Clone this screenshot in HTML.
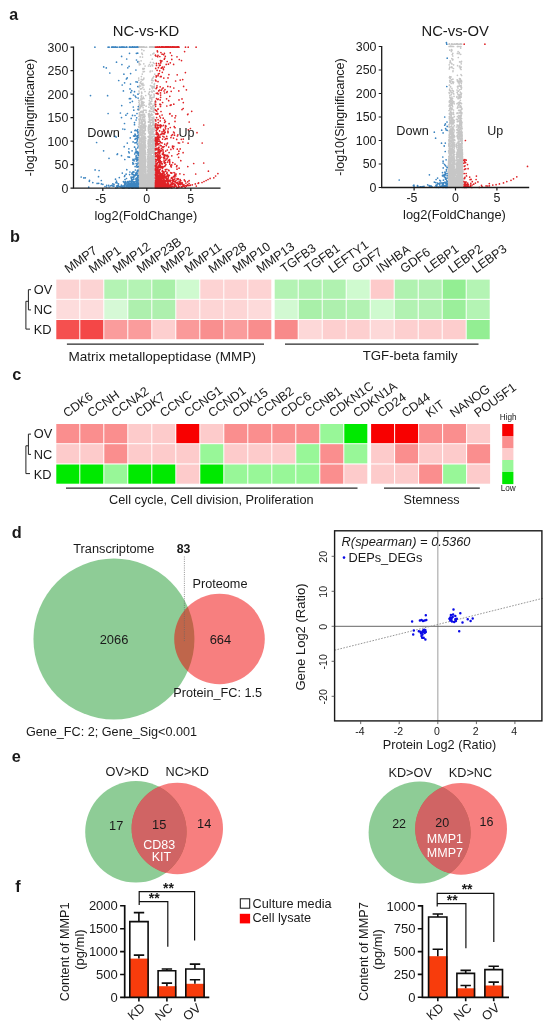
<!DOCTYPE html>
<html lang="en"><head><meta charset="utf-8"><title>Figure</title>
<style>html,body{margin:0;padding:0;background:#fff;width:550px;height:1025px;overflow:hidden}svg{display:block}text{font-family:"Liberation Sans",Arial,Helvetica,sans-serif;fill:#1a1a1a}</style></head>
<body>
<svg width="550" height="1025" viewBox="0 0 550 1025">
<rect width="550" height="1025" fill="#fff"/>
<g>
<path d="M154.2 168.9h.01M141.0 149.2h.01M154.1 120.0h.01M143.7 185.8h.01M145.5 152.5h.01M152.2 186.8h.01M145.3 173.0h.01M147.6 187.4h.01M139.1 183.4h.01M150.9 150.8h.01M147.4 178.5h.01M144.0 167.7h.01M151.5 138.1h.01M143.6 155.1h.01M146.0 170.5h.01M140.8 184.7h.01M145.2 129.0h.01M141.9 183.2h.01M142.9 186.6h.01M150.9 98.4h.01M143.2 165.7h.01M154.7 169.8h.01M154.4 177.0h.01M150.5 148.3h.01M143.1 126.3h.01M141.2 152.4h.01M154.5 152.2h.01M140.5 180.5h.01M148.8 169.3h.01M151.3 137.8h.01M148.6 141.0h.01M153.6 159.5h.01M139.3 144.0h.01M139.6 187.6h.01M149.1 171.7h.01M152.6 86.7h.01M148.3 156.1h.01M142.9 165.5h.01M152.4 151.5h.01M150.9 157.8h.01M141.0 146.1h.01M152.0 130.5h.01M149.8 175.8h.01M151.5 165.5h.01M141.8 171.7h.01M151.7 186.3h.01M141.7 148.6h.01M140.0 181.5h.01M152.6 158.0h.01M152.7 131.3h.01M153.0 163.2h.01M143.1 85.3h.01M138.7 166.1h.01M149.2 129.6h.01M150.4 71.1h.01M152.3 174.4h.01M143.2 142.5h.01M142.1 166.6h.01M149.1 126.1h.01M151.8 152.4h.01M154.4 184.8h.01M141.1 181.4h.01M153.3 167.4h.01M145.5 153.1h.01M148.3 185.0h.01M139.0 185.1h.01M149.6 143.9h.01M153.7 97.2h.01M152.1 144.8h.01M153.1 183.2h.01M149.4 132.7h.01M142.6 183.1h.01M151.2 140.6h.01M142.1 174.1h.01M152.2 169.1h.01M139.6 174.3h.01M152.1 117.5h.01M141.3 186.8h.01M144.8 152.9h.01M143.8 127.9h.01M149.9 175.8h.01M141.5 176.6h.01M145.1 150.3h.01M138.7 78.1h.01M142.9 180.0h.01M140.3 174.3h.01M149.0 167.4h.01M144.8 181.4h.01M150.5 152.7h.01M149.3 111.5h.01M145.7 185.4h.01M152.8 166.3h.01M149.0 151.7h.01M151.9 109.3h.01M144.2 176.8h.01M147.5 181.1h.01M141.8 173.8h.01M154.9 138.7h.01M142.6 173.7h.01M142.8 176.2h.01M139.8 171.5h.01M142.8 169.3h.01M151.1 154.0h.01M150.0 155.9h.01M140.7 179.6h.01M144.8 152.3h.01M145.5 185.4h.01M149.5 133.8h.01M148.2 180.9h.01M152.4 142.8h.01M150.5 156.7h.01M144.6 175.0h.01M146.0 177.0h.01M144.6 184.4h.01M140.4 175.5h.01M141.9 139.9h.01M143.3 186.3h.01M143.8 187.9h.01M143.7 79.0h.01M148.1 182.8h.01M154.5 159.1h.01M151.3 103.9h.01M151.6 182.9h.01M151.0 154.7h.01M148.4 179.7h.01M153.6 178.1h.01M149.9 181.2h.01M139.9 152.1h.01M142.1 165.0h.01M140.8 179.0h.01M151.5 173.3h.01M143.4 124.5h.01M151.2 182.1h.01M141.1 177.6h.01M154.4 108.0h.01M145.2 161.5h.01M143.4 187.3h.01M152.5 161.9h.01M140.7 163.6h.01M150.6 145.3h.01M141.7 170.3h.01M145.0 153.5h.01M142.4 119.1h.01M152.4 152.2h.01M145.0 186.6h.01M154.6 143.4h.01M148.9 157.3h.01M150.0 163.8h.01M143.7 167.4h.01M145.1 66.0h.01M154.0 177.7h.01M141.9 53.2h.01M154.8 172.0h.01M151.0 186.5h.01M144.5 181.6h.01M144.9 170.7h.01M144.9 179.4h.01M138.9 102.5h.01M154.5 174.8h.01M143.3 147.4h.01M150.9 138.5h.01M142.0 84.7h.01M153.4 181.5h.01M138.9 154.5h.01M143.6 180.7h.01M155.0 177.4h.01M142.9 166.9h.01M152.5 146.6h.01M148.5 66.0h.01M151.8 176.4h.01M148.9 149.0h.01M144.6 185.3h.01M151.1 169.8h.01M139.0 47.2h.01M145.9 178.8h.01M144.7 166.3h.01M140.7 179.1h.01M142.3 169.4h.01M147.8 176.7h.01M145.0 177.3h.01M151.6 184.2h.01M148.5 130.7h.01M152.7 162.6h.01M150.6 182.7h.01M148.5 173.7h.01M143.3 180.9h.01M151.4 145.9h.01M142.7 174.0h.01M139.8 158.8h.01M154.4 105.2h.01M151.3 173.5h.01M148.6 93.9h.01M139.2 178.0h.01M141.7 103.6h.01M149.7 185.5h.01M148.0 169.3h.01M141.2 171.3h.01M154.2 151.8h.01M141.1 169.2h.01M141.0 171.2h.01M150.4 150.3h.01M143.1 187.4h.01M140.8 146.7h.01M139.4 186.2h.01M141.5 99.6h.01M141.8 154.4h.01M146.0 176.9h.01M154.3 95.2h.01M154.2 166.4h.01M151.7 168.6h.01M149.6 182.8h.01M152.4 140.7h.01M154.0 167.6h.01M139.0 61.7h.01M140.5 145.1h.01M144.5 181.3h.01M140.1 180.9h.01M148.4 166.3h.01M142.9 175.3h.01M142.9 178.6h.01M143.3 180.9h.01M140.2 168.1h.01M150.7 55.0h.01M149.3 116.9h.01M148.5 136.4h.01M139.2 47.2h.01M145.6 187.7h.01M149.8 166.1h.01M141.2 172.3h.01M144.9 175.2h.01M138.9 181.2h.01M140.0 146.1h.01M142.2 99.0h.01M145.4 158.3h.01M153.1 185.2h.01M143.8 182.8h.01M139.0 153.3h.01M152.1 138.3h.01M139.6 170.8h.01M140.1 154.4h.01M154.4 169.5h.01M150.9 169.7h.01M144.1 181.8h.01M140.8 182.2h.01M144.2 132.8h.01M152.9 175.1h.01M145.5 184.2h.01M140.0 132.4h.01M153.8 162.0h.01M148.8 142.3h.01M140.5 112.0h.01M140.5 165.5h.01M146.2 184.7h.01M140.1 182.8h.01M149.0 164.2h.01M148.7 175.5h.01M139.1 178.6h.01M151.8 161.2h.01M151.5 176.2h.01M153.6 166.5h.01M149.6 110.7h.01M150.0 187.4h.01M141.3 83.6h.01M139.0 142.4h.01M139.7 186.4h.01M154.4 172.0h.01M149.2 176.6h.01M154.1 168.2h.01M144.3 127.6h.01M151.0 177.3h.01M139.7 185.7h.01M141.3 169.3h.01M143.2 131.9h.01M145.6 154.1h.01M148.0 143.6h.01M154.4 126.7h.01M152.3 144.7h.01M139.5 167.9h.01M144.9 150.8h.01M148.8 139.9h.01M142.7 161.9h.01M145.2 184.1h.01M154.1 168.2h.01M149.2 186.5h.01M148.2 181.2h.01M139.7 143.7h.01M139.5 170.4h.01M142.1 174.9h.01M140.9 152.6h.01M154.7 139.3h.01M138.7 164.5h.01M144.6 175.2h.01M139.6 47.2h.01M149.1 172.1h.01M139.4 161.0h.01M139.7 157.0h.01M139.9 179.0h.01M143.1 174.2h.01M148.0 160.2h.01M151.8 186.9h.01M143.0 164.1h.01M143.3 146.4h.01M152.1 172.2h.01M150.8 187.6h.01M140.7 161.2h.01M151.8 141.2h.01M152.2 134.3h.01M141.5 187.6h.01M148.9 166.1h.01M141.8 49.7h.01M142.6 137.8h.01M147.5 182.2h.01M142.1 186.0h.01M151.4 156.4h.01M143.2 126.5h.01M153.6 151.8h.01M143.6 120.1h.01M141.5 185.1h.01M144.8 157.9h.01M148.8 188.1h.01M139.2 166.1h.01M152.3 164.9h.01M139.5 175.7h.01M152.2 183.1h.01M151.9 108.4h.01M153.7 186.3h.01M149.5 166.8h.01M141.2 181.7h.01M145.8 175.8h.01M145.8 168.1h.01M149.0 154.7h.01M144.9 115.8h.01M149.7 180.5h.01M142.0 186.7h.01M144.4 176.2h.01M145.6 183.8h.01M140.6 140.8h.01M154.4 173.7h.01M149.9 166.9h.01M152.3 174.4h.01M144.5 175.8h.01M154.1 175.1h.01M151.9 187.7h.01M154.6 178.8h.01M141.8 173.6h.01M144.9 133.4h.01M148.7 167.1h.01M142.7 158.5h.01M140.3 157.3h.01M149.1 132.6h.01M144.9 165.4h.01M154.8 136.5h.01M145.3 127.7h.01M143.5 110.2h.01M151.9 178.0h.01M143.1 149.9h.01M143.3 177.8h.01M154.1 173.3h.01M154.4 173.1h.01M149.2 119.7h.01M143.2 181.3h.01M150.3 187.2h.01M142.2 171.9h.01M143.9 171.3h.01M147.5 156.0h.01M144.4 118.0h.01M154.6 145.5h.01M141.4 171.2h.01M148.7 159.4h.01M139.2 169.2h.01M140.1 161.2h.01M142.1 182.5h.01M154.8 154.1h.01M150.5 142.2h.01M152.8 97.6h.01M139.4 159.3h.01M149.8 155.0h.01M145.8 172.1h.01M145.4 166.7h.01M150.2 181.4h.01M143.7 168.2h.01M142.9 151.1h.01M145.0 110.2h.01M141.2 165.1h.01M143.1 71.8h.01M145.5 183.5h.01M151.7 177.7h.01M149.1 186.0h.01M147.8 170.2h.01M152.9 124.4h.01M141.8 179.6h.01M140.3 163.5h.01M145.1 139.1h.01M140.9 162.1h.01M147.7 175.7h.01M148.0 187.0h.01M140.8 116.6h.01M150.3 163.6h.01M147.7 187.6h.01M145.5 166.1h.01M153.6 112.2h.01M152.6 160.6h.01M142.2 176.8h.01M141.3 176.8h.01M153.6 167.9h.01M141.2 185.9h.01M151.0 185.1h.01M143.7 179.9h.01M144.5 143.0h.01M147.7 165.6h.01M153.8 159.1h.01M138.6 180.6h.01M141.3 149.6h.01M150.4 123.1h.01M145.1 183.9h.01M143.3 183.4h.01M154.4 103.5h.01M142.9 178.4h.01M150.3 95.7h.01M154.4 184.8h.01M151.1 153.9h.01M150.2 131.5h.01M150.5 185.6h.01M151.8 146.8h.01M143.1 185.7h.01M148.9 188.0h.01M151.8 163.8h.01M153.2 180.4h.01M153.4 185.4h.01M153.4 186.7h.01M140.2 185.3h.01M144.8 184.3h.01M153.2 159.7h.01M145.5 145.0h.01M143.0 179.5h.01M138.9 119.5h.01M143.3 79.4h.01M151.4 114.0h.01M138.9 171.8h.01M141.3 150.5h.01M143.7 178.1h.01M144.6 134.0h.01M153.1 158.5h.01M142.0 162.0h.01M147.8 152.1h.01M151.3 180.1h.01M153.8 131.2h.01M152.9 185.9h.01M140.8 153.1h.01M151.6 185.1h.01M149.7 182.2h.01M145.5 179.7h.01M139.0 91.1h.01M141.4 177.6h.01M150.9 167.6h.01M140.0 154.2h.01M143.7 146.7h.01M142.8 176.5h.01M150.8 186.2h.01M144.5 160.3h.01M140.0 169.7h.01M144.7 182.8h.01M144.0 139.5h.01M150.4 162.2h.01M143.9 179.3h.01M150.0 149.1h.01M153.1 187.7h.01M150.6 177.8h.01M145.3 185.3h.01M152.9 181.9h.01M140.9 126.4h.01M145.6 178.8h.01M145.8 177.1h.01M148.4 131.0h.01M145.4 165.1h.01M149.9 96.9h.01M144.0 175.2h.01M148.5 157.7h.01M150.5 128.6h.01M140.8 172.4h.01M144.0 179.7h.01M154.1 171.0h.01M154.4 141.7h.01M154.9 183.0h.01M139.3 123.2h.01M152.1 160.7h.01M153.9 172.5h.01M153.4 169.5h.01M150.3 181.0h.01M149.7 171.2h.01M150.4 160.9h.01M151.5 182.1h.01M142.3 177.3h.01M140.2 163.0h.01M153.5 171.2h.01M151.0 170.7h.01M141.5 184.2h.01M152.1 182.5h.01M143.5 179.8h.01M149.0 117.2h.01M144.4 130.3h.01M142.1 162.4h.01M141.5 104.7h.01M139.8 168.0h.01M139.8 142.3h.01M139.7 187.9h.01M140.1 150.8h.01M152.3 161.0h.01M147.1 185.4h.01M140.7 148.4h.01M147.5 179.3h.01M142.0 147.6h.01M152.9 139.9h.01M144.9 183.5h.01M153.8 123.3h.01M142.4 135.6h.01M150.5 161.8h.01M151.5 167.8h.01M144.5 170.0h.01M152.8 187.0h.01M153.6 163.4h.01M149.0 146.8h.01M154.7 186.8h.01M150.6 183.9h.01M152.2 128.8h.01M153.3 186.9h.01M143.1 135.1h.01M154.8 184.6h.01M141.6 173.2h.01M152.1 164.1h.01M144.1 172.6h.01M149.9 180.1h.01M142.2 146.1h.01M144.4 181.5h.01M144.9 149.5h.01M142.5 173.5h.01M139.2 179.4h.01M151.2 186.0h.01M154.2 86.2h.01M142.3 151.2h.01M141.3 139.1h.01M144.3 159.4h.01M140.0 175.8h.01M149.3 92.2h.01M144.6 149.7h.01M147.8 188.0h.01M153.4 150.0h.01M152.7 157.6h.01M153.7 177.6h.01M153.9 162.4h.01M148.3 186.8h.01M139.2 138.3h.01M140.3 131.6h.01M147.2 186.2h.01M152.6 47.2h.01M145.7 162.8h.01M138.7 170.1h.01M142.1 142.5h.01M151.1 179.5h.01M141.2 158.8h.01M141.9 183.7h.01M143.3 97.1h.01M148.6 130.9h.01M152.3 171.4h.01M142.2 179.6h.01M147.3 184.9h.01M151.9 151.6h.01M142.2 139.1h.01M140.2 164.3h.01M151.6 171.2h.01M155.0 178.1h.01M143.5 146.4h.01M148.1 136.5h.01M144.7 186.3h.01M140.5 166.5h.01M151.7 180.7h.01M153.2 152.8h.01M154.6 126.0h.01M144.6 157.2h.01M142.7 168.6h.01M140.4 160.5h.01M151.8 178.1h.01M142.5 163.6h.01M152.5 156.3h.01M150.3 139.9h.01M141.9 176.2h.01M149.0 171.5h.01M152.0 186.3h.01M153.9 181.3h.01M141.3 173.5h.01M152.1 176.2h.01M151.3 181.3h.01M142.6 180.3h.01M143.4 185.2h.01M154.3 167.3h.01M144.5 171.2h.01M143.3 171.0h.01M150.4 180.9h.01M140.8 151.5h.01M144.5 165.8h.01M148.5 183.5h.01M149.1 136.6h.01M145.7 159.3h.01M153.1 132.6h.01M152.3 71.0h.01M153.9 160.2h.01M145.9 185.3h.01M150.6 142.7h.01M145.7 179.2h.01M143.2 120.9h.01M149.3 164.3h.01M154.1 181.7h.01M151.8 162.6h.01M143.3 68.6h.01M142.3 170.5h.01M151.2 145.3h.01M150.2 165.9h.01M152.8 105.9h.01M141.0 138.5h.01M152.7 179.1h.01M145.7 95.5h.01M143.1 156.6h.01M144.2 185.5h.01M154.9 180.0h.01M154.3 160.3h.01M140.0 155.5h.01M143.8 177.5h.01M150.4 183.2h.01M139.2 157.8h.01M139.2 144.6h.01M139.4 178.1h.01M152.8 147.8h.01M144.1 166.9h.01M143.8 186.5h.01M151.6 165.7h.01M143.8 63.8h.01M150.7 160.4h.01M144.7 179.4h.01M143.5 173.7h.01M141.4 160.2h.01M139.8 180.9h.01M152.9 146.1h.01M152.8 168.4h.01M146.2 184.0h.01M149.9 145.4h.01M152.7 121.0h.01M145.0 136.3h.01M150.3 170.5h.01M151.0 173.3h.01M139.9 162.6h.01M140.9 135.3h.01M150.9 154.0h.01M150.2 183.7h.01M141.6 101.9h.01M152.1 162.3h.01M151.7 137.7h.01M144.1 151.8h.01M144.2 178.4h.01M140.4 160.9h.01M145.9 182.3h.01M140.4 130.7h.01M148.8 152.4h.01M148.1 169.1h.01M139.8 182.6h.01M148.8 174.0h.01M150.9 106.5h.01M140.9 161.9h.01M148.4 121.9h.01M152.0 179.5h.01M141.8 125.2h.01M153.6 90.9h.01M154.5 141.6h.01M150.3 174.1h.01M152.9 107.0h.01M143.1 145.4h.01M149.5 177.3h.01M153.8 141.4h.01M139.3 112.9h.01M152.1 141.0h.01M142.5 156.6h.01M151.7 175.0h.01M149.1 169.9h.01M151.7 163.3h.01M145.2 158.8h.01M153.7 76.6h.01M139.8 177.5h.01M141.2 152.3h.01M154.5 158.1h.01M153.6 153.4h.01M141.0 183.2h.01M154.5 129.5h.01M143.0 180.9h.01M153.2 148.3h.01M153.4 147.0h.01M139.0 134.0h.01M138.8 176.9h.01M144.0 125.2h.01M153.9 187.4h.01M151.6 166.6h.01M144.9 158.9h.01M152.7 114.8h.01M143.7 183.0h.01M144.3 178.9h.01M141.7 165.9h.01M154.3 174.9h.01M151.8 165.5h.01M142.9 87.3h.01M154.4 184.2h.01M142.1 187.7h.01M145.6 186.4h.01M150.4 169.5h.01M151.2 155.0h.01M140.4 175.1h.01M154.1 63.5h.01M149.7 145.8h.01M139.6 186.2h.01M152.3 152.1h.01M154.5 150.7h.01M152.3 178.3h.01M138.8 138.1h.01M153.2 170.5h.01M139.9 187.7h.01M153.9 154.9h.01M154.2 84.3h.01M139.5 150.0h.01M152.3 59.2h.01M150.8 131.8h.01M154.5 83.5h.01M138.7 136.2h.01M145.7 187.9h.01M143.3 177.9h.01M140.4 187.6h.01M150.6 176.9h.01M144.2 147.8h.01M139.3 47.2h.01M140.8 173.8h.01M151.8 165.8h.01M148.5 156.9h.01M142.1 135.0h.01M150.0 155.3h.01M140.8 169.3h.01M149.6 164.2h.01M149.3 168.1h.01M138.7 174.7h.01M150.5 182.7h.01M151.0 148.8h.01M150.2 178.0h.01M153.1 152.8h.01M151.0 176.7h.01M153.7 176.0h.01M145.4 162.9h.01M139.2 184.9h.01M141.6 154.7h.01M143.3 176.5h.01M139.3 186.6h.01M140.4 131.7h.01M142.7 187.3h.01M143.3 132.4h.01M150.8 152.4h.01M152.6 183.2h.01M152.7 136.6h.01M144.7 141.6h.01M150.2 169.7h.01M152.6 143.4h.01M141.1 112.5h.01M141.9 161.3h.01M149.2 121.5h.01M143.0 138.4h.01M141.8 186.1h.01M144.6 179.2h.01M138.9 160.8h.01M145.8 176.2h.01M139.4 155.5h.01M142.6 177.5h.01M142.2 175.8h.01M144.0 102.3h.01M140.7 187.1h.01M149.9 183.1h.01M144.2 167.6h.01M153.8 180.5h.01M152.7 140.7h.01M143.6 160.5h.01M139.3 186.8h.01M151.2 168.7h.01M142.5 158.8h.01M144.1 162.0h.01M148.1 166.9h.01M155.0 158.7h.01M143.5 178.6h.01M148.9 146.9h.01M149.8 185.6h.01M142.1 141.7h.01M148.4 157.0h.01M149.4 172.8h.01M140.5 185.6h.01M140.7 147.6h.01M154.6 159.5h.01M152.1 92.3h.01M152.2 175.2h.01M153.9 141.0h.01M154.3 182.3h.01M145.1 187.4h.01M151.0 185.8h.01M149.1 171.9h.01M147.8 184.7h.01M149.7 183.3h.01M143.8 187.1h.01M152.7 183.1h.01M145.3 162.8h.01M141.0 83.4h.01M138.8 47.2h.01M149.1 179.6h.01M142.4 182.9h.01M154.3 47.2h.01M141.8 173.8h.01M143.8 164.4h.01M154.7 125.0h.01M153.7 168.2h.01M151.4 167.5h.01M140.6 131.7h.01M142.2 159.0h.01M145.0 167.4h.01M153.0 184.4h.01M144.1 174.4h.01M143.9 154.2h.01M151.5 164.8h.01M139.5 156.5h.01M142.3 186.5h.01M152.1 168.6h.01M148.7 125.1h.01M144.7 157.9h.01M140.7 163.2h.01M146.1 176.6h.01M154.8 149.6h.01M148.4 161.2h.01M148.1 184.5h.01M154.8 185.1h.01M153.1 150.4h.01M155.0 174.9h.01M154.2 140.7h.01M149.5 180.2h.01M143.6 127.6h.01M148.9 158.7h.01M144.3 183.9h.01M151.9 180.3h.01M140.9 154.4h.01M152.4 97.7h.01M146.1 183.6h.01M148.5 180.1h.01M140.2 178.8h.01M143.3 167.1h.01M154.2 146.2h.01M149.4 150.2h.01M144.6 169.5h.01M151.3 176.6h.01M151.5 134.5h.01M152.2 162.7h.01M143.4 148.8h.01M142.5 178.7h.01M149.1 184.4h.01M147.9 180.8h.01M142.1 139.9h.01M143.8 178.6h.01M150.9 151.4h.01M144.5 165.6h.01M151.0 142.8h.01M139.4 109.4h.01M154.2 185.4h.01M142.0 179.9h.01M153.7 118.2h.01M142.8 185.0h.01M142.3 164.1h.01M154.7 127.6h.01M153.4 145.9h.01M139.6 159.8h.01M148.5 162.3h.01M142.7 139.0h.01M142.1 182.5h.01M153.9 177.6h.01M148.8 162.3h.01M145.9 179.4h.01M139.6 154.0h.01M144.7 138.2h.01M152.8 185.8h.01M143.6 183.8h.01M143.9 174.3h.01M148.5 186.5h.01M142.7 169.3h.01M151.2 164.4h.01M143.3 182.6h.01M148.0 182.5h.01M144.6 138.0h.01M142.3 159.2h.01M140.5 186.0h.01M147.9 162.2h.01M154.0 138.5h.01M138.9 157.4h.01M152.8 178.8h.01M154.4 185.1h.01M147.5 174.3h.01M154.5 170.0h.01M150.2 180.9h.01M146.2 186.6h.01M149.8 183.9h.01M142.5 185.5h.01M150.3 157.3h.01M149.7 111.0h.01M154.0 181.2h.01M142.4 152.3h.01M143.1 176.7h.01M139.5 152.5h.01M148.8 182.2h.01M148.9 160.7h.01M155.0 182.6h.01M148.5 114.4h.01M145.1 186.0h.01M153.4 87.4h.01M138.9 159.9h.01M143.6 161.7h.01M150.9 187.4h.01M141.3 96.0h.01M144.5 150.8h.01M152.5 187.6h.01M144.3 155.0h.01M142.6 142.6h.01M153.2 185.5h.01M139.9 148.2h.01M152.6 169.3h.01M143.8 132.7h.01M142.0 169.2h.01M154.4 168.2h.01M150.9 161.0h.01M146.1 186.0h.01M147.8 181.3h.01M143.8 175.6h.01M154.7 175.2h.01M144.9 152.9h.01M153.1 177.0h.01M149.4 117.4h.01M153.6 176.7h.01M144.4 71.5h.01M145.4 187.4h.01M144.7 163.8h.01M152.2 137.5h.01M154.2 96.8h.01M152.1 161.5h.01M146.0 179.0h.01M152.2 47.2h.01M150.6 145.2h.01M141.6 182.9h.01M142.5 173.6h.01M150.1 182.1h.01M141.9 129.8h.01M147.8 159.5h.01M151.8 167.2h.01M148.6 184.9h.01M142.8 68.5h.01M140.6 163.1h.01M139.2 179.8h.01M139.4 173.2h.01M142.4 115.0h.01M147.7 188.1h.01M145.6 177.7h.01M142.0 141.9h.01M143.6 177.4h.01M146.2 187.9h.01M151.7 145.2h.01M149.4 175.7h.01M139.3 181.4h.01M141.7 185.9h.01M152.6 129.0h.01M153.1 177.6h.01M150.7 185.1h.01M149.9 124.8h.01M152.0 87.2h.01M143.2 170.0h.01M142.4 165.4h.01M150.8 152.2h.01M154.3 172.9h.01M142.4 123.5h.01M144.7 182.8h.01M150.9 172.3h.01M140.8 183.3h.01M144.7 162.2h.01M145.7 167.7h.01M154.2 179.6h.01M149.8 181.7h.01M150.3 172.1h.01M155.0 141.7h.01M142.3 74.1h.01M148.5 170.5h.01M140.4 116.0h.01M141.3 169.7h.01M150.0 168.5h.01M152.1 169.5h.01M149.0 136.3h.01M148.1 188.0h.01M151.6 136.8h.01M154.3 153.4h.01M153.8 183.0h.01M151.9 47.2h.01M145.7 172.3h.01M151.2 179.4h.01M142.4 146.8h.01M153.4 176.3h.01M143.2 188.1h.01M154.7 159.7h.01M143.6 177.3h.01M142.9 148.2h.01M144.1 184.6h.01M141.9 111.4h.01M142.9 160.5h.01M153.1 182.7h.01M153.9 180.9h.01M141.2 163.3h.01M145.5 140.7h.01M152.2 161.7h.01M149.4 184.8h.01M145.3 162.7h.01M151.5 162.0h.01M148.5 165.5h.01M142.0 181.2h.01M151.6 113.5h.01M146.2 184.9h.01M153.1 153.0h.01M149.5 163.6h.01M141.1 176.9h.01M151.0 166.4h.01M148.1 176.9h.01M147.5 183.8h.01M145.5 138.6h.01M149.5 186.4h.01M139.7 144.6h.01M153.9 156.3h.01M142.0 126.4h.01M140.9 186.8h.01M145.3 122.6h.01M144.8 172.7h.01M149.7 162.5h.01M151.6 155.3h.01M139.5 167.2h.01M144.9 119.8h.01M148.8 164.0h.01M139.0 173.0h.01M154.2 127.6h.01M149.1 178.4h.01M146.0 166.6h.01M141.0 163.6h.01M139.7 130.0h.01M149.8 116.7h.01M153.7 135.8h.01M151.6 187.5h.01M139.0 178.4h.01M139.3 154.9h.01M148.0 180.1h.01M148.5 169.6h.01M153.0 125.4h.01M153.3 182.1h.01M154.8 47.2h.01M144.1 155.5h.01M154.9 119.7h.01M150.1 180.8h.01M139.6 185.0h.01M153.5 187.8h.01M148.7 145.3h.01M141.8 183.2h.01M144.3 68.7h.01M148.1 175.0h.01M149.3 100.6h.01M150.8 117.0h.01M154.6 177.0h.01M152.6 164.7h.01M141.1 140.1h.01M140.3 107.9h.01M152.6 173.8h.01M148.6 168.3h.01M154.6 141.8h.01M145.7 178.2h.01M141.6 101.5h.01M139.2 93.2h.01M151.2 165.4h.01M140.0 134.2h.01M149.2 170.1h.01M147.8 162.2h.01M150.7 155.3h.01M154.1 155.3h.01M142.5 145.9h.01M150.9 185.7h.01M141.9 165.4h.01M140.1 82.8h.01M140.9 147.8h.01M153.9 170.3h.01M151.5 179.9h.01M141.9 187.2h.01M138.9 185.0h.01M149.1 147.1h.01M143.9 185.7h.01M142.3 176.3h.01M141.9 134.2h.01M144.2 185.6h.01M154.0 166.3h.01M147.9 171.2h.01M153.3 144.2h.01M153.8 117.1h.01M153.3 174.9h.01M138.9 116.3h.01M154.1 176.4h.01M141.1 164.3h.01M147.7 149.5h.01M149.8 181.8h.01M151.5 178.9h.01M149.1 158.3h.01M152.2 152.4h.01M149.1 137.9h.01M149.5 187.8h.01M152.6 174.8h.01M139.8 158.9h.01M139.1 137.7h.01M141.1 47.2h.01M139.1 160.7h.01M152.8 180.3h.01M144.0 158.2h.01M151.5 173.7h.01M149.9 98.6h.01M153.8 173.3h.01M150.1 139.6h.01M152.8 183.6h.01M140.4 64.3h.01M140.1 180.1h.01M147.7 178.5h.01M143.7 186.8h.01M152.4 170.2h.01M141.3 167.0h.01M152.9 133.4h.01M145.6 172.6h.01M138.9 137.4h.01M143.0 171.9h.01M144.9 185.0h.01M139.0 184.8h.01M140.9 172.9h.01M143.5 174.1h.01M144.1 160.8h.01M145.8 184.1h.01M143.5 174.1h.01M143.9 78.0h.01M146.2 184.8h.01M144.4 175.2h.01M150.9 125.6h.01M151.4 135.0h.01M138.9 131.9h.01M141.3 183.0h.01M140.3 173.9h.01M144.4 163.8h.01M144.4 184.6h.01M150.9 154.8h.01M150.6 126.8h.01M153.1 180.4h.01M149.8 138.5h.01M148.4 169.1h.01M154.9 164.4h.01M149.1 146.1h.01M145.0 121.3h.01M143.6 117.4h.01M139.2 168.2h.01M154.1 164.8h.01M150.9 167.3h.01M144.8 169.7h.01M152.9 172.9h.01M151.1 128.8h.01M154.3 183.6h.01M153.2 176.0h.01M145.9 173.7h.01M145.6 146.1h.01M141.1 177.8h.01M140.3 162.2h.01M144.5 123.7h.01M142.1 175.9h.01M139.7 174.8h.01M150.7 187.4h.01M154.3 159.9h.01M149.9 175.5h.01M153.5 184.0h.01M152.9 158.5h.01M149.2 170.2h.01M144.5 169.8h.01M143.9 85.0h.01M141.4 149.9h.01M149.4 154.3h.01M148.2 167.4h.01M150.7 163.9h.01M144.1 184.1h.01M138.6 126.6h.01M142.1 149.2h.01M143.4 182.7h.01M145.0 186.3h.01M149.4 142.8h.01M142.3 150.7h.01M138.7 183.3h.01M149.8 103.2h.01M152.8 160.2h.01M152.7 131.2h.01M152.9 122.6h.01M141.8 167.2h.01M154.7 186.3h.01M141.7 136.6h.01M140.1 130.2h.01M139.8 164.0h.01M149.0 114.9h.01M148.9 172.2h.01M151.5 177.3h.01M149.4 153.2h.01M141.3 164.7h.01M150.6 103.7h.01M138.7 171.9h.01M149.4 64.5h.01M141.3 183.0h.01M141.2 175.3h.01M153.4 183.7h.01M153.8 183.3h.01M150.4 161.5h.01M142.4 166.6h.01M144.3 180.4h.01M140.5 177.6h.01M142.5 160.8h.01M139.6 139.1h.01M154.5 184.0h.01M142.5 142.0h.01M145.0 116.2h.01M142.7 159.2h.01M149.3 137.5h.01M151.1 133.8h.01M138.8 182.4h.01M142.0 178.0h.01M148.4 158.8h.01M148.1 161.9h.01M152.1 164.3h.01M139.9 159.4h.01M144.7 153.0h.01M145.2 146.2h.01M144.4 169.9h.01M150.6 166.2h.01M140.3 88.8h.01M139.6 173.9h.01M143.7 116.0h.01M140.1 178.7h.01M145.0 174.9h.01M148.1 178.4h.01M140.0 178.6h.01M146.1 183.8h.01M147.7 180.8h.01M147.9 180.7h.01M139.1 174.3h.01M151.3 183.5h.01M150.4 141.7h.01M143.5 136.6h.01M150.7 97.9h.01M152.3 173.3h.01M142.7 171.0h.01M151.2 149.7h.01M145.6 183.2h.01M154.2 176.8h.01M153.0 170.4h.01M144.5 161.3h.01M144.5 182.1h.01M154.3 168.9h.01M141.0 155.4h.01M149.2 115.7h.01M150.4 187.4h.01M139.7 183.4h.01M148.4 182.9h.01M144.2 180.6h.01M154.5 178.0h.01M140.4 170.7h.01M150.2 171.6h.01M142.0 176.3h.01M154.1 174.4h.01M146.0 180.9h.01M142.7 187.5h.01M152.8 176.7h.01M139.8 185.4h.01M149.4 140.4h.01M141.0 153.4h.01M142.3 161.3h.01M152.6 182.6h.01M139.8 169.3h.01M150.6 184.5h.01M139.6 167.5h.01M148.8 179.1h.01M141.0 81.5h.01M151.7 182.7h.01M142.2 154.3h.01M142.5 145.3h.01M151.1 162.9h.01M142.7 158.9h.01M142.9 157.7h.01M138.8 174.0h.01M153.3 159.0h.01M139.2 135.4h.01M143.8 186.1h.01M149.2 183.4h.01M144.1 161.5h.01M148.4 186.7h.01M144.6 171.5h.01M153.0 163.4h.01M141.2 187.6h.01M138.9 178.4h.01M140.2 158.1h.01M148.3 176.2h.01M152.3 130.8h.01M154.2 150.0h.01M145.2 172.8h.01M152.1 184.7h.01M145.2 187.6h.01M144.7 176.8h.01M140.8 143.9h.01M152.8 136.8h.01M144.1 169.1h.01M149.2 154.0h.01M154.9 176.1h.01M142.8 156.9h.01M151.5 171.6h.01M141.7 88.7h.01M152.1 179.2h.01M140.3 133.5h.01M154.5 150.9h.01M145.4 163.8h.01M151.5 178.6h.01M154.4 176.2h.01M142.6 105.7h.01M140.8 174.8h.01M150.8 185.9h.01M149.7 150.3h.01M145.9 171.4h.01M149.2 129.4h.01M154.1 187.3h.01M152.4 186.5h.01M147.9 166.8h.01M153.5 152.3h.01M153.6 172.3h.01M151.2 47.2h.01M140.6 123.0h.01M147.8 186.5h.01M148.6 176.9h.01M153.0 174.2h.01M148.6 187.9h.01M150.3 188.0h.01M140.0 173.2h.01M139.5 120.8h.01M139.1 124.6h.01M140.4 135.2h.01M142.8 68.5h.01M139.4 171.3h.01M148.4 129.7h.01M148.0 149.6h.01M138.8 176.4h.01M140.7 183.6h.01M138.7 182.5h.01M151.6 177.9h.01M153.5 136.0h.01M139.8 151.5h.01M149.4 177.8h.01M139.5 148.3h.01M148.1 166.9h.01M148.8 169.8h.01M154.8 165.4h.01M148.7 182.0h.01M141.3 153.8h.01M153.9 53.2h.01M143.5 47.2h.01M147.4 175.8h.01M151.8 156.8h.01M140.0 171.0h.01M144.6 153.9h.01M145.9 183.1h.01M148.4 121.8h.01M153.5 185.1h.01M143.6 174.2h.01M144.3 170.0h.01M149.6 153.2h.01M142.0 180.1h.01M143.8 170.7h.01M148.8 170.2h.01M148.1 171.2h.01M149.8 174.4h.01M142.4 80.0h.01M138.9 158.7h.01M148.5 180.6h.01M142.3 170.2h.01M138.7 177.8h.01M144.8 125.2h.01M143.1 176.1h.01M149.8 91.6h.01M143.5 146.0h.01M144.6 176.7h.01M150.5 145.2h.01M149.7 163.3h.01M141.2 185.5h.01M148.2 167.4h.01M153.9 127.8h.01M153.5 170.1h.01M152.5 129.3h.01M143.2 187.2h.01M154.3 134.3h.01M141.9 181.2h.01M145.2 154.8h.01M140.5 156.3h.01M150.4 184.4h.01M149.9 179.1h.01M138.7 186.8h.01M154.7 185.6h.01M143.7 138.3h.01M150.8 184.0h.01M153.8 182.1h.01M151.4 171.2h.01M147.4 186.0h.01M141.0 175.5h.01M144.9 176.1h.01M152.1 175.1h.01M149.8 142.7h.01M149.5 94.7h.01M149.8 180.3h.01M144.3 145.6h.01M154.7 140.4h.01M144.1 174.6h.01M141.7 168.5h.01M149.6 158.5h.01M141.4 185.1h.01M154.6 127.2h.01M148.0 175.6h.01M140.6 134.2h.01M139.0 161.4h.01M148.5 183.2h.01M139.3 162.7h.01M139.5 170.7h.01M145.4 165.2h.01M152.2 180.1h.01M140.7 99.9h.01M152.8 172.8h.01M145.2 122.2h.01M152.6 119.6h.01M141.1 128.4h.01M139.4 183.8h.01M142.1 181.4h.01M152.0 47.2h.01M153.1 142.3h.01M140.0 160.8h.01M142.8 171.0h.01M143.6 126.6h.01M141.5 174.7h.01M139.5 180.9h.01M141.8 173.5h.01M139.7 146.8h.01M154.0 161.8h.01M141.1 179.7h.01M153.1 179.2h.01M143.8 183.0h.01M150.8 157.6h.01M152.4 176.7h.01M148.5 161.6h.01M150.4 157.2h.01M149.0 179.5h.01M153.8 180.3h.01M151.4 157.6h.01M145.5 184.4h.01M143.4 177.0h.01M141.2 169.0h.01M142.4 181.9h.01M142.5 182.9h.01M153.1 162.7h.01M150.1 172.7h.01M147.4 180.8h.01M152.4 173.7h.01M145.1 136.9h.01M149.8 155.1h.01M148.6 167.5h.01M142.0 132.5h.01M143.8 187.4h.01M147.8 158.3h.01M142.2 183.6h.01M153.6 186.4h.01M139.3 174.3h.01M153.0 80.7h.01M154.7 161.0h.01M148.7 132.8h.01M142.1 124.8h.01M151.9 182.5h.01M150.3 142.1h.01M143.9 47.2h.01M142.2 158.6h.01M154.2 186.7h.01M139.9 131.3h.01M139.6 103.8h.01M151.4 137.2h.01M151.3 169.9h.01M143.7 175.2h.01M144.7 126.9h.01M149.9 185.3h.01M148.4 182.2h.01M149.2 132.1h.01M145.7 184.9h.01M154.7 162.9h.01M141.0 183.9h.01M149.0 181.8h.01M142.0 175.5h.01M144.1 186.2h.01M143.5 136.3h.01M152.1 160.4h.01M148.1 141.9h.01M144.0 179.2h.01M146.2 177.5h.01M142.5 57.1h.01M144.7 175.1h.01M140.0 149.8h.01M138.9 127.4h.01M148.3 183.7h.01M142.0 149.6h.01M151.7 177.9h.01M139.0 171.9h.01M142.3 169.2h.01M148.9 181.6h.01M140.8 129.1h.01M145.5 183.2h.01M143.5 177.0h.01M143.0 168.9h.01M142.5 172.2h.01M154.6 176.4h.01M143.8 168.5h.01M140.5 187.0h.01M153.6 147.2h.01M141.2 111.5h.01M150.7 165.6h.01M149.4 140.3h.01M150.4 153.0h.01M151.3 133.9h.01M141.6 161.6h.01M139.2 63.6h.01M145.9 161.3h.01M142.5 187.2h.01M151.9 185.1h.01M140.4 168.2h.01M138.8 80.2h.01M151.9 122.5h.01M144.5 164.7h.01M141.2 138.7h.01M145.1 146.3h.01M146.0 178.9h.01M148.5 176.6h.01M139.2 181.1h.01M154.2 187.2h.01M148.4 160.2h.01M149.8 158.2h.01M154.7 182.6h.01M154.9 169.0h.01M148.6 171.1h.01M153.6 185.0h.01M148.1 182.4h.01M152.1 64.9h.01M152.1 131.8h.01M144.9 146.7h.01M144.0 175.2h.01M154.0 131.1h.01M144.0 138.1h.01M151.4 187.6h.01M141.5 175.4h.01M144.8 143.9h.01M143.1 69.5h.01M142.5 173.7h.01M154.4 109.2h.01M149.6 132.9h.01M152.5 150.6h.01M149.7 183.9h.01M140.7 170.0h.01M142.1 176.8h.01M153.2 148.6h.01M147.7 158.4h.01M148.3 137.0h.01M141.3 121.3h.01M140.9 178.8h.01M142.2 130.5h.01M143.9 139.8h.01M147.8 173.8h.01M144.7 174.3h.01M149.7 126.8h.01M145.7 138.6h.01M154.2 179.5h.01M139.3 173.9h.01M149.0 104.3h.01M150.7 152.1h.01M141.6 157.0h.01M152.7 165.5h.01M140.6 170.5h.01M151.9 157.3h.01M141.8 115.0h.01M145.6 164.0h.01M145.1 184.6h.01M149.0 185.5h.01M139.3 185.7h.01M152.0 82.8h.01M153.6 167.6h.01M141.4 99.3h.01M145.9 126.1h.01M154.3 163.0h.01M149.0 175.8h.01M153.6 188.0h.01M138.7 177.7h.01M154.8 187.5h.01M152.1 120.4h.01M152.2 185.0h.01M140.2 155.6h.01M151.2 181.6h.01M154.9 129.4h.01M139.8 187.4h.01M150.9 151.4h.01M149.2 186.1h.01M141.1 186.3h.01M142.0 156.8h.01M141.3 97.1h.01M153.6 180.2h.01M154.8 147.5h.01M150.9 182.0h.01M152.4 177.6h.01M144.0 89.4h.01M140.4 186.2h.01M150.5 101.6h.01M151.6 186.2h.01M150.0 168.2h.01M141.5 114.9h.01M139.1 168.2h.01M141.1 180.5h.01M143.4 162.5h.01M142.7 178.4h.01M153.9 147.4h.01M143.9 126.8h.01M147.8 157.9h.01M154.5 112.6h.01M149.6 183.3h.01M144.9 180.8h.01M150.9 181.3h.01M141.8 180.9h.01M140.3 131.2h.01M139.3 186.5h.01M149.5 182.7h.01M149.4 177.8h.01M149.6 47.2h.01M149.6 182.4h.01M148.2 155.3h.01M154.0 177.0h.01M140.6 131.6h.01M142.7 153.1h.01M145.3 178.6h.01M148.6 122.2h.01M144.5 136.1h.01M145.7 160.6h.01M143.4 119.5h.01M150.5 184.0h.01M152.4 182.4h.01M144.2 121.3h.01M151.7 177.8h.01M141.8 179.1h.01M154.6 147.4h.01M144.4 162.2h.01M149.4 169.5h.01M140.0 178.0h.01M148.2 181.2h.01M139.4 186.2h.01M147.4 185.9h.01M154.2 183.0h.01M141.6 180.1h.01M139.4 184.2h.01M148.9 184.0h.01M143.7 148.5h.01M147.6 176.8h.01M142.8 183.3h.01M149.9 125.2h.01M140.7 176.0h.01M151.2 179.7h.01M153.2 129.2h.01M144.0 98.6h.01M147.6 167.2h.01M154.2 165.8h.01M140.9 128.9h.01M152.2 169.8h.01M150.6 168.6h.01M154.4 47.2h.01M147.5 187.3h.01M144.5 155.7h.01M139.6 132.1h.01M147.9 180.9h.01M150.1 120.6h.01M145.1 159.8h.01M141.3 186.4h.01M152.2 158.5h.01M154.1 187.3h.01M142.5 165.6h.01M148.6 139.5h.01M144.8 178.5h.01M150.1 71.8h.01M139.5 177.1h.01M153.7 173.8h.01M152.6 119.0h.01M140.9 154.5h.01M149.1 138.1h.01M144.0 175.0h.01M142.1 145.6h.01M152.5 117.5h.01M150.9 130.1h.01M152.9 53.9h.01M144.2 177.3h.01M142.4 54.3h.01M146.0 181.5h.01M141.4 178.5h.01M144.3 170.4h.01M149.1 126.4h.01M143.1 164.7h.01M149.3 171.5h.01M151.7 126.6h.01M148.9 153.8h.01M146.3 187.6h.01M145.0 161.6h.01M139.8 140.2h.01M151.2 188.1h.01M154.3 175.4h.01M142.6 181.8h.01M150.0 136.9h.01M148.5 169.9h.01M151.9 167.9h.01M149.8 150.1h.01M141.8 186.7h.01M140.8 159.7h.01M144.1 166.8h.01M141.7 165.1h.01M148.5 183.6h.01M140.1 143.5h.01M149.7 127.6h.01M151.5 95.0h.01M139.3 64.8h.01M153.1 150.4h.01M152.0 180.0h.01M139.3 122.2h.01M139.1 179.6h.01M139.9 184.1h.01M139.9 162.6h.01M140.1 177.4h.01M154.5 159.0h.01M151.9 184.4h.01M149.6 145.9h.01M151.5 160.4h.01M142.1 177.7h.01M140.3 172.0h.01M143.9 175.8h.01M151.1 138.5h.01M151.0 185.7h.01M150.4 149.3h.01M150.7 187.4h.01M148.2 161.7h.01M142.2 188.0h.01M153.9 153.7h.01M154.3 127.1h.01M139.9 161.5h.01M140.6 86.0h.01M139.6 169.1h.01M153.3 142.7h.01M144.1 170.0h.01M153.0 145.4h.01M142.6 121.3h.01M147.6 178.2h.01M153.1 178.7h.01M152.9 178.6h.01M140.8 181.1h.01M143.6 47.2h.01M145.3 184.5h.01M151.3 173.7h.01M149.9 163.0h.01M144.8 133.4h.01M143.3 112.3h.01M148.1 146.2h.01M151.8 178.0h.01M144.4 187.7h.01M143.3 181.2h.01M138.8 181.9h.01M140.4 173.6h.01M140.8 111.7h.01M145.7 170.1h.01M151.3 179.3h.01M145.2 152.2h.01M141.0 112.6h.01M141.4 163.4h.01M154.2 178.4h.01M148.8 114.7h.01M143.5 144.6h.01M152.4 88.6h.01M154.1 174.7h.01M144.9 162.3h.01M144.8 150.4h.01M152.8 152.9h.01M150.3 174.3h.01M153.5 145.0h.01M139.2 137.4h.01M140.8 181.5h.01M148.2 177.1h.01M145.7 179.6h.01M153.4 186.0h.01M147.8 178.3h.01M142.9 186.4h.01M143.5 136.9h.01M148.9 137.3h.01M148.2 176.7h.01M150.2 183.4h.01M154.6 182.6h.01M139.2 165.3h.01M151.6 175.7h.01M153.8 124.2h.01M141.3 102.2h.01M153.1 164.2h.01M141.4 174.4h.01M148.3 180.8h.01M138.7 172.6h.01M152.4 177.4h.01M145.4 176.0h.01M142.2 145.0h.01M154.1 184.6h.01M140.0 174.7h.01M144.4 170.1h.01M142.9 167.5h.01M144.5 148.2h.01M152.4 187.9h.01M141.8 93.2h.01M142.1 185.3h.01M148.8 183.6h.01M142.7 154.8h.01M143.8 182.8h.01M142.7 164.5h.01M150.6 165.0h.01M142.3 156.0h.01M152.3 184.8h.01M150.1 175.5h.01M140.7 179.7h.01M139.7 155.6h.01M141.4 123.4h.01M143.7 158.7h.01M150.2 185.0h.01M148.7 182.1h.01M147.3 186.4h.01M141.6 148.8h.01M143.5 174.7h.01M149.9 164.8h.01M143.9 141.3h.01M139.7 187.3h.01M139.4 177.6h.01M153.7 174.7h.01M145.4 168.7h.01M153.2 47.2h.01M142.6 47.2h.01M148.3 183.3h.01M142.8 170.0h.01M153.1 171.3h.01M142.3 181.7h.01M147.5 184.8h.01M154.4 182.8h.01M150.6 172.5h.01M147.7 186.0h.01M144.6 180.3h.01M138.7 136.3h.01M140.8 175.9h.01M143.2 111.3h.01M139.4 173.4h.01M142.5 161.0h.01M145.5 171.7h.01M152.7 178.9h.01M153.7 170.8h.01M139.0 182.7h.01M146.1 183.3h.01M149.8 188.0h.01M150.9 175.8h.01M141.2 177.9h.01M138.7 183.8h.01M142.7 177.7h.01M143.8 161.2h.01M141.7 135.2h.01M142.2 161.0h.01M149.5 171.2h.01M142.2 183.6h.01M141.7 185.6h.01M143.0 145.9h.01M146.1 185.2h.01M141.9 185.7h.01M154.0 94.1h.01M152.1 111.4h.01M150.9 177.4h.01M154.0 173.9h.01M153.7 178.6h.01M147.7 171.2h.01M149.9 134.6h.01M144.4 184.0h.01M147.4 180.7h.01M153.7 139.5h.01M145.5 163.8h.01M149.4 183.2h.01M146.2 187.7h.01M140.2 125.6h.01M144.8 155.2h.01M140.8 155.4h.01M153.6 183.0h.01M150.7 174.9h.01M145.8 167.7h.01M139.8 169.8h.01M140.5 186.9h.01M142.9 83.3h.01M140.4 187.5h.01M144.6 174.4h.01M141.6 185.2h.01M140.3 164.4h.01M140.6 118.6h.01M140.6 169.2h.01M152.2 159.9h.01M141.6 160.1h.01M140.4 167.2h.01M152.2 174.8h.01M154.3 139.2h.01M150.6 160.7h.01M139.8 161.1h.01M140.8 114.7h.01M141.0 184.4h.01M140.2 127.8h.01M139.5 140.0h.01M151.6 176.9h.01M145.3 167.2h.01M141.8 183.6h.01M140.1 182.8h.01M147.9 157.8h.01M151.4 174.6h.01M148.2 176.3h.01M142.5 101.5h.01M151.8 163.4h.01M153.5 161.3h.01M149.7 166.0h.01M140.5 180.3h.01M150.0 167.4h.01M143.4 155.9h.01M151.5 186.0h.01M147.8 164.9h.01M140.9 170.3h.01M139.1 184.5h.01M154.6 177.4h.01M139.1 170.8h.01M139.5 167.2h.01M146.1 180.5h.01M154.0 180.5h.01M154.9 175.8h.01M150.3 185.7h.01M152.0 182.7h.01M152.0 180.9h.01M154.1 187.2h.01M154.5 176.0h.01M144.0 184.6h.01M150.2 161.2h.01M154.6 154.8h.01M148.3 187.5h.01M145.2 143.8h.01M139.2 163.7h.01M150.5 171.8h.01M138.8 100.3h.01M149.2 179.1h.01M143.0 155.3h.01M149.7 165.3h.01M154.9 101.9h.01M144.3 145.5h.01M147.7 156.8h.01M141.3 171.9h.01M150.7 148.5h.01M150.1 142.3h.01M151.2 107.7h.01M142.2 187.7h.01M139.7 163.8h.01M145.1 186.8h.01M140.5 128.1h.01M143.1 116.0h.01M138.9 108.4h.01M145.2 185.2h.01M144.5 142.3h.01M144.0 127.2h.01M144.9 134.6h.01M139.3 186.0h.01M149.3 163.7h.01M143.9 158.2h.01M147.9 154.3h.01M151.7 115.1h.01M153.8 144.8h.01M151.2 185.2h.01M147.7 183.6h.01M140.0 180.0h.01M139.2 100.9h.01M154.3 87.5h.01M139.4 175.4h.01M142.0 174.1h.01M141.6 92.2h.01M152.7 166.7h.01M153.5 175.2h.01M150.5 66.2h.01M152.6 157.7h.01M142.9 158.0h.01M153.3 174.7h.01M140.3 163.8h.01M143.7 143.6h.01M152.7 157.9h.01M149.9 150.9h.01M153.9 138.9h.01M152.5 144.5h.01M142.1 169.9h.01M145.5 157.6h.01M154.8 171.1h.01M150.1 144.1h.01M151.6 179.9h.01M140.0 174.0h.01M154.2 175.3h.01M141.1 47.2h.01M148.0 150.5h.01M153.6 153.3h.01M154.9 176.8h.01M153.8 185.3h.01M154.4 124.2h.01M151.2 185.8h.01M142.8 154.7h.01M140.2 119.4h.01M139.1 153.5h.01M151.0 161.6h.01M140.8 149.7h.01M141.9 130.8h.01M154.6 170.7h.01M151.8 159.1h.01M143.9 170.4h.01M154.0 150.8h.01M142.8 112.6h.01M144.3 179.4h.01M143.1 153.1h.01M150.0 154.7h.01M144.7 156.8h.01M148.1 186.0h.01M148.8 143.8h.01M144.4 186.2h.01M142.4 131.1h.01M140.2 178.3h.01M150.1 176.5h.01M138.9 171.2h.01M150.6 122.7h.01M151.0 97.3h.01M151.8 182.3h.01M149.1 183.1h.01M154.2 176.8h.01M144.9 181.2h.01M146.1 106.2h.01M143.3 182.1h.01M138.8 188.1h.01M146.2 185.3h.01M139.2 170.8h.01M141.2 158.7h.01M143.1 156.5h.01M145.3 150.7h.01M142.0 127.6h.01M144.6 168.1h.01M143.3 154.4h.01M140.4 186.0h.01M153.0 178.4h.01M148.6 184.8h.01M154.7 183.6h.01M148.7 182.4h.01M144.6 153.8h.01M151.8 104.0h.01M152.1 165.3h.01M150.7 108.7h.01M149.5 183.6h.01M145.1 166.8h.01M140.1 179.2h.01M142.4 134.0h.01M142.1 153.7h.01M142.9 153.7h.01M143.9 182.2h.01M147.6 177.4h.01M140.1 183.7h.01M145.3 177.1h.01M149.8 186.7h.01M152.3 173.3h.01M154.2 91.2h.01M150.7 157.8h.01M151.5 170.2h.01M140.8 172.1h.01M139.2 119.1h.01M149.6 181.8h.01M143.9 167.4h.01M153.0 176.9h.01M140.8 179.2h.01M139.8 155.6h.01M145.1 134.3h.01M141.2 171.0h.01M147.6 158.6h.01M145.7 169.9h.01M139.0 87.1h.01M142.6 185.3h.01M141.1 181.0h.01M141.5 125.4h.01M154.8 152.1h.01M148.1 156.8h.01M151.4 186.9h.01M144.9 124.3h.01M141.6 186.9h.01M144.1 183.6h.01M150.0 183.3h.01M145.4 130.2h.01M138.8 173.3h.01M147.7 158.5h.01M149.8 170.8h.01M139.1 187.3h.01M153.2 111.2h.01M144.5 157.5h.01M143.3 175.7h.01M152.5 47.2h.01M143.0 103.8h.01M143.5 185.7h.01M153.2 172.5h.01M139.4 180.2h.01M140.6 89.1h.01M151.0 176.6h.01M143.9 133.5h.01M143.6 168.4h.01M143.4 164.8h.01M154.5 181.1h.01M153.3 170.8h.01M151.6 168.7h.01M151.5 167.9h.01M151.3 179.6h.01M143.6 147.2h.01M152.1 161.6h.01M141.5 95.6h.01M142.8 187.6h.01M154.8 186.7h.01M148.8 177.6h.01M139.5 137.3h.01M139.7 184.6h.01M143.6 126.6h.01M153.8 108.5h.01M139.5 178.6h.01M150.5 85.6h.01M148.8 178.7h.01M142.6 177.0h.01M153.6 47.2h.01M144.9 159.2h.01M152.3 127.8h.01M143.1 154.9h.01M147.9 163.7h.01M151.3 132.7h.01M152.8 142.2h.01M144.5 180.1h.01M142.1 177.3h.01M149.3 184.1h.01M149.1 141.1h.01M139.4 137.7h.01M148.5 113.9h.01M154.0 109.8h.01M142.7 135.7h.01M148.9 170.3h.01M153.6 182.7h.01M144.9 187.9h.01M152.0 150.0h.01M153.3 143.4h.01M139.4 85.4h.01M143.4 128.5h.01M142.6 187.8h.01M153.5 187.4h.01M148.4 181.8h.01M140.6 127.8h.01M144.9 167.1h.01M143.1 163.9h.01M154.9 168.4h.01M153.0 142.2h.01M152.5 180.9h.01M140.4 162.6h.01M144.9 167.8h.01M145.8 178.5h.01M143.9 178.0h.01M153.1 164.4h.01M146.1 112.3h.01M151.1 171.8h.01M148.1 187.2h.01M145.2 175.5h.01M140.1 174.2h.01M152.6 132.6h.01M139.8 166.0h.01M139.4 104.6h.01M143.8 169.1h.01M153.3 175.2h.01M144.2 165.5h.01M144.1 174.4h.01M143.6 141.5h.01M144.9 160.6h.01M152.6 170.8h.01M152.3 179.8h.01M145.2 122.9h.01M144.4 184.6h.01M141.5 106.4h.01M139.7 169.4h.01M148.0 162.7h.01M144.4 171.0h.01M141.0 181.1h.01M147.2 185.3h.01M150.4 151.5h.01M148.9 145.8h.01M138.9 165.9h.01M144.7 186.8h.01M149.6 136.0h.01M145.1 169.9h.01M145.8 167.7h.01M151.5 180.5h.01M141.1 60.8h.01M141.4 139.3h.01M151.2 181.5h.01M153.7 182.2h.01M141.3 158.0h.01M139.6 183.9h.01M152.0 148.5h.01M147.9 161.3h.01M142.6 181.0h.01M139.4 114.6h.01M147.6 179.3h.01M141.1 163.8h.01M153.4 136.1h.01M153.4 173.3h.01M150.7 166.0h.01M154.7 165.9h.01M143.6 170.7h.01M140.6 186.6h.01M149.1 153.2h.01M142.6 176.5h.01M150.0 174.8h.01M139.8 157.9h.01M144.2 186.2h.01M149.4 154.6h.01M154.0 174.3h.01M140.0 151.9h.01M154.1 161.8h.01M139.5 145.9h.01M150.9 134.7h.01M152.6 137.0h.01M145.2 133.5h.01M143.6 184.0h.01M139.0 162.2h.01M154.7 176.5h.01M153.6 185.2h.01M138.6 176.2h.01M139.1 141.6h.01M139.6 86.4h.01M152.7 65.8h.01M144.6 177.7h.01M143.1 47.2h.01M150.8 111.6h.01M144.1 182.1h.01M144.9 165.3h.01M150.0 136.0h.01M153.2 146.6h.01M141.5 142.0h.01M141.9 183.2h.01M141.9 164.8h.01M154.1 163.4h.01M147.8 179.3h.01M152.0 175.4h.01M141.7 123.5h.01M152.8 124.3h.01M143.5 180.3h.01M148.8 172.4h.01M142.2 126.4h.01M150.9 137.5h.01M141.5 169.4h.01M154.4 88.0h.01M152.5 176.4h.01M150.1 170.0h.01M151.0 144.5h.01M143.3 171.7h.01M140.1 175.6h.01M143.9 182.2h.01M140.8 158.2h.01M144.1 114.3h.01M151.2 47.2h.01M141.4 154.1h.01M139.8 185.6h.01M151.8 160.5h.01M153.9 184.8h.01M145.3 158.2h.01M142.1 158.5h.01M153.1 176.4h.01M139.5 143.5h.01M144.3 182.6h.01M151.8 158.9h.01M150.6 148.2h.01M151.1 153.5h.01M150.1 184.5h.01M143.6 137.8h.01M152.8 171.4h.01M151.5 183.6h.01M154.0 174.1h.01M151.1 173.1h.01M150.5 185.6h.01M141.7 143.9h.01M147.9 187.6h.01M139.9 149.0h.01M153.6 179.2h.01M151.7 174.7h.01M152.2 173.5h.01M152.8 152.3h.01M144.5 114.3h.01M149.6 180.7h.01M140.8 184.3h.01M139.4 130.5h.01M151.3 181.1h.01M142.2 102.3h.01M145.2 179.7h.01M154.1 109.6h.01M151.4 161.4h.01M151.9 176.9h.01M142.7 165.6h.01M140.0 186.2h.01M142.8 183.0h.01M148.4 166.9h.01M144.1 180.6h.01M154.8 153.5h.01M147.7 171.9h.01M147.9 152.5h.01M150.8 158.6h.01M141.5 140.1h.01M141.9 152.5h.01M146.0 169.3h.01M142.8 176.2h.01M142.0 148.8h.01M144.6 138.8h.01M151.7 175.9h.01M152.8 179.9h.01M142.9 183.3h.01M141.9 176.2h.01M139.2 152.0h.01M138.8 179.2h.01M144.6 138.1h.01M141.8 168.0h.01M140.8 135.4h.01M148.9 186.7h.01M153.6 145.6h.01M151.9 169.3h.01M140.6 185.5h.01M147.6 186.6h.01M144.6 131.1h.01M139.3 133.6h.01M154.6 145.7h.01M141.0 164.1h.01M138.7 186.5h.01M141.9 169.8h.01M145.6 168.7h.01M142.9 184.7h.01M150.0 179.2h.01M143.0 180.7h.01M152.7 176.2h.01M140.7 181.4h.01M141.2 147.9h.01M154.5 153.0h.01M139.8 168.3h.01M151.0 120.4h.01M140.0 173.6h.01M141.2 137.8h.01M148.8 180.4h.01M152.1 176.0h.01M148.7 116.0h.01M154.9 137.7h.01M154.8 178.9h.01M141.1 167.2h.01M141.7 95.5h.01M149.4 161.1h.01M152.9 160.3h.01M150.7 168.4h.01M151.5 177.1h.01M142.9 148.7h.01M147.9 175.8h.01M141.5 143.2h.01M151.1 162.8h.01M153.8 180.3h.01M150.7 186.3h.01M153.2 175.7h.01M140.1 187.2h.01M151.0 119.2h.01M153.3 183.9h.01M142.0 153.3h.01M143.4 185.8h.01M148.4 167.2h.01M148.0 171.3h.01M145.0 143.2h.01M143.7 152.7h.01M149.3 127.5h.01M154.0 177.7h.01M154.8 170.7h.01M144.9 182.6h.01M139.3 183.5h.01M149.0 180.5h.01M154.2 138.8h.01M154.2 173.2h.01M149.9 188.0h.01M144.7 118.0h.01M140.0 167.0h.01M146.2 185.3h.01M149.3 153.4h.01M150.4 185.2h.01M149.4 185.3h.01M151.5 173.1h.01M140.5 117.8h.01M146.0 177.2h.01M148.5 177.9h.01M140.4 174.8h.01M138.8 178.6h.01M148.2 181.6h.01M145.6 185.9h.01M145.2 187.8h.01M151.9 185.3h.01M151.9 177.5h.01M141.1 181.3h.01M148.8 152.1h.01M139.5 145.4h.01M140.1 171.1h.01M151.9 86.2h.01M150.3 149.7h.01M141.2 168.0h.01M153.2 62.5h.01M148.5 126.7h.01M149.7 143.0h.01M153.0 179.2h.01M142.8 151.4h.01M142.3 155.2h.01M140.3 185.7h.01M145.9 159.9h.01M144.0 171.6h.01M141.5 170.6h.01M143.6 178.4h.01M151.8 91.2h.01M148.3 157.6h.01M154.2 170.9h.01M153.0 177.9h.01M149.2 167.3h.01M138.7 137.1h.01M149.2 173.2h.01M143.6 140.0h.01M142.7 129.2h.01M148.5 146.6h.01M141.5 177.9h.01M150.7 176.9h.01M151.3 140.4h.01M140.9 157.6h.01M141.1 96.8h.01M153.8 141.5h.01M139.1 181.3h.01M151.7 167.4h.01M150.8 106.6h.01M150.1 47.2h.01M139.2 181.9h.01M154.0 159.4h.01M142.0 140.5h.01M152.9 77.9h.01M143.9 50.6h.01M141.5 137.5h.01M138.8 179.2h.01M142.5 121.9h.01M140.5 133.0h.01M138.7 181.8h.01M149.5 104.9h.01M154.6 158.8h.01M152.0 187.4h.01M154.5 187.3h.01M139.9 150.0h.01M145.6 138.1h.01M145.5 187.6h.01M142.7 187.8h.01M150.4 150.2h.01M141.4 76.6h.01M154.1 178.1h.01M140.6 182.5h.01M139.4 173.5h.01M151.0 142.2h.01M145.6 147.2h.01M149.3 174.4h.01M139.1 119.0h.01M139.9 47.2h.01M143.3 183.5h.01M144.0 184.4h.01M143.8 165.9h.01M142.4 162.2h.01M154.2 170.8h.01M140.8 176.4h.01M142.3 135.0h.01M151.9 146.4h.01M148.7 130.9h.01M148.8 131.0h.01M154.9 168.3h.01M145.6 168.1h.01M149.4 167.5h.01M140.1 162.5h.01M151.0 163.0h.01M150.5 62.4h.01M149.5 143.4h.01M140.4 184.1h.01M139.1 147.5h.01M140.1 184.6h.01M149.6 164.4h.01M142.2 167.5h.01M139.4 142.2h.01M150.0 122.1h.01M143.2 157.3h.01M141.7 168.0h.01M142.4 117.3h.01M139.0 144.0h.01M139.3 175.3h.01M142.1 184.7h.01M145.6 167.7h.01M153.6 152.4h.01M151.8 164.6h.01M152.1 158.1h.01M153.8 168.2h.01M149.5 103.5h.01M139.8 172.3h.01M150.4 150.4h.01M140.4 47.2h.01M143.6 182.9h.01M143.2 179.6h.01M154.0 127.8h.01M152.8 183.1h.01M142.8 155.8h.01M144.7 184.8h.01M139.4 171.1h.01M138.9 143.3h.01M147.9 182.5h.01M148.9 148.1h.01M153.0 134.1h.01M140.9 176.9h.01M153.3 150.9h.01M142.0 172.0h.01M153.7 167.0h.01M141.2 146.5h.01M145.2 181.3h.01M150.7 183.5h.01M141.9 172.2h.01M140.5 179.0h.01M143.0 47.2h.01M144.1 171.5h.01M153.1 166.7h.01M142.7 169.9h.01M149.8 180.0h.01M152.3 160.4h.01M138.8 175.1h.01M143.1 188.1h.01M153.4 167.5h.01M148.1 151.8h.01M141.4 47.2h.01M145.2 176.3h.01M152.3 157.7h.01M151.6 181.3h.01M143.9 149.0h.01M154.7 47.2h.01M139.4 180.9h.01M153.5 177.3h.01M140.2 128.1h.01M147.7 185.1h.01M145.5 185.7h.01M152.1 145.5h.01M143.2 181.2h.01M150.3 102.8h.01M144.9 167.3h.01M145.6 152.5h.01M152.0 138.0h.01M144.4 158.3h.01M151.9 172.1h.01M152.1 180.4h.01M149.8 157.7h.01M150.2 126.9h.01M140.2 127.1h.01M148.4 187.5h.01M140.9 134.1h.01M153.2 183.2h.01M149.7 144.5h.01M140.3 150.7h.01M140.6 172.7h.01M140.3 178.1h.01M141.0 98.5h.01M148.3 161.0h.01M140.2 119.4h.01M145.3 176.9h.01M143.3 181.7h.01M149.3 103.1h.01M150.3 181.8h.01M149.1 174.3h.01M148.4 139.8h.01M151.2 47.2h.01M142.1 47.2h.01M140.4 163.9h.01M148.4 147.4h.01M151.8 99.7h.01M150.4 170.4h.01M150.2 47.2h.01M151.3 176.4h.01M139.9 187.7h.01M152.5 185.4h.01M139.1 186.2h.01M147.8 185.6h.01M145.4 177.0h.01M140.8 181.1h.01M140.5 186.8h.01M139.4 159.1h.01M150.3 141.8h.01M153.2 173.9h.01M145.8 182.5h.01M151.8 184.1h.01M154.2 182.1h.01M150.6 115.1h.01M145.5 178.8h.01M154.1 178.6h.01M142.7 166.7h.01M142.5 145.1h.01M149.6 169.7h.01M152.1 163.0h.01M142.9 186.1h.01M143.8 180.6h.01M139.1 175.1h.01M140.2 183.5h.01M144.0 186.0h.01M140.2 56.9h.01M139.0 105.1h.01M151.2 170.0h.01M153.1 121.8h.01M140.9 185.3h.01M144.2 105.2h.01M138.9 185.1h.01M145.5 153.6h.01M140.6 173.5h.01M147.9 165.4h.01M149.7 145.6h.01M150.3 134.0h.01M140.3 155.7h.01M151.7 176.2h.01M152.3 185.1h.01M143.1 130.7h.01M154.6 162.4h.01M144.1 180.2h.01M142.8 98.4h.01M141.2 183.9h.01M154.4 183.6h.01M154.7 161.3h.01M151.4 155.6h.01M143.5 181.1h.01M141.7 138.2h.01M152.0 184.6h.01M152.0 174.5h.01M149.9 146.1h.01M138.8 163.0h.01M140.1 127.1h.01M148.0 183.5h.01M139.3 161.1h.01M152.0 79.1h.01M154.6 153.7h.01M154.6 147.9h.01M152.2 155.5h.01M139.2 179.9h.01M140.5 157.1h.01M154.6 136.5h.01M140.5 180.4h.01M138.7 170.5h.01M140.5 165.8h.01M153.0 165.4h.01M143.5 186.4h.01M150.8 146.9h.01M154.0 146.8h.01M144.4 146.2h.01M153.9 184.6h.01M153.1 164.9h.01M140.6 138.5h.01M140.7 184.0h.01M153.4 174.7h.01M152.3 172.3h.01M152.1 185.5h.01M149.5 176.8h.01M154.3 147.9h.01M145.5 170.8h.01M152.0 168.4h.01M151.3 148.5h.01M143.4 157.2h.01M140.5 165.2h.01M154.2 174.1h.01M152.0 145.8h.01M150.8 183.3h.01M142.7 132.7h.01M152.0 161.5h.01M141.8 177.9h.01M149.0 179.0h.01M141.3 79.4h.01M146.0 173.2h.01M148.6 167.9h.01M150.4 186.6h.01M153.6 145.2h.01M154.3 177.1h.01M151.1 172.8h.01M139.4 166.9h.01M145.0 182.2h.01M150.5 154.3h.01M152.8 165.7h.01M139.0 166.7h.01M145.2 142.3h.01M153.9 152.1h.01M153.8 158.1h.01M153.1 183.9h.01M141.1 174.2h.01M143.9 47.2h.01M153.8 173.4h.01M153.7 184.4h.01M154.4 177.9h.01M150.1 163.9h.01M150.2 172.4h.01M142.7 153.4h.01M150.2 163.9h.01M142.9 185.7h.01M152.4 166.8h.01M148.5 179.4h.01M143.3 126.8h.01M141.0 161.7h.01M140.7 179.7h.01M141.1 184.1h.01M153.6 178.6h.01M144.7 138.1h.01M147.9 183.6h.01M141.0 148.2h.01M153.3 155.5h.01M154.9 163.6h.01M154.2 156.4h.01M154.5 173.8h.01M149.7 180.3h.01M141.0 186.4h.01M149.4 144.3h.01M141.6 173.2h.01M153.3 183.9h.01M153.2 179.5h.01M141.6 157.6h.01M144.4 171.4h.01M149.8 170.0h.01M142.5 179.2h.01M152.4 153.2h.01M149.2 175.6h.01M146.1 110.4h.01M151.8 125.6h.01M151.6 80.3h.01M151.8 101.3h.01M144.6 153.2h.01M144.5 136.2h.01M142.6 178.6h.01M153.3 105.5h.01M140.5 185.9h.01M144.4 162.6h.01M139.2 152.4h.01M149.4 159.7h.01M154.3 184.3h.01M139.2 139.5h.01M144.4 158.5h.01M149.4 159.0h.01M141.3 166.0h.01M144.1 149.5h.01M139.4 175.2h.01M151.4 151.4h.01M143.4 84.9h.01M141.6 157.5h.01M149.4 113.5h.01M145.8 154.6h.01M143.9 136.9h.01M140.3 183.6h.01M154.8 138.9h.01M148.3 184.1h.01M148.2 128.1h.01M151.5 156.7h.01M152.8 184.7h.01M143.6 148.2h.01M153.8 136.4h.01M143.4 178.5h.01M149.0 173.0h.01M154.1 95.0h.01M150.0 128.5h.01M139.5 138.9h.01M148.8 184.4h.01M152.6 139.6h.01M139.5 187.6h.01M141.9 180.5h.01M145.3 185.3h.01M145.0 184.6h.01M154.7 140.8h.01M140.0 186.2h.01M141.5 120.0h.01M149.0 180.1h.01M140.5 168.9h.01M148.7 164.3h.01M148.9 145.0h.01M147.7 183.1h.01M145.5 170.2h.01M144.7 176.6h.01M145.0 91.5h.01M144.3 185.3h.01M143.6 185.9h.01M141.4 149.1h.01M148.5 177.9h.01M151.9 129.0h.01M153.6 173.8h.01M139.6 164.7h.01M145.3 151.4h.01M140.2 172.1h.01M144.1 174.7h.01M145.5 180.1h.01M139.3 130.9h.01M145.7 148.0h.01M140.3 168.5h.01M145.3 156.5h.01M141.9 156.0h.01M140.3 159.7h.01M139.7 172.2h.01M138.7 61.6h.01M145.1 177.3h.01M139.6 170.0h.01M149.9 127.3h.01M149.2 184.5h.01M141.1 115.6h.01M144.6 138.4h.01M150.5 132.9h.01M140.7 153.5h.01M151.9 135.0h.01M149.4 150.3h.01M154.0 146.1h.01M148.5 183.0h.01M139.3 181.1h.01M145.3 172.7h.01M149.9 180.4h.01M144.7 170.6h.01M142.7 178.4h.01M149.9 114.9h.01M141.2 163.6h.01M151.1 181.9h.01M143.2 114.1h.01M148.1 180.6h.01M153.7 159.2h.01M148.3 168.7h.01M152.8 164.5h.01M140.1 106.9h.01M141.3 122.9h.01M150.0 111.2h.01M149.4 172.4h.01M146.1 175.2h.01M151.6 178.0h.01M138.7 107.9h.01M153.8 121.8h.01M140.1 187.2h.01M151.2 162.7h.01M141.2 162.9h.01M138.8 184.3h.01M148.4 166.5h.01M147.6 179.8h.01M150.8 186.5h.01M152.7 176.6h.01M148.2 140.9h.01M144.1 141.1h.01M151.7 126.4h.01M151.1 153.0h.01M141.2 186.6h.01M149.9 135.5h.01M142.1 174.2h.01M143.3 102.7h.01M148.0 169.6h.01M148.1 163.6h.01M142.5 172.0h.01M151.0 47.2h.01M140.4 157.9h.01M138.7 187.9h.01M142.0 174.6h.01M152.5 168.1h.01M144.2 155.0h.01M140.0 105.4h.01M154.8 177.0h.01M149.8 182.9h.01M143.2 115.8h.01M142.3 115.2h.01M141.1 187.3h.01M140.4 187.2h.01M150.4 124.1h.01M140.5 125.8h.01M149.7 89.2h.01M145.2 162.2h.01M148.9 107.2h.01M144.6 124.4h.01M140.5 125.5h.01M138.6 177.5h.01M152.3 175.5h.01M152.1 177.5h.01M140.7 145.1h.01M143.1 107.7h.01M146.1 176.2h.01M154.0 167.0h.01M144.6 180.9h.01M147.8 167.8h.01M138.7 110.2h.01M139.6 115.8h.01M150.7 186.1h.01M139.7 151.0h.01M150.4 155.1h.01M141.9 121.5h.01M153.4 182.6h.01M154.8 74.2h.01M154.2 183.8h.01M141.6 184.4h.01M148.3 183.7h.01M153.0 146.4h.01M148.9 172.3h.01M139.7 116.6h.01M142.9 156.5h.01M149.6 166.0h.01M144.8 179.7h.01M141.3 131.0h.01M152.6 186.4h.01M149.8 133.0h.01M142.9 176.8h.01M141.8 182.4h.01M140.4 131.1h.01M143.1 153.1h.01M148.3 171.7h.01M153.5 156.6h.01M143.0 175.7h.01M150.8 151.2h.01M154.2 179.0h.01M144.6 179.4h.01M151.3 183.8h.01M154.9 174.4h.01M142.6 156.8h.01M152.9 148.0h.01M140.9 166.6h.01M139.9 170.1h.01M149.1 147.0h.01M148.3 144.5h.01M153.5 150.4h.01M149.4 118.6h.01M153.5 171.3h.01M147.2 186.2h.01M148.9 183.4h.01M152.5 47.2h.01M144.0 47.2h.01M150.1 47.2h.01M143.9 47.2h.01M139.3 47.2h.01M140.9 47.2h.01M138.5 47.2h.01M144.8 47.2h.01M141.5 47.2h.01M151.8 47.2h.01M138.9 47.2h.01M150.6 47.2h.01M149.8 47.2h.01M146.7 47.2h.01M146.3 47.2h.01M141.2 47.2h.01M143.8 47.2h.01M151.7 47.2h.01" stroke="#c6c6c6" stroke-width="1.7" stroke-linecap="round" fill="none" opacity="1"/>
<path d="M130.9 182.1h.01M128.6 185.3h.01M134.6 187.5h.01M129.7 183.9h.01M138.3 184.5h.01M134.1 184.1h.01M137.9 187.9h.01M132.7 186.2h.01M120.2 186.7h.01M137.8 184.3h.01M135.5 183.7h.01M137.7 186.8h.01M133.2 181.4h.01M128.3 187.1h.01M133.8 183.4h.01M124.5 183.1h.01M127.9 186.5h.01M124.5 176.5h.01M136.6 187.0h.01M122.3 173.1h.01M134.2 187.0h.01M127.2 184.6h.01M124.2 186.6h.01M123.7 181.9h.01M135.6 179.0h.01M134.7 186.1h.01M111.8 185.3h.01M128.5 184.7h.01M138.3 183.6h.01M138.0 184.5h.01M116.4 181.1h.01M119.3 177.6h.01M132.4 186.1h.01M134.9 187.7h.01M125.3 181.9h.01M136.3 187.7h.01M136.2 181.9h.01M121.8 187.2h.01M133.3 185.9h.01M132.4 187.3h.01M125.9 183.4h.01M137.1 172.1h.01M101.3 180.5h.01M129.9 187.2h.01M106.7 187.0h.01M135.9 186.0h.01M127.7 184.2h.01M131.5 186.4h.01M134.9 185.8h.01M132.0 186.0h.01M122.2 185.9h.01M118.8 186.3h.01M127.9 187.0h.01M130.3 184.0h.01M133.7 187.3h.01M134.5 183.8h.01M115.5 179.2h.01M137.1 185.8h.01M133.8 187.7h.01M131.6 179.8h.01M128.8 187.6h.01M124.7 184.9h.01M138.3 186.7h.01M122.3 186.8h.01M137.2 187.3h.01M114.0 184.4h.01M98.5 176.7h.01M136.3 184.2h.01M136.6 188.0h.01M136.3 179.3h.01M136.1 187.7h.01M118.5 183.9h.01M124.5 186.8h.01M115.9 182.7h.01M136.5 186.6h.01M127.4 181.5h.01M136.8 187.9h.01M137.0 187.6h.01M118.4 185.7h.01M134.9 185.2h.01M135.9 181.2h.01M129.3 186.4h.01M134.1 185.6h.01M131.1 182.1h.01M126.7 182.8h.01M123.7 186.8h.01M125.2 183.6h.01M134.4 181.9h.01M135.8 184.1h.01M136.8 186.9h.01M120.2 187.1h.01M117.5 185.5h.01M129.1 187.6h.01M137.7 153.6h.01M136.4 187.9h.01M137.3 187.1h.01M136.7 186.8h.01M135.1 186.2h.01M135.9 187.2h.01M136.9 187.0h.01M133.0 186.7h.01M138.3 180.1h.01M137.4 186.4h.01M126.9 185.7h.01M131.2 186.7h.01M137.5 178.9h.01M133.5 184.4h.01M123.9 185.6h.01M109.1 186.9h.01M126.0 187.1h.01M131.9 181.0h.01M133.7 179.2h.01M132.7 184.3h.01M88.7 187.2h.01M137.4 186.7h.01M134.9 184.9h.01M127.2 185.7h.01M137.4 185.6h.01M132.2 181.1h.01M121.4 185.0h.01M110.7 185.8h.01M136.6 187.8h.01M135.7 186.6h.01M132.7 188.1h.01M133.0 187.8h.01M133.8 177.5h.01M130.9 185.3h.01M127.1 186.3h.01M133.5 185.8h.01M137.3 187.8h.01M133.3 186.0h.01M116.6 186.1h.01M131.3 178.2h.01M137.9 179.3h.01M136.9 184.0h.01M134.1 184.2h.01M132.3 177.4h.01M130.5 185.2h.01M131.5 181.6h.01M131.0 186.2h.01M134.8 186.6h.01M124.1 185.9h.01M130.3 183.7h.01M138.2 180.0h.01M124.0 185.8h.01M137.9 186.3h.01M127.5 187.5h.01M124.9 187.4h.01M136.4 186.6h.01M129.3 185.6h.01M131.7 187.8h.01M125.0 179.5h.01M137.8 183.6h.01M136.3 182.5h.01M138.2 186.4h.01M138.2 186.7h.01M132.3 181.5h.01M137.7 187.7h.01M128.0 181.9h.01M138.0 185.5h.01M115.9 187.9h.01M129.4 181.3h.01M126.5 178.5h.01M135.9 186.4h.01M124.0 187.9h.01M133.0 183.7h.01M125.0 183.2h.01M133.7 186.0h.01M135.9 175.3h.01M121.9 187.4h.01M131.6 186.9h.01M116.6 182.0h.01M123.4 181.6h.01M137.0 177.8h.01M131.5 185.6h.01M134.9 187.0h.01M133.3 188.0h.01M131.2 185.5h.01M138.0 185.7h.01M133.7 174.9h.01M135.0 183.4h.01M138.2 187.2h.01M132.0 184.7h.01M133.7 182.6h.01M130.1 185.4h.01M132.2 187.7h.01M132.0 182.8h.01M134.6 176.0h.01M137.2 183.3h.01M124.4 187.5h.01M135.9 187.7h.01M134.9 187.1h.01M137.8 187.0h.01M137.3 185.3h.01M135.9 187.9h.01M134.8 186.8h.01M130.0 187.3h.01M130.5 183.7h.01M138.0 177.7h.01M136.3 187.4h.01M128.8 182.5h.01M125.5 184.2h.01M129.4 183.7h.01M117.6 187.4h.01M134.9 183.9h.01M131.8 183.5h.01M133.7 183.2h.01M132.2 177.0h.01M126.1 185.8h.01M105.0 186.6h.01M129.1 181.4h.01M131.2 183.3h.01M137.7 183.0h.01M126.1 174.2h.01M117.0 182.9h.01M137.6 185.7h.01M133.5 187.8h.01M136.7 179.9h.01M136.6 187.1h.01M137.4 184.7h.01M136.3 181.5h.01M127.9 186.1h.01M125.4 181.7h.01M132.6 186.8h.01M124.6 184.4h.01M122.7 188.0h.01M129.4 183.0h.01M137.3 186.5h.01M128.4 187.4h.01M131.1 184.2h.01M138.0 170.2h.01M121.5 155.7h.01M132.4 101.4h.01M112.8 183.8h.01M135.2 187.4h.01M130.5 84.1h.01M128.0 156.8h.01M130.1 102.5h.01M108.1 113.5h.01M124.6 82.8h.01M137.7 53.2h.01M129.9 172.0h.01M124.2 146.7h.01M134.4 136.2h.01M134.5 91.7h.01M129.1 66.3h.01M99.1 170.5h.01M137.5 136.5h.01M126.7 59.0h.01M137.1 182.6h.01M127.4 113.5h.01M134.5 124.7h.01M135.0 115.5h.01M107.6 95.7h.01M121.9 64.6h.01M132.1 174.5h.01M136.1 120.0h.01M129.5 53.3h.01M130.0 88.9h.01M116.2 137.1h.01M121.6 56.4h.01M131.5 186.8h.01M130.6 98.6h.01M129.6 174.6h.01M126.3 187.5h.01M134.5 122.6h.01M130.6 73.6h.01M130.8 181.4h.01M133.0 160.2h.01M129.4 98.7h.01M138.1 146.0h.01M136.1 130.5h.01M125.9 115.2h.01M128.7 151.8h.01M136.5 60.0h.01M121.5 117.6h.01M117.1 154.5h.01M116.5 62.2h.01M117.4 186.4h.01M123.4 90.9h.01M127.9 186.7h.01M129.0 188.1h.01M131.0 177.0h.01M131.5 187.5h.01M132.4 185.5h.01M124.8 175.5h.01M124.8 159.5h.01M136.0 81.8h.01M123.9 74.2h.01M133.3 107.0h.01M138.1 154.8h.01M122.8 129.0h.01M135.2 96.0h.01M132.8 163.9h.01M138.1 98.1h.01M129.4 157.2h.01M134.2 183.4h.01M127.3 143.1h.01M137.7 61.9h.01M133.8 110.2h.01M131.2 118.4h.01M133.3 181.6h.01M103.6 150.8h.01M136.0 173.1h.01M117.5 153.9h.01M132.5 115.4h.01M135.3 186.0h.01M138.3 106.5h.01M130.8 92.4h.01M135.1 139.2h.01M136.5 172.5h.01M137.2 171.3h.01M133.5 95.0h.01M135.4 134.9h.01M136.4 184.3h.01M137.8 86.6h.01M134.7 147.2h.01M132.1 150.8h.01M127.8 67.8h.01M136.0 187.4h.01M121.7 105.6h.01M137.6 181.2h.01M118.7 80.5h.01M137.7 159.6h.01M109.0 158.3h.01M135.2 158.8h.01M134.0 172.1h.01M136.7 117.8h.01M138.0 94.2h.01M126.4 79.0h.01M124.5 123.5h.01M127.2 77.9h.01M137.4 82.1h.01M138.0 109.4h.01M124.8 129.3h.01M134.7 154.0h.01M136.1 163.5h.01M136.4 53.3h.01M137.5 187.0h.01M122.2 85.0h.01M121.4 186.1h.01M126.8 169.7h.01M136.8 183.6h.01M137.7 171.4h.01M130.3 137.9h.01M135.9 173.8h.01M128.4 183.2h.01M128.9 148.8h.01M137.4 131.2h.01M135.9 70.0h.01M132.3 179.6h.01M137.0 113.5h.01M124.4 182.5h.01M136.0 97.3h.01M133.7 186.9h.01M133.6 136.0h.01M131.7 90.7h.01M95.1 169.9h.01M130.5 183.8h.01M135.0 134.2h.01M121.0 186.7h.01M117.8 186.3h.01M113.9 186.2h.01M112.9 186.1h.01M108.7 185.3h.01M106.7 185.3h.01M102.9 184.3h.01M101.4 183.9h.01M98.7 183.3h.01M97.1 183.4h.01M92.8 182.6h.01M89.5 180.4h.01M89.3 181.3h.01M85.3 177.8h.01M83.8 177.9h.01M81.2 177.0h.01M126.8 47.2h.01M123.4 47.2h.01M134.6 47.2h.01M124.0 47.2h.01M134.2 47.2h.01M132.3 47.2h.01M108.1 47.2h.01M136.8 47.2h.01M135.7 47.2h.01M130.8 47.2h.01M114.1 47.2h.01M119.2 47.2h.01M109.1 47.2h.01M117.2 47.2h.01M133.5 47.2h.01M135.0 47.2h.01M115.3 47.2h.01M121.5 47.2h.01M111.6 47.2h.01M113.3 47.2h.01M122.9 47.2h.01M119.9 47.2h.01M115.1 47.2h.01M132.2 47.2h.01M136.3 47.2h.01M137.8 47.2h.01M132.3 47.2h.01M132.0 47.2h.01M132.9 47.2h.01M122.0 47.2h.01M113.9 47.2h.01M122.5 47.2h.01M129.6 47.2h.01M112.6 47.2h.01M129.3 47.2h.01M126.9 47.2h.01M132.6 47.2h.01M130.1 47.2h.01M137.6 47.2h.01M115.8 47.2h.01M137.2 47.2h.01M124.9 47.2h.01M121.0 47.2h.01M126.5 47.2h.01M112.3 47.2h.01M94.9 47.2h.01M90.5 95.6h.01M103.7 66.9h.01M106.3 67.9h.01M109.8 73.0h.01M120.4 113.0h.01M96.6 142.5h.01M115.1 136.4h.01M137.9 163.1h.01M135.2 130.4h.01M136.3 152.4h.01M136.1 178.4h.01M134.8 153.8h.01M133.9 135.8h.01M133.7 176.9h.01M137.9 175.9h.01M134.1 160.8h.01M138.3 152.6h.01M137.3 151.8h.01M136.0 149.9h.01M136.9 136.2h.01M133.0 159.4h.01M135.5 174.8h.01M135.8 173.1h.01M137.7 175.9h.01M138.3 155.4h.01M137.3 140.7h.01M136.2 155.7h.01M136.6 186.2h.01M136.8 186.9h.01M135.4 184.9h.01M132.8 162.6h.01M137.2 153.5h.01M133.6 163.9h.01M136.1 138.4h.01M137.4 139.6h.01M132.3 172.6h.01M135.9 148.9h.01M138.2 166.7h.01M136.7 165.7h.01M136.1 142.7h.01M136.0 185.7h.01M133.2 174.5h.01M137.5 160.4h.01M138.1 137.4h.01M137.7 147.8h.01M136.8 142.0h.01M138.2 135.0h.01M134.9 142.8h.01M134.0 160.1h.01M137.2 173.7h.01M137.2 181.4h.01M135.1 166.6h.01M132.5 172.9h.01M137.3 135.8h.01M136.0 156.9h.01M138.0 132.2h.01M138.2 175.7h.01M137.8 159.6h.01M137.4 139.1h.01M137.7 157.7h.01M131.3 132.2h.01M137.8 177.2h.01M135.4 152.4h.01M134.9 130.6h.01M138.2 182.0h.01M129.2 152.8h.01M131.9 173.3h.01M137.7 129.5h.01M135.4 186.9h.01M137.8 187.8h.01M138.3 153.5h.01M137.9 179.3h.01M136.5 161.0h.01M137.8 133.0h.01M136.3 151.7h.01M137.7 170.3h.01M135.4 170.0h.01M137.2 166.5h.01M137.1 167.2h.01M137.4 144.0h.01M136.6 157.6h.01M135.2 135.8h.01M136.8 174.4h.01M133.1 141.9h.01M133.2 171.9h.01M137.2 157.8h.01M137.5 151.5h.01M136.3 159.2h.01M137.8 157.7h.01M137.1 164.5h.01M134.5 147.1h.01M137.3 160.6h.01M134.6 175.5h.01M135.4 130.2h.01M137.4 137.8h.01M138.3 183.7h.01M137.5 170.5h.01" stroke="#3d85c0" stroke-width="1.7" stroke-linecap="round" fill="none" opacity="1"/>
<path d="M176.6 166.7h.01M174.7 185.3h.01M158.3 180.0h.01M159.9 182.9h.01M158.6 187.5h.01M156.0 187.6h.01M169.5 187.3h.01M157.4 179.5h.01M156.2 187.2h.01M156.0 185.7h.01M169.4 186.7h.01M157.7 182.5h.01M158.2 183.3h.01M160.3 184.6h.01M158.0 187.1h.01M160.6 187.8h.01M178.5 187.5h.01M156.8 181.8h.01M174.8 174.9h.01M156.1 185.6h.01M158.6 185.2h.01M157.3 174.8h.01M156.1 186.4h.01M157.3 184.0h.01M160.4 186.1h.01M179.4 182.3h.01M168.4 185.3h.01M161.9 179.6h.01M158.1 185.3h.01M160.7 183.1h.01M156.2 184.1h.01M165.9 185.8h.01M165.2 187.0h.01M159.6 184.6h.01M164.2 183.7h.01M158.3 185.7h.01M195.7 174.0h.01M160.1 184.3h.01M156.3 178.9h.01M159.3 185.7h.01M167.1 183.6h.01M183.4 186.2h.01M171.0 187.4h.01M157.4 184.7h.01M160.4 187.6h.01M158.7 182.1h.01M155.7 187.2h.01M161.8 182.2h.01M164.8 176.9h.01M164.2 186.0h.01M161.8 180.6h.01M167.1 179.6h.01M173.0 177.1h.01M159.3 178.1h.01M164.5 181.6h.01M161.8 183.3h.01M170.8 185.6h.01M162.7 185.7h.01M157.6 178.6h.01M155.6 182.6h.01M160.3 177.4h.01M158.7 170.2h.01M165.8 177.4h.01M158.0 176.4h.01M166.6 184.1h.01M174.4 179.5h.01M156.5 175.7h.01M161.2 188.1h.01M166.4 187.6h.01M158.2 185.5h.01M156.4 183.3h.01M159.7 184.8h.01M159.2 164.9h.01M157.1 183.9h.01M162.2 184.7h.01M161.8 186.0h.01M155.7 184.3h.01M163.5 155.0h.01M163.6 186.3h.01M179.4 182.9h.01M156.3 174.2h.01M163.4 182.9h.01M157.0 186.8h.01M164.5 177.9h.01M160.0 180.1h.01M166.4 178.6h.01M156.6 187.6h.01M156.5 178.6h.01M164.2 187.7h.01M167.8 188.1h.01M178.1 187.0h.01M166.6 179.2h.01M163.5 178.4h.01M164.3 186.2h.01M165.0 174.5h.01M160.1 174.0h.01M184.3 179.9h.01M174.5 175.8h.01M155.8 185.1h.01M162.9 188.1h.01M178.6 183.0h.01M164.8 184.4h.01M161.8 185.1h.01M155.6 185.6h.01M159.5 166.1h.01M155.5 174.3h.01M155.7 187.0h.01M162.2 187.8h.01M159.8 184.6h.01M165.3 187.0h.01M164.6 180.1h.01M175.8 175.9h.01M160.6 183.1h.01M157.9 184.7h.01M156.9 172.3h.01M156.8 186.8h.01M169.0 186.0h.01M172.4 183.3h.01M156.2 164.0h.01M166.8 186.8h.01M158.5 185.3h.01M155.9 185.8h.01M167.1 187.7h.01M157.9 183.1h.01M158.2 184.4h.01M155.7 181.1h.01M158.6 186.0h.01M155.9 184.9h.01M165.1 181.3h.01M164.3 184.2h.01M158.3 186.6h.01M156.1 183.3h.01M166.4 177.9h.01M162.5 187.5h.01M160.6 181.7h.01M162.2 171.5h.01M161.8 178.2h.01M155.6 181.4h.01M164.9 186.4h.01M155.5 170.2h.01M187.7 181.8h.01M159.7 184.5h.01M159.7 185.1h.01M157.8 188.0h.01M180.2 179.7h.01M182.1 182.5h.01M155.7 187.3h.01M160.9 173.7h.01M171.8 184.3h.01M160.6 186.0h.01M161.8 187.3h.01M155.4 185.5h.01M167.1 185.0h.01M169.1 185.0h.01M155.6 184.8h.01M160.2 182.6h.01M168.9 181.2h.01M160.6 183.1h.01M179.1 184.2h.01M182.1 186.9h.01M160.8 187.9h.01M165.8 184.3h.01M158.1 183.0h.01M161.5 184.1h.01M171.9 186.7h.01M161.1 183.6h.01M168.6 183.5h.01M162.3 185.9h.01M156.1 187.4h.01M180.5 183.5h.01M155.5 175.0h.01M156.0 181.9h.01M161.6 186.6h.01M159.5 172.6h.01M155.8 187.2h.01M156.2 181.6h.01M159.0 187.5h.01M158.8 184.0h.01M159.5 187.7h.01M179.1 168.2h.01M156.5 185.4h.01M156.2 183.4h.01M164.1 183.1h.01M155.5 188.0h.01M178.8 183.5h.01M163.4 180.0h.01M155.6 185.3h.01M158.4 186.4h.01M160.0 183.9h.01M158.0 183.4h.01M156.1 172.2h.01M157.2 188.0h.01M158.6 175.2h.01M158.5 186.4h.01M178.0 187.2h.01M169.1 187.6h.01M161.0 186.7h.01M157.0 187.5h.01M173.8 187.1h.01M156.9 185.7h.01M168.7 186.0h.01M162.8 187.2h.01M176.2 186.2h.01M180.7 183.3h.01M158.0 187.5h.01M164.6 166.4h.01M156.4 186.0h.01M167.2 155.7h.01M179.9 173.8h.01M163.9 177.2h.01M155.7 182.4h.01M157.9 179.4h.01M162.1 183.2h.01M178.4 184.5h.01M159.5 179.4h.01M159.3 184.3h.01M162.3 183.5h.01M169.3 186.7h.01M164.5 187.9h.01M158.9 178.6h.01M183.0 185.0h.01M161.4 174.7h.01M167.9 176.2h.01M159.9 182.7h.01M167.6 183.9h.01M164.0 185.7h.01M161.6 185.7h.01M163.2 185.7h.01M173.6 180.6h.01M156.9 164.9h.01M158.5 186.0h.01M160.5 187.6h.01M157.3 187.1h.01M156.7 177.7h.01M161.1 186.5h.01M155.6 187.9h.01M165.8 177.0h.01M160.7 182.2h.01M162.2 187.3h.01M168.3 186.1h.01M162.8 181.4h.01M164.0 161.9h.01M156.7 183.9h.01M163.1 181.2h.01M156.2 171.9h.01M158.9 187.1h.01M160.7 181.7h.01M156.5 187.7h.01M164.3 182.9h.01M159.0 185.7h.01M156.2 188.0h.01M156.4 185.6h.01M165.9 180.5h.01M164.0 181.2h.01M180.4 182.2h.01M155.6 185.3h.01M166.0 176.8h.01M159.6 173.5h.01M164.9 187.4h.01M156.4 187.0h.01M165.3 188.0h.01M155.9 180.1h.01M156.7 186.0h.01M179.1 181.3h.01M161.9 181.7h.01M157.7 177.9h.01M158.9 186.9h.01M158.7 183.2h.01M186.3 186.2h.01M156.7 179.1h.01M157.4 186.4h.01M164.2 175.1h.01M159.3 184.3h.01M158.1 184.1h.01M165.2 183.2h.01M158.0 175.0h.01M163.2 187.2h.01M161.1 183.3h.01M171.2 173.2h.01M163.3 175.3h.01M166.8 178.8h.01M159.5 182.5h.01M155.7 184.8h.01M162.1 185.6h.01M161.9 186.4h.01M170.5 184.7h.01M185.9 185.5h.01M157.0 179.8h.01M165.3 185.8h.01M196.3 186.1h.01M155.7 176.1h.01M162.2 179.8h.01M165.6 187.4h.01M155.7 170.1h.01M163.7 181.4h.01M156.0 175.8h.01M161.4 179.2h.01M158.3 155.1h.01M170.3 181.6h.01M156.8 187.0h.01M156.8 183.8h.01M165.9 186.7h.01M160.1 185.9h.01M165.1 165.8h.01M189.1 183.6h.01M164.4 180.1h.01M155.6 187.0h.01M162.3 174.0h.01M159.0 187.4h.01M158.5 185.4h.01M155.6 182.2h.01M158.3 186.3h.01M156.5 183.1h.01M162.3 154.1h.01M164.0 160.1h.01M164.0 186.2h.01M159.9 188.0h.01M161.9 182.1h.01M172.3 183.7h.01M161.5 185.3h.01M171.4 184.6h.01M169.4 175.3h.01M160.4 186.9h.01M158.7 161.1h.01M163.7 186.2h.01M182.3 183.8h.01M156.5 184.9h.01M160.5 187.9h.01M161.5 180.5h.01M165.1 184.6h.01M161.4 179.0h.01M159.4 186.0h.01M156.3 187.4h.01M164.1 187.7h.01M157.7 186.5h.01M171.7 187.8h.01M164.9 185.9h.01M171.8 155.8h.01M167.2 180.9h.01M157.6 180.7h.01M165.3 169.6h.01M165.1 184.2h.01M161.8 186.1h.01M160.0 184.9h.01M173.6 176.7h.01M189.1 180.7h.01M163.2 187.7h.01M156.8 181.4h.01M160.5 166.9h.01M163.2 167.1h.01M158.8 185.9h.01M168.8 186.1h.01M162.5 176.9h.01M175.0 178.0h.01M175.1 181.9h.01M175.0 181.9h.01M160.5 183.9h.01M156.0 178.6h.01M164.8 184.2h.01M157.5 168.3h.01M161.4 186.7h.01M159.7 188.0h.01M156.4 188.0h.01M158.9 182.9h.01M164.7 184.0h.01M156.2 181.0h.01M176.2 182.9h.01M160.6 181.3h.01M155.4 174.4h.01M168.3 176.3h.01M162.0 186.8h.01M156.2 179.7h.01M169.0 180.4h.01M159.8 162.3h.01M161.7 180.2h.01M179.8 187.0h.01M156.4 179.8h.01M159.1 186.1h.01M159.6 187.0h.01M164.2 187.1h.01M157.8 171.2h.01M156.0 181.1h.01M158.3 180.9h.01M160.1 176.8h.01M157.9 176.4h.01M167.5 186.3h.01M163.0 172.9h.01M156.5 182.8h.01M162.3 163.9h.01M164.4 161.9h.01M156.2 184.8h.01M165.2 185.7h.01M156.7 187.2h.01M155.6 185.8h.01M157.8 186.6h.01M159.5 187.7h.01M167.5 180.8h.01M165.9 185.4h.01M163.4 187.2h.01M164.3 181.7h.01M176.0 180.4h.01M158.1 187.3h.01M174.2 187.2h.01M181.5 187.1h.01M157.1 181.1h.01M159.3 181.8h.01M163.1 177.4h.01M155.5 185.6h.01M168.1 178.5h.01M155.4 187.4h.01M167.9 186.6h.01M171.4 186.7h.01M156.8 187.7h.01M156.9 187.7h.01M160.5 184.9h.01M161.2 186.8h.01M159.3 187.2h.01M171.3 178.5h.01M158.5 182.3h.01M180.8 180.6h.01M163.0 182.6h.01M168.8 181.7h.01M169.4 186.0h.01M155.8 175.7h.01M161.3 186.5h.01M183.9 184.6h.01M174.2 187.2h.01M174.1 185.9h.01M158.5 186.3h.01M163.6 187.4h.01M163.1 187.8h.01M161.0 188.1h.01M163.7 179.0h.01M156.9 178.9h.01M159.9 182.5h.01M157.8 180.1h.01M160.6 176.2h.01M156.3 187.7h.01M162.3 187.8h.01M155.4 187.8h.01M159.5 184.7h.01M164.3 181.7h.01M163.8 187.4h.01M156.7 172.1h.01M156.8 178.2h.01M158.6 181.9h.01M161.0 188.0h.01M177.3 182.4h.01M159.7 165.2h.01M164.0 186.2h.01M159.5 172.0h.01M156.7 187.0h.01M157.2 182.9h.01M162.1 175.2h.01M165.4 187.9h.01M177.5 183.8h.01M168.7 170.0h.01M156.3 170.6h.01M159.5 178.6h.01M164.7 155.1h.01M157.1 184.0h.01M155.4 185.6h.01M185.2 181.2h.01M162.0 187.8h.01M161.4 187.2h.01M160.9 180.6h.01M157.7 184.4h.01M170.6 180.6h.01M156.4 184.8h.01M159.5 182.3h.01M164.5 188.0h.01M162.5 173.6h.01M161.8 183.1h.01M156.2 183.0h.01M155.6 168.3h.01M157.3 187.9h.01M165.4 184.1h.01M165.6 187.1h.01M159.8 182.5h.01M157.5 182.2h.01M155.4 186.3h.01M157.1 184.9h.01M160.6 187.2h.01M155.8 184.3h.01M161.2 184.4h.01M177.2 182.9h.01M165.4 187.2h.01M164.5 187.2h.01M167.5 180.5h.01M172.3 180.7h.01M162.5 187.6h.01M161.8 180.6h.01M155.4 187.9h.01M176.7 187.8h.01M155.9 186.8h.01M157.8 181.4h.01M170.7 165.9h.01M155.9 187.5h.01M155.5 186.2h.01M166.8 185.5h.01M174.7 184.7h.01M165.2 177.9h.01M158.3 181.1h.01M162.6 185.5h.01M165.4 187.7h.01M157.9 187.6h.01M165.1 187.1h.01M156.1 186.0h.01M162.6 187.7h.01M161.2 176.9h.01M159.2 170.7h.01M156.1 165.8h.01M160.1 178.8h.01M159.3 185.0h.01M156.8 182.5h.01M155.8 183.5h.01M177.6 183.9h.01M156.7 183.6h.01M177.0 188.1h.01M162.6 180.6h.01M175.3 184.9h.01M165.3 186.3h.01M156.9 179.7h.01M158.2 187.9h.01M161.1 187.1h.01M162.4 180.7h.01M168.2 184.0h.01M158.3 185.4h.01M161.1 185.7h.01M159.9 187.3h.01M168.1 186.4h.01M171.0 187.4h.01M168.9 185.0h.01M160.0 182.1h.01M156.9 185.6h.01M156.4 179.7h.01M160.5 180.1h.01M163.1 184.3h.01M156.2 180.7h.01M158.2 175.5h.01M167.8 179.4h.01M157.2 186.5h.01M165.7 171.3h.01M166.8 184.7h.01M162.3 187.1h.01M160.2 141.5h.01M163.0 184.2h.01M157.5 182.8h.01M157.4 177.6h.01M163.2 184.4h.01M172.5 182.5h.01M158.5 177.8h.01M167.3 182.0h.01M185.9 183.1h.01M156.1 186.1h.01M189.8 185.5h.01M173.0 181.5h.01M170.6 187.3h.01M181.8 183.8h.01M177.3 187.6h.01M155.4 182.8h.01M158.5 182.6h.01M168.9 187.0h.01M159.6 184.1h.01M156.3 179.3h.01M193.7 163.5h.01M160.6 180.3h.01M165.8 187.9h.01M158.6 186.6h.01M158.1 178.5h.01M160.1 181.9h.01M176.1 174.1h.01M160.7 185.8h.01M168.2 177.2h.01M167.0 187.5h.01M163.6 178.7h.01M163.1 183.5h.01M156.3 182.4h.01M165.6 181.6h.01M156.4 187.8h.01M158.1 185.6h.01M161.6 181.2h.01M161.7 178.1h.01M159.3 184.7h.01M161.7 184.7h.01M159.5 186.2h.01M167.4 186.2h.01M168.1 186.9h.01M186.9 185.3h.01M160.5 183.2h.01M165.1 186.6h.01M158.3 179.0h.01M157.4 187.4h.01M160.2 184.0h.01M163.8 187.7h.01M171.2 183.1h.01M156.8 187.9h.01M164.2 187.9h.01M174.6 186.3h.01M166.2 186.0h.01M157.3 178.4h.01M164.2 186.7h.01M159.0 185.0h.01M158.8 183.9h.01M165.8 180.8h.01M162.9 186.9h.01M158.3 159.3h.01M167.1 172.3h.01M166.1 186.4h.01M166.2 187.1h.01M160.1 173.6h.01M160.0 174.6h.01M155.4 187.0h.01M155.9 179.5h.01M159.3 187.8h.01M168.0 187.2h.01M157.7 184.9h.01M182.9 142.0h.01M157.9 181.9h.01M168.0 185.2h.01M161.1 76.7h.01M175.0 164.2h.01M156.0 80.9h.01M169.7 113.9h.01M160.4 117.8h.01M166.9 175.8h.01M161.1 134.2h.01M170.9 149.4h.01M156.3 93.3h.01M156.5 170.0h.01M156.3 140.6h.01M157.0 85.8h.01M177.0 56.8h.01M155.9 113.9h.01M163.1 180.4h.01M166.4 81.8h.01M156.9 87.6h.01M160.0 104.1h.01M155.7 187.2h.01M161.9 60.9h.01M167.2 61.5h.01M183.9 174.5h.01M164.3 67.0h.01M164.1 146.5h.01M156.8 184.4h.01M157.8 170.0h.01M157.5 113.4h.01M171.7 55.5h.01M157.7 56.7h.01M176.7 139.4h.01M168.4 156.7h.01M155.4 109.9h.01M160.2 167.4h.01M159.6 153.8h.01M158.3 122.6h.01M156.5 98.7h.01M160.3 125.3h.01M160.2 187.9h.01M155.8 120.9h.01M159.8 56.5h.01M161.7 187.0h.01M172.6 147.2h.01M161.4 187.6h.01M158.1 150.1h.01M163.9 171.5h.01M161.8 184.0h.01M157.5 93.1h.01M168.8 186.9h.01M160.2 86.8h.01M155.6 106.3h.01M168.9 74.6h.01M161.5 186.5h.01M156.2 166.6h.01M164.9 132.6h.01M165.7 138.6h.01M156.6 187.4h.01M156.6 139.2h.01M159.7 157.2h.01M163.5 69.6h.01M162.7 166.8h.01M162.0 186.0h.01M160.9 175.9h.01M167.7 162.1h.01M158.1 166.3h.01M157.2 125.6h.01M155.5 166.5h.01M155.4 177.9h.01M155.8 176.3h.01M158.6 179.1h.01M160.9 61.9h.01M160.6 97.3h.01M175.6 81.0h.01M178.5 185.6h.01M158.3 144.6h.01M157.2 124.9h.01M183.3 139.1h.01M160.9 184.2h.01M187.8 166.6h.01M168.1 132.0h.01M168.7 100.7h.01M160.2 150.6h.01M155.9 123.7h.01M158.3 99.0h.01M160.2 65.2h.01M179.0 99.9h.01M159.3 158.1h.01M161.4 178.3h.01M162.9 166.7h.01M187.6 114.6h.01M158.5 181.4h.01M168.4 64.2h.01M170.1 180.2h.01M177.0 169.2h.01M157.0 174.2h.01M170.8 166.1h.01M162.6 139.1h.01M162.1 54.2h.01M156.2 76.9h.01M155.7 143.6h.01M158.8 149.9h.01M158.2 109.1h.01M162.1 115.0h.01M158.1 93.9h.01M163.2 153.7h.01M156.5 175.9h.01M158.8 63.6h.01M172.0 187.8h.01M160.2 187.7h.01M173.8 146.4h.01M174.5 135.2h.01M163.8 184.9h.01M189.2 122.0h.01M162.3 166.6h.01M161.2 167.6h.01M164.6 122.4h.01M164.0 91.0h.01M155.4 153.5h.01M160.5 92.9h.01M160.2 99.9h.01M170.5 187.1h.01M159.6 184.6h.01M155.6 110.0h.01M156.7 187.7h.01M156.3 184.4h.01M165.9 164.6h.01M178.6 157.3h.01M156.5 76.0h.01M162.0 89.0h.01M181.3 139.3h.01M158.0 175.6h.01M163.3 186.2h.01M155.6 102.0h.01M164.8 158.2h.01M159.2 181.9h.01M168.0 77.9h.01M160.9 52.5h.01M169.1 123.7h.01M164.6 187.0h.01M158.4 162.4h.01M155.7 159.3h.01M160.5 106.5h.01M167.8 86.4h.01M174.0 181.4h.01M160.4 76.7h.01M167.3 150.0h.01M159.1 187.4h.01M166.9 156.1h.01M159.9 180.4h.01M167.5 143.1h.01M160.1 166.5h.01M156.0 110.4h.01M197.0 132.7h.01M155.5 80.1h.01M180.8 160.7h.01M156.3 142.5h.01M157.0 179.8h.01M160.7 62.9h.01M163.2 118.2h.01M162.8 178.2h.01M159.9 104.4h.01M159.5 182.7h.01M162.7 183.9h.01M172.7 179.5h.01M158.6 187.9h.01M156.0 160.5h.01M170.3 52.8h.01M159.6 176.7h.01M161.3 68.2h.01M188.1 143.2h.01M158.4 67.7h.01M159.9 163.8h.01M185.4 72.6h.01M159.5 188.0h.01M157.5 168.2h.01M178.8 90.9h.01M155.6 184.0h.01M158.2 158.9h.01M168.4 160.4h.01M160.3 160.9h.01M155.7 68.4h.01M165.7 125.5h.01M160.7 186.3h.01M159.8 187.4h.01M164.4 161.5h.01M171.7 164.9h.01M165.0 89.6h.01M182.0 109.6h.01M203.7 163.0h.01M187.7 184.6h.01M160.2 120.9h.01M156.1 75.8h.01M159.6 177.6h.01M155.7 165.6h.01M162.6 146.8h.01M163.5 131.1h.01M157.6 51.8h.01M164.7 58.3h.01M158.7 90.9h.01M161.0 111.5h.01M167.3 186.2h.01M167.2 91.6h.01M163.8 78.1h.01M158.4 137.2h.01M166.8 106.0h.01M158.7 173.1h.01M168.1 186.3h.01M167.9 185.4h.01M164.3 59.2h.01M162.5 67.2h.01M163.1 87.9h.01M156.9 178.2h.01M169.0 170.7h.01M162.4 170.4h.01M163.0 184.4h.01M159.2 73.5h.01M155.9 161.4h.01M177.3 149.2h.01M158.0 113.8h.01M166.6 187.1h.01M183.1 152.7h.01M163.9 183.3h.01M156.7 141.2h.01M169.8 96.3h.01M162.2 67.4h.01M170.0 113.7h.01M171.5 177.6h.01M161.0 177.5h.01M156.8 183.2h.01M160.3 173.2h.01M155.8 139.9h.01M156.1 88.6h.01M175.7 115.8h.01M158.2 147.8h.01M156.8 175.9h.01M156.5 65.4h.01M158.5 158.9h.01M158.5 170.0h.01M161.0 157.2h.01M164.4 53.3h.01M155.5 178.1h.01M157.2 114.1h.01M161.5 176.4h.01M158.1 152.9h.01M164.8 175.7h.01M173.4 184.0h.01M162.3 72.3h.01M158.5 149.8h.01M169.7 162.6h.01M171.8 59.4h.01M188.0 114.1h.01M180.5 184.6h.01M160.1 176.2h.01M180.2 148.9h.01M157.3 114.1h.01M156.0 140.9h.01M165.2 132.2h.01M156.6 117.6h.01M160.6 151.4h.01M169.1 152.6h.01M160.3 179.2h.01M159.0 141.1h.01M173.6 64.4h.01M175.0 117.8h.01M159.5 155.8h.01M156.4 176.7h.01M159.7 70.8h.01M158.8 125.3h.01M157.9 167.4h.01M165.3 127.1h.01M179.3 59.5h.01M160.4 60.5h.01M190.4 128.5h.01M168.2 128.8h.01M161.5 126.0h.01M158.9 136.6h.01M157.3 50.9h.01M160.2 145.3h.01M158.0 55.3h.01M161.5 181.5h.01M171.2 91.3h.01M160.9 162.2h.01M156.4 63.4h.01M164.6 93.0h.01M158.3 74.0h.01M169.6 159.7h.01M156.1 186.5h.01M166.6 98.8h.01M157.5 157.6h.01M191.7 111.3h.01M162.1 178.3h.01M157.8 156.5h.01M164.5 130.6h.01M171.1 104.9h.01M160.7 104.7h.01M174.0 172.5h.01M175.0 127.7h.01M160.6 181.3h.01M160.8 183.3h.01M170.2 105.3h.01M171.5 135.6h.01M162.6 102.5h.01M155.6 119.8h.01M155.8 155.1h.01M163.2 150.0h.01M175.1 184.7h.01M166.8 92.4h.01M160.2 169.3h.01M157.1 132.5h.01M156.2 134.2h.01M158.0 183.8h.01M156.9 145.0h.01M163.3 68.8h.01M166.2 64.4h.01M171.3 166.9h.01M161.5 150.7h.01M158.1 119.7h.01M161.2 145.8h.01M159.7 116.1h.01M156.3 178.4h.01M170.9 137.6h.01M164.6 156.3h.01M164.4 133.9h.01M188.3 129.8h.01M156.8 111.1h.01M203.7 125.0h.01M157.8 109.1h.01M161.7 161.8h.01M161.3 90.3h.01M159.5 159.7h.01M159.3 171.2h.01M160.2 158.5h.01M158.8 177.4h.01M156.4 133.3h.01M164.6 184.1h.01M170.3 86.8h.01M155.4 104.3h.01M160.2 176.6h.01M158.5 179.5h.01M186.4 89.8h.01M157.4 186.5h.01M164.6 163.3h.01M183.6 86.4h.01M156.6 185.6h.01M181.5 60.6h.01M155.5 101.2h.01M157.7 175.2h.01M171.9 172.9h.01M164.1 180.1h.01M173.8 88.0h.01M159.4 65.6h.01M156.0 56.1h.01M161.4 174.3h.01M161.2 76.5h.01M161.8 126.0h.01M168.6 185.4h.01M156.7 171.0h.01M172.7 178.9h.01M157.7 99.4h.01M160.6 95.1h.01M158.1 75.7h.01M178.4 178.9h.01M158.0 81.6h.01M164.6 120.1h.01M155.8 171.0h.01M162.0 142.9h.01M158.1 187.5h.01M165.3 56.4h.01M155.3 140.3h.01M155.6 156.7h.01M170.3 127.5h.01M157.1 70.3h.01M183.3 102.6h.01M166.7 173.4h.01M159.4 162.6h.01M158.8 177.5h.01M177.4 136.0h.01M177.2 74.8h.01M162.3 184.7h.01M163.7 54.7h.01M182.7 79.6h.01M157.3 171.0h.01M157.0 155.9h.01M175.0 121.4h.01M159.7 175.0h.01M159.6 90.0h.01M155.6 126.5h.01M155.7 104.4h.01M184.6 51.6h.01M158.5 152.2h.01M156.6 140.9h.01M159.1 143.6h.01M173.8 104.2h.01M183.2 108.5h.01M160.8 177.6h.01M170.3 62.8h.01M165.4 121.6h.01M172.0 115.9h.01M155.4 55.2h.01M176.9 165.5h.01M177.1 178.7h.01M178.7 186.7h.01M181.7 186.6h.01M182.3 186.5h.01M184.6 186.1h.01M188.2 185.6h.01M190.4 185.2h.01M192.3 184.8h.01M195.3 183.9h.01M198.1 183.3h.01M198.6 182.9h.01M202.0 182.5h.01M204.0 181.5h.01M206.1 180.5h.01M208.0 179.5h.01M210.1 178.4h.01M213.8 177.8h.01M215.6 176.0h.01M217.9 173.6h.01M164.1 47.2h.01M157.2 47.2h.01M165.1 47.2h.01M159.4 47.2h.01M172.3 47.2h.01M178.4 47.2h.01M175.8 47.2h.01M172.1 47.2h.01M179.0 47.2h.01M162.6 47.2h.01M170.8 47.2h.01M168.3 47.2h.01M169.7 47.2h.01M166.0 47.2h.01M177.8 47.2h.01M158.7 47.2h.01M172.8 47.2h.01M168.5 47.2h.01M165.7 47.2h.01M161.3 47.2h.01M165.3 47.2h.01M162.2 47.2h.01M177.7 47.2h.01M161.8 47.2h.01M166.7 47.2h.01M177.1 47.2h.01M165.1 47.2h.01M168.8 47.2h.01M177.5 47.2h.01M174.1 47.2h.01M178.1 47.2h.01M172.6 47.2h.01M175.0 47.2h.01M172.3 47.2h.01M163.8 47.2h.01M175.8 47.2h.01M165.5 47.2h.01M166.2 47.2h.01M172.3 47.2h.01M174.1 47.2h.01M167.4 47.2h.01M162.1 47.2h.01M178.4 47.2h.01M163.2 47.2h.01M161.4 47.2h.01M178.5 47.2h.01M167.6 47.2h.01M155.5 47.2h.01M157.6 47.2h.01M166.2 47.2h.01M171.6 47.2h.01M168.1 47.2h.01M159.3 47.2h.01M169.1 47.2h.01M159.2 47.2h.01M177.1 47.2h.01M167.1 47.2h.01M176.4 47.2h.01M176.7 47.2h.01M170.0 47.2h.01M165.4 47.2h.01M161.2 47.2h.01M162.7 47.2h.01M172.4 47.2h.01M168.9 47.2h.01M156.7 47.2h.01M159.5 47.2h.01M177.7 47.2h.01M174.5 47.2h.01M175.3 47.2h.01M159.4 47.2h.01M160.2 47.2h.01M162.9 47.2h.01M173.0 47.2h.01M171.0 47.2h.01M161.6 47.2h.01M175.8 47.2h.01M165.3 47.2h.01M178.5 47.2h.01M160.2 47.2h.01M170.8 47.2h.01M164.2 47.2h.01M173.7 47.2h.01M170.6 47.2h.01M161.4 47.2h.01M173.8 47.2h.01M170.0 47.2h.01M166.9 47.2h.01M156.1 47.2h.01M158.0 47.2h.01M185.5 47.2h.01M188.2 47.2h.01M196.1 47.2h.01M208.4 171.2h.01M202.2 143.0h.01M182.0 98.9h.01M180.2 80.1h.01M159.6 178.7h.01M172.5 134.7h.01M155.6 144.4h.01M159.0 139.3h.01M156.1 134.3h.01M156.4 148.4h.01M158.2 160.3h.01M158.7 165.9h.01M167.9 131.2h.01M157.0 169.4h.01M157.8 139.6h.01M160.2 126.7h.01M165.6 162.6h.01M156.9 148.8h.01M163.1 151.9h.01M155.7 148.5h.01M168.3 175.0h.01M173.6 132.0h.01M155.5 141.1h.01M172.3 184.5h.01M160.7 124.9h.01M166.9 180.9h.01M156.0 153.3h.01M158.1 149.1h.01M156.3 186.7h.01M163.9 180.3h.01M163.6 133.3h.01M158.5 170.7h.01M160.1 137.0h.01M157.7 127.4h.01M158.1 177.5h.01M156.2 183.3h.01M155.9 163.1h.01M156.8 166.9h.01M155.4 169.8h.01M156.6 187.0h.01M156.6 143.3h.01M159.7 169.7h.01M159.9 184.6h.01M157.7 175.8h.01M157.3 137.7h.01M167.7 155.4h.01M161.5 175.6h.01M177.9 134.8h.01M157.2 128.9h.01M157.6 180.9h.01M155.8 146.1h.01M158.6 148.3h.01M155.5 150.0h.01M167.1 138.7h.01M162.0 187.6h.01M156.9 128.3h.01M162.5 186.3h.01M158.1 150.7h.01M167.0 143.9h.01M157.0 176.2h.01M160.5 181.4h.01M165.0 139.3h.01M158.3 173.3h.01M155.7 172.8h.01M160.5 134.7h.01M161.4 167.1h.01M165.6 128.8h.01M159.7 177.0h.01M156.3 185.7h.01M156.8 182.4h.01M158.7 181.5h.01M168.5 176.5h.01M165.3 186.7h.01M156.6 164.5h.01M162.5 168.2h.01M167.3 158.0h.01M159.3 137.0h.01M158.1 155.9h.01M155.4 125.2h.01M158.0 133.7h.01M163.7 158.0h.01M157.7 180.4h.01M158.9 137.1h.01M155.8 127.7h.01M157.4 143.0h.01M157.8 152.3h.01M159.3 180.1h.01M156.5 182.3h.01M177.7 179.5h.01M162.8 175.6h.01M163.1 147.5h.01M158.7 135.3h.01M165.0 185.8h.01M159.2 151.7h.01M170.7 172.5h.01M158.5 127.6h.01M156.4 156.0h.01M172.4 183.0h.01M156.5 156.5h.01M159.7 149.5h.01M157.7 162.6h.01M158.8 135.2h.01M156.1 142.7h.01M179.5 143.0h.01M165.2 155.6h.01M166.0 126.5h.01M157.6 183.3h.01M160.5 142.6h.01M166.7 159.0h.01M156.3 152.8h.01M162.0 131.9h.01M158.5 167.4h.01M185.2 187.6h.01M165.5 177.7h.01M155.6 139.4h.01M156.3 139.1h.01M159.1 183.7h.01M164.2 172.9h.01M164.7 144.2h.01M159.2 162.2h.01M155.4 153.7h.01M155.5 168.8h.01M156.5 134.3h.01M164.5 133.1h.01M165.9 180.4h.01M155.5 127.4h.01M161.4 148.3h.01M166.3 145.6h.01M157.5 154.1h.01M158.5 138.4h.01M174.2 176.5h.01M155.4 183.9h.01M155.7 168.2h.01M158.9 156.6h.01M159.7 185.6h.01M157.6 129.3h.01M173.3 148.6h.01M157.4 137.1h.01M155.7 137.6h.01M155.5 138.2h.01M169.8 164.2h.01M166.7 136.4h.01M163.5 125.4h.01M172.5 146.2h.01M177.4 154.5h.01M156.3 166.8h.01M165.7 151.1h.01M155.7 149.4h.01M155.4 165.7h.01M156.4 171.2h.01M173.5 138.1h.01M158.4 159.6h.01M168.2 183.4h.01M155.3 148.8h.01M165.9 155.1h.01M157.0 160.0h.01M174.0 183.5h.01M159.9 137.3h.01M157.9 157.5h.01M160.0 180.2h.01M178.7 153.5h.01M156.1 149.8h.01M157.7 157.8h.01M157.2 129.6h.01M161.0 174.9h.01M161.3 163.7h.01M158.7 156.9h.01M156.3 173.3h.01M158.9 172.6h.01M159.2 164.7h.01M162.5 180.3h.01M163.5 152.8h.01M164.1 176.2h.01M164.1 137.0h.01M158.0 134.8h.01M172.3 186.3h.01M160.3 176.4h.01M156.0 153.0h.01M166.9 169.4h.01M158.3 173.4h.01M155.8 143.0h.01M157.2 180.0h.01M156.6 160.0h.01M157.8 167.2h.01M160.9 182.4h.01M156.6 164.9h.01M155.9 182.9h.01M157.4 182.5h.01M161.9 174.4h.01M172.8 162.6h.01M169.7 161.2h.01M168.7 147.1h.01M157.5 186.7h.01M159.6 141.1h.01M157.4 172.1h.01M155.5 152.8h.01M160.2 155.4h.01M174.2 126.7h.01M157.6 128.3h.01M158.9 125.0h.01M163.1 173.6h.01M174.3 132.9h.01M174.7 173.0h.01M159.4 170.2h.01M157.1 173.0h.01M160.5 127.6h.01M155.5 180.8h.01M155.6 149.0h.01M161.4 185.7h.01M158.0 173.6h.01M157.1 139.7h.01M159.6 130.9h.01M164.4 154.8h.01M157.3 143.8h.01M155.7 183.5h.01M167.9 132.7h.01M156.2 180.0h.01M163.4 172.0h.01M158.1 167.3h.01M158.0 168.6h.01M158.4 151.4h.01M159.8 181.1h.01M159.7 185.9h.01M156.1 130.5h.01M157.2 138.6h.01M157.8 159.6h.01M162.8 186.9h.01M157.3 136.5h.01M156.7 128.5h.01M167.6 174.4h.01M162.9 136.3h.01M157.0 127.9h.01M157.4 127.9h.01M157.9 172.7h.01M162.5 149.5h.01M163.1 133.8h.01M157.7 178.0h.01M158.8 182.5h.01M157.7 176.7h.01M163.6 129.4h.01M165.6 160.2h.01M159.3 167.3h.01M156.9 170.0h.01M158.6 158.9h.01M162.2 133.7h.01M159.3 184.8h.01M155.6 156.7h.01M157.6 141.4h.01M160.5 165.4h.01M163.4 157.3h.01M159.8 152.4h.01M178.9 151.2h.01M156.2 167.7h.01M157.0 163.7h.01M156.6 140.9h.01M156.1 161.3h.01M157.5 159.1h.01M157.4 163.3h.01M160.5 162.0h.01M159.8 165.9h.01M158.3 172.1h.01M158.0 183.8h.01M167.9 180.3h.01M159.0 147.2h.01M162.1 187.0h.01M156.4 132.2h.01M159.7 150.1h.01M157.2 137.4h.01M161.0 174.2h.01M178.3 142.8h.01M160.3 182.1h.01M158.2 128.2h.01M157.0 134.6h.01M160.4 166.9h.01" stroke="#df2226" stroke-width="1.7" stroke-linecap="round" fill="none" opacity="1"/>
<path d="M73.5 46.6V188.1H220.5" stroke="#1a1a1a" stroke-width="1.3" fill="none"/>
<text x="68.3" y="192.5" font-size="12.4" text-anchor="end">0</text>
<text x="68.3" y="169.0" font-size="12.4" text-anchor="end">50</text>
<text x="68.3" y="145.5" font-size="12.4" text-anchor="end">100</text>
<text x="68.3" y="122.1" font-size="12.4" text-anchor="end">150</text>
<text x="68.3" y="98.6" font-size="12.4" text-anchor="end">200</text>
<text x="68.3" y="75.1" font-size="12.4" text-anchor="end">250</text>
<text x="68.3" y="51.6" font-size="12.4" text-anchor="end">300</text>
<text x="100.7" y="202.9" font-size="12.4" text-anchor="middle">-5</text>
<text x="146.8" y="202.9" font-size="12.4" text-anchor="middle">0</text>
<text x="190.8" y="202.9" font-size="12.4" text-anchor="middle">5</text>
<path d="M73.5 188.1h-3M73.5 164.6h-3M73.5 141.1h-3M73.5 117.7h-3M73.5 94.2h-3M73.5 70.7h-3M73.5 47.2h-3M102.8 188.1v3M146.8 188.1v3M190.8 188.1v3" stroke="#1a1a1a" stroke-width="1.2" fill="none"/>
<text x="146.0" y="36.1" font-size="14.8" text-anchor="middle">NC-vs-KD</text>
<text x="145.8" y="219.7" font-size="12.85" text-anchor="middle">log2(FoldChange)</text>
<text x="34.4" y="117.5" font-size="12.5" text-anchor="middle" transform="rotate(-90 34.4 117.5)">-log10(Singnificance)</text>
<text x="87.3" y="137.4" font-size="12.7">Down</text>
<text x="178.5" y="137.4" font-size="12.5">Up</text>
<path d="M448.2 171.3h.01M449.8 117.5h.01M462.3 176.0h.01M450.5 140.5h.01M462.3 177.3h.01M461.5 160.7h.01M451.9 92.5h.01M452.3 138.5h.01M450.0 123.2h.01M461.1 139.3h.01M460.1 132.4h.01M450.6 173.9h.01M452.7 165.9h.01M461.6 75.5h.01M451.6 103.7h.01M461.9 145.3h.01M460.0 156.9h.01M461.6 169.4h.01M453.4 112.3h.01M449.7 170.6h.01M451.1 132.7h.01M457.6 182.9h.01M462.8 180.9h.01M460.8 176.8h.01M448.8 145.9h.01M461.4 80.7h.01M449.1 157.3h.01M459.8 157.6h.01M450.6 46.5h.01M453.4 160.3h.01M448.2 186.7h.01M460.0 156.7h.01M462.4 182.6h.01M458.5 166.2h.01M459.5 181.2h.01M447.9 181.3h.01M459.7 129.7h.01M457.5 86.7h.01M462.0 153.7h.01M450.6 173.7h.01M460.5 153.5h.01M460.7 170.3h.01M460.6 179.6h.01M451.3 158.1h.01M458.3 145.2h.01M453.3 128.9h.01M457.3 181.3h.01M454.3 148.1h.01M451.2 118.9h.01M451.9 183.0h.01M461.5 128.3h.01M448.9 162.6h.01M461.3 112.1h.01M462.7 172.3h.01M449.3 102.1h.01M458.3 94.8h.01M459.9 133.6h.01M456.2 179.1h.01M449.7 108.5h.01M449.3 182.1h.01M452.9 147.5h.01M452.5 169.1h.01M458.2 145.7h.01M450.0 169.2h.01M449.3 174.3h.01M457.2 173.7h.01M452.8 122.5h.01M451.7 176.8h.01M453.3 155.8h.01M458.8 179.3h.01M461.6 174.5h.01M456.6 187.0h.01M460.5 183.0h.01M463.1 178.6h.01M461.4 146.4h.01M458.0 120.9h.01M463.0 181.7h.01M453.5 179.5h.01M457.3 121.7h.01M457.1 79.8h.01M448.0 187.0h.01M449.6 163.3h.01M460.0 159.2h.01M458.7 185.6h.01M454.3 187.4h.01M453.8 163.1h.01M452.8 53.4h.01M457.9 174.8h.01M450.7 122.3h.01M451.1 186.6h.01M462.1 128.4h.01M448.7 151.8h.01M453.8 132.7h.01M450.4 140.1h.01M449.0 152.0h.01M449.4 153.4h.01M457.2 184.4h.01M454.6 172.6h.01M448.9 152.9h.01M448.2 177.1h.01M448.9 173.5h.01M462.4 153.4h.01M451.8 63.5h.01M458.5 173.6h.01M457.1 185.1h.01M451.6 187.1h.01M462.8 165.8h.01M461.7 134.5h.01M452.8 56.0h.01M448.7 144.1h.01M453.9 173.2h.01M460.8 136.0h.01M456.9 181.3h.01M458.4 164.0h.01M458.2 160.0h.01M452.5 165.9h.01M456.4 173.5h.01M462.2 140.7h.01M452.7 170.4h.01M454.3 146.5h.01M450.8 102.8h.01M449.0 184.5h.01M460.3 160.2h.01M458.5 161.4h.01M457.4 81.0h.01M457.4 152.7h.01M452.6 180.3h.01M460.8 184.9h.01M455.8 178.5h.01M458.1 126.9h.01M453.0 181.8h.01M456.5 119.4h.01M457.3 113.0h.01M461.7 176.1h.01M451.7 155.7h.01M459.6 153.0h.01M451.8 46.5h.01M448.5 173.5h.01M453.9 174.1h.01M459.0 81.7h.01M459.2 150.5h.01M449.2 161.6h.01M449.6 165.3h.01M452.5 132.6h.01M457.8 182.4h.01M453.2 174.5h.01M462.0 134.6h.01M459.9 148.2h.01M448.9 159.2h.01M457.5 163.8h.01M454.5 176.8h.01M449.5 120.1h.01M449.8 143.4h.01M460.3 68.6h.01M460.6 80.9h.01M460.5 170.8h.01M460.6 168.8h.01M452.7 151.8h.01M451.2 117.1h.01M449.6 132.3h.01M457.1 154.3h.01M460.7 139.7h.01M460.4 100.4h.01M460.7 180.1h.01M455.7 181.7h.01M453.0 178.2h.01M450.6 182.1h.01M453.5 161.2h.01M453.8 93.9h.01M459.7 164.9h.01M458.2 179.9h.01M452.0 179.2h.01M457.3 92.6h.01M460.1 186.6h.01M451.4 178.3h.01M455.9 183.6h.01M461.3 151.9h.01M458.6 104.9h.01M449.9 95.6h.01M453.9 180.0h.01M450.2 46.5h.01M461.3 109.7h.01M462.2 156.6h.01M450.8 182.7h.01M458.6 121.2h.01M462.5 187.5h.01M458.7 180.6h.01M452.3 159.1h.01M456.3 171.5h.01M452.3 128.5h.01M451.6 134.6h.01M460.1 158.6h.01M453.9 163.1h.01M460.1 186.5h.01M453.7 135.9h.01M450.0 161.5h.01M456.7 187.0h.01M450.1 106.3h.01M448.9 143.4h.01M454.6 187.2h.01M449.2 143.6h.01M450.2 158.7h.01M452.5 162.4h.01M456.4 180.8h.01M461.1 61.9h.01M460.8 46.5h.01M454.1 122.3h.01M456.9 173.8h.01M461.8 170.3h.01M449.9 162.8h.01M460.8 159.6h.01M462.7 180.8h.01M455.4 180.7h.01M449.1 159.5h.01M451.3 102.0h.01M461.0 161.5h.01M458.8 147.6h.01M462.8 180.3h.01M460.7 155.6h.01M451.7 46.5h.01M461.3 93.5h.01M451.8 172.4h.01M454.4 158.1h.01M452.1 141.0h.01M451.5 157.0h.01M448.2 171.9h.01M448.4 178.5h.01M453.9 149.4h.01M450.6 183.2h.01M459.1 179.1h.01M449.2 126.0h.01M450.9 154.8h.01M457.9 106.2h.01M449.8 50.2h.01M462.3 185.0h.01M458.7 148.1h.01M451.5 79.6h.01M459.5 168.0h.01M451.3 141.9h.01M462.7 185.3h.01M462.6 177.7h.01M450.6 62.7h.01M449.2 173.0h.01M448.9 156.3h.01M448.8 156.4h.01M452.9 79.2h.01M457.4 53.4h.01M451.1 167.6h.01M449.1 46.5h.01M450.1 161.9h.01M457.4 46.6h.01M454.3 166.8h.01M448.5 185.1h.01M451.4 181.0h.01M449.6 155.9h.01M460.0 177.3h.01M451.8 66.8h.01M450.4 186.5h.01M449.2 169.3h.01M460.9 133.0h.01M451.8 150.5h.01M459.0 187.5h.01M453.4 149.5h.01M450.6 114.9h.01M453.8 143.7h.01M462.7 179.9h.01M457.1 179.7h.01M451.9 158.5h.01M458.1 177.8h.01M449.7 106.1h.01M459.0 118.8h.01M453.6 64.8h.01M451.6 146.5h.01M449.3 159.1h.01M461.8 179.1h.01M449.9 46.5h.01M462.5 174.7h.01M450.2 153.9h.01M453.9 151.0h.01M453.1 173.0h.01M461.7 127.7h.01M452.9 163.6h.01M449.8 116.5h.01M454.2 159.5h.01M451.5 146.0h.01M458.2 166.0h.01M451.6 46.5h.01M449.6 149.7h.01M449.5 139.4h.01M453.1 83.5h.01M450.0 154.6h.01M457.3 119.3h.01M459.8 154.0h.01M453.1 164.9h.01M449.6 159.1h.01M459.7 180.4h.01M461.8 148.3h.01M457.9 182.8h.01M462.6 178.4h.01M448.4 169.8h.01M460.5 171.9h.01M460.8 183.2h.01M449.5 136.3h.01M451.0 175.0h.01M459.7 130.4h.01M456.9 165.7h.01M460.8 183.8h.01M451.1 98.6h.01M462.8 185.9h.01M456.9 154.9h.01M453.4 112.7h.01M458.0 161.7h.01M460.9 46.5h.01M460.9 159.3h.01M454.4 130.8h.01M452.8 129.3h.01M454.6 169.9h.01M449.4 172.2h.01M454.6 159.3h.01M460.1 170.1h.01M458.1 150.5h.01M458.3 91.2h.01M459.9 182.7h.01M457.4 132.7h.01M448.8 171.0h.01M458.2 168.7h.01M452.4 100.3h.01M459.4 178.7h.01M449.0 169.2h.01M455.3 178.8h.01M459.9 112.8h.01M451.0 166.9h.01M460.4 110.6h.01M453.8 150.4h.01M462.0 151.3h.01M450.2 171.2h.01M457.0 162.1h.01M461.8 128.9h.01M449.1 179.5h.01M461.1 85.7h.01M450.3 181.6h.01M451.1 142.3h.01M451.5 148.6h.01M458.1 167.4h.01M447.8 184.8h.01M454.6 152.1h.01M463.0 180.7h.01M461.2 168.8h.01M450.7 159.3h.01M454.4 187.3h.01M461.7 150.3h.01M453.5 68.5h.01M452.7 146.0h.01M458.2 142.6h.01M449.4 173.5h.01M461.0 161.5h.01M461.1 158.6h.01M459.8 126.0h.01M461.4 158.9h.01M461.2 63.8h.01M458.2 102.9h.01M457.9 182.4h.01M448.8 182.1h.01M451.5 126.2h.01M459.1 134.6h.01M453.6 151.5h.01M452.1 130.8h.01M461.2 139.6h.01M459.6 164.7h.01M459.5 172.1h.01M460.2 162.8h.01M453.4 149.7h.01M459.5 135.0h.01M458.2 150.5h.01M460.8 135.3h.01M450.5 112.5h.01M449.4 85.2h.01M453.8 180.1h.01M457.1 169.7h.01M454.0 178.7h.01M452.6 184.2h.01M456.4 164.2h.01M450.8 186.6h.01M462.5 154.4h.01M462.5 169.6h.01M460.1 123.8h.01M449.9 168.0h.01M459.5 145.6h.01M450.5 99.8h.01M461.2 106.9h.01M450.5 46.5h.01M462.5 170.9h.01M452.1 152.1h.01M458.9 169.4h.01M460.3 169.4h.01M459.3 83.9h.01M450.1 145.8h.01M456.9 162.8h.01M458.9 177.9h.01M458.7 127.3h.01M452.4 186.0h.01M454.2 175.0h.01M450.2 182.8h.01M457.9 94.0h.01M449.1 92.6h.01M450.7 149.7h.01M461.1 133.7h.01M459.1 167.9h.01M451.8 161.0h.01M461.9 164.8h.01M449.5 173.0h.01M452.3 104.0h.01M454.0 156.9h.01M451.4 159.4h.01M453.4 166.3h.01M453.0 156.0h.01M461.0 87.2h.01M461.9 132.9h.01M449.6 145.8h.01M451.8 152.9h.01M458.7 184.5h.01M449.4 127.4h.01M453.8 175.0h.01M450.8 162.6h.01M460.1 174.1h.01M456.7 147.7h.01M462.6 159.8h.01M450.3 131.3h.01M459.7 181.2h.01M459.2 184.5h.01M458.9 180.1h.01M458.9 153.1h.01M454.7 183.8h.01M449.9 159.8h.01M458.3 132.5h.01M453.2 157.8h.01M451.3 171.6h.01M453.6 140.8h.01M452.8 181.9h.01M449.9 156.2h.01M457.1 160.0h.01M450.3 46.5h.01M462.7 174.0h.01M458.9 149.3h.01M453.2 137.8h.01M455.1 173.1h.01M457.0 113.2h.01M462.5 167.3h.01M450.0 168.8h.01M458.6 128.6h.01M449.5 153.3h.01M451.2 173.4h.01M459.1 159.9h.01M459.2 154.4h.01M457.4 172.1h.01M457.2 169.8h.01M453.4 162.4h.01M461.7 171.3h.01M452.9 153.3h.01M462.3 149.4h.01M451.6 104.2h.01M459.1 134.5h.01M457.6 65.7h.01M450.7 90.9h.01M451.3 115.3h.01M457.1 185.6h.01M457.6 138.0h.01M450.1 136.5h.01M459.5 161.4h.01M453.2 132.0h.01M460.2 182.1h.01M454.0 171.0h.01M448.8 181.3h.01M461.5 177.6h.01M456.7 154.5h.01M460.2 147.2h.01M462.4 184.2h.01M458.8 113.0h.01M462.0 134.4h.01M450.6 177.8h.01M459.8 154.9h.01M451.5 101.4h.01M458.6 179.5h.01M447.8 185.7h.01M460.9 115.2h.01M454.4 173.0h.01M460.4 138.7h.01M461.9 170.1h.01M458.7 118.2h.01M449.5 117.7h.01M453.6 176.5h.01M449.9 120.4h.01M459.3 181.0h.01M458.4 181.2h.01M451.0 177.2h.01M453.8 144.1h.01M459.8 144.0h.01M452.2 120.4h.01M457.6 150.6h.01M462.7 177.9h.01M449.3 134.2h.01M449.7 117.7h.01M449.7 67.2h.01M449.4 93.4h.01M460.3 163.3h.01M455.4 178.2h.01M448.4 185.9h.01M451.9 88.4h.01M458.5 165.7h.01M450.1 154.2h.01M449.7 182.7h.01M450.5 172.0h.01M460.6 181.3h.01M450.0 183.5h.01M456.6 185.5h.01M449.7 80.6h.01M452.7 102.5h.01M454.0 101.9h.01M460.3 177.4h.01M457.4 183.1h.01M460.4 154.4h.01M453.8 165.1h.01M461.5 93.3h.01M460.7 167.7h.01M461.3 173.3h.01M461.1 168.9h.01M458.6 186.9h.01M452.9 117.6h.01M452.6 168.5h.01M459.5 95.2h.01M461.8 164.2h.01M460.1 176.9h.01M458.7 187.5h.01M453.9 176.5h.01M458.5 131.8h.01M457.4 125.4h.01M450.2 166.0h.01M460.3 172.6h.01M461.9 136.3h.01M453.6 185.4h.01M462.5 174.1h.01M458.7 170.1h.01M450.9 128.9h.01M452.4 159.4h.01M451.4 172.9h.01M461.0 186.8h.01M451.1 105.1h.01M462.2 166.3h.01M459.5 181.8h.01M449.3 116.7h.01M449.1 130.9h.01M451.4 51.4h.01M462.6 169.9h.01M450.5 158.5h.01M451.3 183.5h.01M460.2 175.4h.01M461.1 158.2h.01M450.9 129.6h.01M462.1 147.3h.01M462.5 183.7h.01M448.7 176.8h.01M449.0 110.5h.01M462.4 174.6h.01M450.4 175.2h.01M456.9 97.3h.01M462.6 158.3h.01M459.4 177.4h.01M461.3 156.7h.01M462.3 158.2h.01M450.2 178.7h.01M458.2 168.9h.01M448.8 139.8h.01M457.2 173.3h.01M460.8 183.9h.01M448.9 169.1h.01M454.6 165.0h.01M458.7 82.4h.01M456.7 180.7h.01M450.6 172.0h.01M460.3 78.9h.01M449.0 158.7h.01M450.8 164.2h.01M459.2 163.6h.01M459.4 168.4h.01M458.0 171.3h.01M448.8 160.9h.01M456.9 136.0h.01M451.7 142.5h.01M449.8 151.1h.01M449.1 161.5h.01M461.3 140.3h.01M450.9 155.1h.01M451.6 164.3h.01M460.3 136.8h.01M459.2 110.5h.01M460.8 150.2h.01M450.1 149.6h.01M463.0 178.6h.01M458.6 181.8h.01M461.0 154.6h.01M458.1 173.1h.01M459.9 123.5h.01M462.0 135.9h.01M454.6 161.2h.01M448.2 165.3h.01M457.7 162.8h.01M456.7 179.8h.01M460.6 112.2h.01M452.6 81.7h.01M453.1 186.1h.01M460.7 163.4h.01M457.7 137.6h.01M462.1 169.9h.01M448.9 167.8h.01M460.7 181.8h.01M456.7 185.3h.01M460.9 163.7h.01M450.4 161.5h.01M460.9 116.9h.01M453.1 176.5h.01M461.6 118.6h.01M460.8 180.2h.01M461.5 148.4h.01M461.7 155.9h.01M449.3 172.7h.01M457.6 151.3h.01M452.6 130.6h.01M458.3 141.2h.01M461.2 165.6h.01M453.3 159.7h.01M448.6 171.1h.01M457.0 113.4h.01M456.6 187.4h.01M448.0 175.4h.01M449.2 166.5h.01M457.5 152.8h.01M451.7 171.4h.01M458.2 186.8h.01M462.0 161.5h.01M456.0 173.8h.01M459.7 145.0h.01M452.4 90.3h.01M456.2 181.9h.01M462.7 172.2h.01M449.1 172.2h.01M462.3 150.9h.01M461.9 165.3h.01M448.8 159.6h.01M450.2 105.1h.01M451.0 180.5h.01M457.4 167.1h.01M449.4 139.7h.01M448.4 185.4h.01M454.1 166.5h.01M448.9 163.2h.01M458.6 133.7h.01M461.5 177.0h.01M452.6 138.2h.01M460.1 183.1h.01M459.5 66.9h.01M452.5 162.2h.01M454.4 167.8h.01M462.4 152.7h.01M454.0 121.7h.01M451.2 123.1h.01M459.7 183.1h.01M462.2 157.1h.01M450.8 187.1h.01M454.4 174.1h.01M460.1 126.1h.01M449.2 182.8h.01M454.3 144.7h.01M459.9 179.8h.01M461.8 153.6h.01M450.5 184.2h.01M451.0 179.9h.01M457.2 187.4h.01M458.7 143.1h.01M462.2 160.5h.01M456.8 153.0h.01M458.2 130.6h.01M451.5 166.3h.01M448.5 168.0h.01M449.9 179.3h.01M454.1 185.0h.01M450.1 157.7h.01M459.6 146.3h.01M460.0 170.4h.01M448.9 166.7h.01M451.1 179.3h.01M456.3 187.5h.01M451.6 152.9h.01M454.5 139.5h.01M459.3 135.5h.01M452.3 185.4h.01M459.7 141.1h.01M454.2 160.2h.01M461.6 163.4h.01M461.6 184.0h.01M448.3 175.4h.01M452.7 143.8h.01M453.7 137.5h.01M450.0 176.1h.01M449.1 156.0h.01M453.3 142.3h.01M459.6 178.1h.01M459.2 167.5h.01M449.8 136.8h.01M448.4 179.7h.01M462.9 170.0h.01M458.6 147.4h.01M454.4 180.9h.01M450.1 181.3h.01M449.1 141.8h.01M453.0 178.9h.01M448.7 172.7h.01M460.1 131.7h.01M457.4 177.1h.01M452.1 185.6h.01M462.1 184.5h.01M460.7 54.3h.01M460.0 150.5h.01M459.8 150.7h.01M459.5 78.6h.01M451.3 165.4h.01M458.3 184.3h.01M459.5 157.8h.01M451.1 180.6h.01M455.3 179.9h.01M456.3 170.5h.01M450.5 112.7h.01M462.6 170.6h.01M448.5 177.1h.01M462.2 143.4h.01M450.1 170.6h.01M452.7 145.9h.01M453.8 169.2h.01M451.7 151.0h.01M452.3 158.8h.01M449.4 77.6h.01M458.4 182.7h.01M452.1 173.2h.01M459.6 182.3h.01M450.4 162.4h.01M450.8 168.7h.01M450.6 126.5h.01M461.3 167.3h.01M454.7 170.4h.01M457.2 113.2h.01M459.3 184.7h.01M462.9 171.6h.01M458.8 164.7h.01M451.9 180.9h.01M449.8 133.9h.01M457.1 177.6h.01M463.0 182.2h.01M449.5 147.7h.01M452.0 169.7h.01M451.8 157.5h.01M452.3 130.6h.01M452.5 183.2h.01M461.1 175.4h.01M450.0 131.2h.01M449.0 168.3h.01M450.6 181.7h.01M453.5 176.8h.01M458.0 164.1h.01M449.7 183.6h.01M452.6 179.6h.01M461.8 142.5h.01M460.8 154.7h.01M454.4 175.8h.01M456.5 127.0h.01M459.6 158.7h.01M462.1 139.7h.01M458.9 147.0h.01M459.8 179.4h.01M449.9 62.8h.01M461.5 163.7h.01M461.8 112.6h.01M453.7 155.1h.01M449.1 143.9h.01M460.3 92.0h.01M462.0 135.0h.01M450.6 178.8h.01M457.8 167.1h.01M457.0 174.0h.01M452.2 175.6h.01M449.2 157.0h.01M461.8 187.2h.01M448.1 184.1h.01M461.9 156.2h.01M454.0 168.8h.01M452.2 167.4h.01M457.6 177.2h.01M451.5 137.4h.01M457.7 121.7h.01M457.3 175.5h.01M460.0 161.2h.01M450.1 166.9h.01M451.7 180.3h.01M460.8 169.8h.01M457.0 160.3h.01M451.1 101.2h.01M451.1 179.4h.01M454.1 159.7h.01M450.3 184.6h.01M457.5 156.4h.01M459.3 181.9h.01M458.8 143.5h.01M461.3 164.1h.01M460.8 144.3h.01M459.7 137.0h.01M451.8 153.7h.01M450.6 184.5h.01M451.7 152.6h.01M461.2 94.8h.01M451.3 164.3h.01M448.7 182.3h.01M456.8 129.8h.01M450.9 185.5h.01M449.5 90.0h.01M459.2 174.1h.01M456.6 179.3h.01M457.1 92.4h.01M460.6 154.8h.01M454.5 172.8h.01M459.8 127.6h.01M451.4 177.8h.01M451.0 98.7h.01M453.2 159.7h.01M454.2 184.4h.01M459.1 182.3h.01M449.1 187.2h.01M451.9 124.7h.01M460.5 178.7h.01M461.0 131.9h.01M450.5 173.5h.01M462.4 177.9h.01M460.8 102.8h.01M449.1 171.3h.01M450.9 136.3h.01M459.3 52.6h.01M461.5 186.5h.01M450.6 186.9h.01M452.4 167.0h.01M458.7 167.7h.01M462.1 185.5h.01M461.9 127.9h.01M450.6 176.3h.01M458.7 117.5h.01M453.7 134.8h.01M461.8 113.7h.01M461.3 80.5h.01M460.0 79.7h.01M451.2 181.6h.01M459.6 162.5h.01M450.5 163.9h.01M449.2 64.8h.01M448.4 165.4h.01M457.0 103.7h.01M449.3 68.9h.01M450.3 151.5h.01M452.0 182.1h.01M459.6 127.0h.01M451.1 92.3h.01M459.2 182.0h.01M453.1 178.9h.01M460.4 167.3h.01M449.5 110.4h.01M461.1 171.8h.01M459.6 112.8h.01M452.2 166.8h.01M452.5 133.4h.01M449.4 179.1h.01M453.2 120.9h.01M462.3 161.1h.01M450.4 180.1h.01M458.4 174.0h.01M459.6 162.6h.01M450.3 169.4h.01M451.6 180.2h.01M456.6 166.8h.01M452.4 173.2h.01M453.3 149.9h.01M457.9 130.5h.01M459.3 160.6h.01M452.0 160.6h.01M457.8 166.4h.01M456.7 154.6h.01M458.2 183.7h.01M452.2 182.1h.01M459.6 124.6h.01M448.6 166.7h.01M457.8 46.5h.01M461.1 184.7h.01M452.5 135.8h.01M460.9 171.4h.01M455.7 169.2h.01M459.3 170.3h.01M456.9 180.5h.01M454.3 125.6h.01M460.9 167.3h.01M454.4 150.9h.01M459.6 172.3h.01M458.6 144.0h.01M462.7 177.7h.01M457.3 167.0h.01M461.5 136.0h.01M453.7 114.4h.01M447.9 184.4h.01M459.9 183.4h.01M452.7 184.8h.01M458.4 82.7h.01M453.1 151.7h.01M451.4 157.2h.01M450.0 149.6h.01M451.0 187.5h.01M451.1 186.4h.01M452.5 179.8h.01M454.2 180.2h.01M451.8 183.1h.01M452.0 153.1h.01M454.0 145.0h.01M458.0 175.0h.01M454.0 176.5h.01M458.6 163.6h.01M456.8 158.6h.01M453.0 70.8h.01M449.1 137.0h.01M459.8 166.4h.01M461.3 146.5h.01M449.9 187.3h.01M458.9 164.6h.01M454.3 135.6h.01M462.7 173.7h.01M457.9 162.8h.01M449.9 97.4h.01M452.4 168.1h.01M450.9 103.1h.01M453.3 143.1h.01M456.7 177.9h.01M459.1 144.2h.01M460.3 152.2h.01M452.3 170.4h.01M458.1 187.3h.01M459.7 180.9h.01M451.7 134.9h.01M462.0 180.9h.01M462.6 186.4h.01M450.5 81.9h.01M449.8 180.6h.01M452.8 159.5h.01M452.4 143.4h.01M460.5 112.5h.01M448.7 179.5h.01M454.1 166.8h.01M458.8 151.8h.01M460.7 115.3h.01M451.4 94.4h.01M452.3 108.8h.01M451.5 182.3h.01M456.6 186.0h.01M449.3 180.4h.01M461.5 162.9h.01M460.6 184.5h.01M452.4 185.3h.01M449.8 100.5h.01M448.5 172.5h.01M450.0 182.5h.01M458.9 125.2h.01M457.3 108.1h.01M459.2 177.1h.01M449.4 159.2h.01M449.8 67.5h.01M454.6 177.8h.01M456.3 144.4h.01M453.5 110.0h.01M454.0 96.3h.01M460.6 176.8h.01M459.8 163.0h.01M460.3 122.7h.01M461.7 160.8h.01M461.4 139.6h.01M450.2 173.6h.01M452.0 184.7h.01M453.1 171.5h.01M457.6 157.1h.01M458.3 159.7h.01M458.3 81.8h.01M448.2 180.4h.01M462.0 150.6h.01M460.6 149.7h.01M460.2 157.6h.01M459.8 173.0h.01M461.4 138.3h.01M449.4 117.3h.01M458.9 98.5h.01M452.6 136.8h.01M462.8 180.9h.01M450.5 179.2h.01M462.5 161.6h.01M454.5 160.4h.01M456.9 166.3h.01M461.9 179.8h.01M453.0 172.1h.01M459.2 135.0h.01M453.4 168.9h.01M458.7 145.5h.01M457.3 164.0h.01M455.6 185.4h.01M450.2 60.9h.01M456.4 169.4h.01M460.7 122.5h.01M450.2 134.4h.01M456.9 166.1h.01M449.3 139.2h.01M450.9 81.1h.01M453.4 91.2h.01M460.3 186.3h.01M451.4 122.3h.01M449.3 162.9h.01M451.3 165.4h.01M453.4 166.6h.01M462.6 169.9h.01M451.6 166.0h.01M452.1 139.4h.01M460.4 92.4h.01M457.3 149.6h.01M456.9 132.7h.01M462.6 166.8h.01M459.1 53.7h.01M460.8 127.8h.01M459.4 156.2h.01M460.6 153.4h.01M452.4 152.5h.01M449.6 104.8h.01M461.6 175.5h.01M452.1 184.4h.01M448.9 167.5h.01M456.5 172.1h.01M453.8 163.1h.01M449.8 144.0h.01M451.8 183.1h.01M460.8 119.1h.01M452.4 157.9h.01M462.4 182.6h.01M456.4 179.2h.01M451.9 152.7h.01M448.6 173.8h.01M449.8 175.4h.01M452.2 142.6h.01M460.4 162.5h.01M461.8 177.4h.01M450.0 169.4h.01M457.2 152.5h.01M460.8 150.6h.01M458.5 166.6h.01M449.7 186.8h.01M459.5 183.3h.01M462.0 162.7h.01M448.7 150.5h.01M449.1 183.0h.01M453.0 140.0h.01M462.2 174.1h.01M453.7 101.5h.01M462.7 160.9h.01M453.0 136.2h.01M458.9 179.2h.01M449.4 164.5h.01M451.0 159.4h.01M449.8 90.5h.01M461.8 161.7h.01M449.3 162.5h.01M460.9 163.9h.01M458.5 184.2h.01M450.5 161.6h.01M461.0 96.6h.01M460.6 120.1h.01M456.1 172.2h.01M450.6 122.0h.01M454.1 151.9h.01M460.7 151.8h.01M451.6 172.7h.01M452.3 144.8h.01M459.6 163.6h.01M462.2 158.8h.01M457.4 166.3h.01M457.8 173.6h.01M451.8 158.8h.01M456.8 167.9h.01M452.1 157.4h.01M457.8 180.0h.01M458.7 165.5h.01M457.3 176.6h.01M462.0 155.2h.01M450.0 153.6h.01M456.9 96.5h.01M449.9 183.6h.01M459.1 144.0h.01M457.7 130.3h.01M460.7 105.9h.01M451.1 182.6h.01M458.9 115.4h.01M458.8 46.5h.01M451.3 169.4h.01M452.5 165.9h.01M450.0 173.9h.01M452.6 133.2h.01M458.9 185.5h.01M462.3 155.3h.01M452.6 137.9h.01M457.4 172.6h.01M459.4 159.8h.01M460.3 178.9h.01M453.6 82.2h.01M457.4 135.2h.01M462.6 158.8h.01M449.8 76.6h.01M453.3 166.1h.01M460.1 185.0h.01M449.5 113.3h.01M452.0 140.4h.01M450.1 133.1h.01M452.0 121.8h.01M457.7 184.0h.01M451.6 159.0h.01M460.1 158.6h.01M462.8 184.2h.01M461.6 185.0h.01M459.7 124.0h.01M449.6 104.7h.01M450.1 146.3h.01M454.7 178.4h.01M451.8 170.9h.01M462.0 167.1h.01M460.5 92.7h.01M453.3 183.7h.01M459.5 180.5h.01M461.4 163.9h.01M455.1 172.3h.01M455.8 182.9h.01M450.3 87.0h.01M458.4 154.4h.01M456.0 180.2h.01M448.9 180.7h.01M458.2 178.5h.01M457.1 176.7h.01M461.9 146.1h.01M458.5 184.1h.01M457.2 184.4h.01M459.0 150.5h.01M457.1 152.1h.01M459.0 172.2h.01M449.3 167.8h.01M448.4 187.5h.01M453.0 185.8h.01M449.2 183.5h.01M453.6 187.1h.01M461.5 61.4h.01M454.7 154.3h.01M453.7 161.0h.01M448.6 162.3h.01M459.5 136.1h.01M452.6 133.3h.01M451.5 153.1h.01M460.7 163.7h.01M459.7 116.7h.01M459.1 173.2h.01M451.4 67.1h.01M461.5 174.8h.01M450.1 121.7h.01M459.5 103.0h.01M456.5 185.6h.01M460.2 163.9h.01M452.3 159.3h.01M449.5 114.3h.01M450.5 162.3h.01M459.5 137.7h.01M454.7 178.3h.01M454.6 186.1h.01M461.9 170.3h.01M456.6 157.4h.01M452.9 139.3h.01M451.6 178.7h.01M461.5 103.6h.01M450.2 157.1h.01M451.0 133.9h.01M452.2 131.9h.01M450.2 181.8h.01M459.3 86.1h.01M462.3 164.7h.01M462.6 158.2h.01M460.7 124.6h.01M449.2 135.3h.01M449.0 151.0h.01M457.1 166.9h.01M448.1 182.7h.01M462.2 174.1h.01M454.6 142.8h.01M461.3 168.1h.01M450.7 137.4h.01M452.9 163.7h.01M459.9 185.8h.01M450.0 159.6h.01M461.6 124.7h.01M459.2 173.5h.01M455.0 183.5h.01M453.0 119.4h.01M450.0 148.9h.01M450.4 132.5h.01M458.2 171.5h.01M448.8 145.0h.01M457.5 168.7h.01M462.0 132.7h.01M456.3 145.9h.01M451.2 168.7h.01M449.4 149.1h.01M457.4 152.4h.01M451.4 144.8h.01M452.7 179.2h.01M456.9 155.9h.01M458.3 181.7h.01M451.3 184.6h.01M449.0 126.8h.01M460.4 157.0h.01M454.5 184.8h.01M452.7 122.7h.01M456.3 169.5h.01M450.1 134.0h.01M458.4 155.1h.01M451.1 186.6h.01M451.0 112.9h.01M452.7 174.5h.01M456.8 181.6h.01M457.2 169.8h.01M453.4 180.2h.01M453.1 165.0h.01M459.3 167.7h.01M459.9 183.8h.01M453.3 175.2h.01M450.2 150.7h.01M454.6 164.2h.01M451.4 120.7h.01M459.3 187.0h.01M456.3 173.2h.01M463.0 182.9h.01M462.4 158.2h.01M455.1 187.1h.01M454.5 164.0h.01M456.2 177.6h.01M461.7 156.5h.01M458.9 126.2h.01M453.4 179.7h.01M458.0 162.9h.01M448.6 171.5h.01M458.6 154.2h.01M461.6 121.5h.01M450.8 172.6h.01M451.6 175.0h.01M461.4 168.7h.01M460.9 163.1h.01M462.0 152.6h.01M448.3 185.6h.01M461.1 172.0h.01M459.8 66.1h.01M448.2 171.6h.01M453.2 155.9h.01M460.8 182.9h.01M460.9 175.7h.01M452.9 82.8h.01M451.5 108.0h.01M452.0 149.6h.01M462.0 155.9h.01M447.9 183.7h.01M460.8 186.5h.01M460.1 183.4h.01M460.5 129.2h.01M460.3 154.2h.01M449.5 180.2h.01M460.6 177.4h.01M458.3 154.3h.01M449.6 175.9h.01M458.4 133.8h.01M463.0 186.3h.01M461.9 186.9h.01M459.7 145.7h.01M454.9 172.8h.01M447.9 181.2h.01M450.4 62.0h.01M454.3 116.7h.01M453.1 93.0h.01M457.5 137.2h.01M453.0 123.4h.01M459.5 148.3h.01M462.3 182.7h.01M460.9 169.8h.01M459.7 131.3h.01M449.2 171.5h.01M451.2 186.8h.01M451.3 169.8h.01M460.2 117.1h.01M450.7 184.7h.01M452.2 114.0h.01M460.4 178.3h.01M460.0 81.1h.01M448.7 182.1h.01M449.4 101.0h.01M450.0 161.4h.01M460.2 98.0h.01M462.7 179.4h.01M453.5 153.1h.01M461.1 69.4h.01M460.8 67.3h.01M458.1 98.7h.01M458.4 169.0h.01M459.4 173.7h.01M460.9 168.3h.01M450.2 154.2h.01M450.9 186.7h.01M461.9 171.7h.01M449.4 178.1h.01M448.9 140.4h.01M462.0 174.1h.01M461.8 160.8h.01M451.8 58.6h.01M462.0 141.6h.01M457.4 186.9h.01M462.4 180.4h.01M452.8 150.1h.01M456.3 172.9h.01M451.2 178.3h.01M457.1 124.9h.01M463.0 179.8h.01M456.9 172.0h.01M452.2 118.8h.01M450.2 180.7h.01M451.3 181.9h.01M454.2 150.9h.01M456.2 144.5h.01M460.4 92.4h.01M450.0 162.8h.01M459.5 161.9h.01M450.0 117.5h.01M450.6 172.1h.01M453.6 134.3h.01M451.2 149.7h.01M448.7 165.4h.01M454.7 173.6h.01M451.9 129.9h.01M462.6 160.3h.01M450.7 159.0h.01M462.8 177.4h.01M457.8 94.1h.01M452.7 123.6h.01M453.0 169.5h.01M462.0 180.4h.01M456.1 163.9h.01M450.1 141.4h.01M462.5 156.7h.01M462.2 184.5h.01M461.6 87.8h.01M450.9 179.8h.01M452.1 166.1h.01M457.9 177.1h.01M458.8 171.5h.01M448.3 169.3h.01M449.6 185.5h.01M450.6 183.2h.01M453.7 172.1h.01M459.8 155.0h.01M462.0 140.9h.01M459.1 178.0h.01M460.6 116.3h.01M456.9 177.7h.01M449.1 165.9h.01M456.6 170.2h.01M459.8 162.1h.01M458.0 174.5h.01M454.6 182.2h.01M459.3 181.5h.01M453.2 177.3h.01M461.7 144.2h.01M450.0 166.2h.01M449.6 154.8h.01M460.7 179.8h.01M461.4 173.9h.01M460.2 172.2h.01M450.8 182.0h.01M453.8 178.6h.01M461.0 107.3h.01M460.2 143.8h.01M461.7 174.4h.01M450.7 163.5h.01M461.8 171.6h.01M450.8 164.5h.01M458.1 171.5h.01M460.9 143.6h.01M458.0 129.1h.01M452.9 182.0h.01M451.8 179.9h.01M462.0 142.1h.01M457.7 170.5h.01M459.4 153.7h.01M462.1 158.0h.01M456.3 186.3h.01M461.3 146.2h.01M460.1 174.5h.01M452.8 166.7h.01M461.3 163.7h.01M460.1 158.1h.01M447.9 184.0h.01M451.1 181.0h.01M458.5 185.7h.01M463.3 187.0h.01M459.8 79.0h.01M449.8 146.0h.01M453.9 187.2h.01M463.2 186.9h.01M450.0 180.7h.01M452.8 170.7h.01M448.5 163.4h.01M462.4 160.1h.01M449.6 178.3h.01M453.5 123.8h.01M458.1 107.5h.01M462.4 174.3h.01M448.3 179.7h.01M451.9 97.0h.01M450.0 185.2h.01M462.2 137.8h.01M452.6 184.3h.01M451.8 105.4h.01M461.9 177.5h.01M449.3 176.6h.01M461.3 115.7h.01M460.5 144.6h.01M461.7 165.4h.01M454.6 146.5h.01M453.2 185.0h.01M458.3 147.8h.01M460.3 183.0h.01M460.4 117.6h.01M457.4 163.3h.01M454.1 185.7h.01M457.6 167.2h.01M454.0 181.7h.01M452.9 102.2h.01M451.1 154.7h.01M457.2 184.8h.01M452.9 46.5h.01M454.9 183.9h.01M454.1 156.1h.01M454.5 178.2h.01M462.1 172.4h.01M451.7 165.8h.01M452.6 106.7h.01M458.3 57.5h.01M458.1 184.5h.01M462.0 182.8h.01M458.9 185.2h.01M451.0 131.8h.01M461.8 187.3h.01M452.8 177.4h.01M452.9 59.4h.01M450.1 150.4h.01M462.8 181.7h.01M459.0 176.3h.01M461.8 134.3h.01M458.0 139.0h.01M459.8 170.9h.01M460.0 112.9h.01M459.6 61.9h.01M459.9 94.5h.01M462.8 166.8h.01M453.6 126.9h.01M449.3 149.4h.01M459.9 106.0h.01M459.2 160.6h.01M452.0 136.3h.01M452.3 105.5h.01M459.9 138.2h.01M452.4 178.0h.01M458.2 175.9h.01M449.4 105.9h.01M449.0 182.6h.01M451.1 152.3h.01M453.3 169.2h.01M458.2 173.8h.01M449.5 154.3h.01M451.2 183.1h.01M460.0 96.3h.01M457.0 90.0h.01M461.7 81.8h.01M450.5 163.7h.01M451.4 131.1h.01M461.9 141.3h.01M449.0 187.3h.01M455.4 178.2h.01M451.7 179.7h.01M451.6 182.8h.01M458.2 136.6h.01M450.6 187.2h.01M458.0 182.1h.01M452.6 59.9h.01M461.4 130.8h.01M461.8 165.9h.01M449.0 186.9h.01M454.8 140.5h.01M460.6 183.1h.01M450.9 164.6h.01M449.1 137.3h.01M460.9 156.1h.01M448.9 163.7h.01M452.5 135.3h.01M450.0 180.7h.01M461.0 141.0h.01M460.2 172.1h.01M449.1 184.1h.01M452.7 153.9h.01M449.4 187.0h.01M450.2 107.6h.01M459.4 173.5h.01M451.0 108.8h.01M449.6 143.6h.01M460.5 146.8h.01M452.7 103.0h.01M449.0 124.6h.01M459.9 152.0h.01M447.9 184.7h.01M451.5 109.8h.01M453.0 133.6h.01M462.0 183.5h.01M457.9 178.6h.01M453.6 46.5h.01M453.0 156.5h.01M450.4 154.4h.01M454.5 182.4h.01M455.4 182.0h.01M456.3 178.5h.01M462.3 177.4h.01M460.3 182.2h.01M451.8 167.2h.01M458.8 164.5h.01M453.7 168.3h.01M453.4 186.2h.01M450.2 98.1h.01M459.7 141.6h.01M451.2 160.4h.01M462.9 183.2h.01M460.5 160.2h.01M452.1 67.7h.01M460.1 186.6h.01M462.7 163.6h.01M461.4 162.8h.01M459.3 182.5h.01M454.2 120.3h.01M460.0 186.4h.01M453.7 166.4h.01M452.5 130.4h.01M456.9 162.4h.01M453.7 168.2h.01M453.9 181.9h.01M452.8 171.7h.01M452.6 182.4h.01M448.8 143.9h.01M450.6 140.2h.01M461.1 89.2h.01M449.7 89.1h.01M451.5 138.3h.01M461.3 163.1h.01M450.1 153.8h.01M460.3 145.7h.01M454.0 168.0h.01M458.4 162.3h.01M460.5 181.4h.01M456.2 160.4h.01M456.3 170.9h.01M459.0 170.3h.01M449.3 101.6h.01M462.7 182.6h.01M460.9 140.6h.01M449.8 139.2h.01M458.3 174.5h.01M450.1 129.7h.01M462.1 163.3h.01M458.8 157.3h.01M452.0 129.1h.01M449.8 164.4h.01M451.6 169.2h.01M450.8 187.2h.01M452.2 148.5h.01M460.5 128.7h.01M457.8 182.7h.01M451.4 179.4h.01M451.2 181.2h.01M462.7 161.7h.01M450.6 86.5h.01M451.9 50.2h.01M461.2 186.7h.01M449.7 110.0h.01M457.8 163.4h.01M457.8 180.3h.01M458.9 138.3h.01M459.1 182.7h.01M449.4 130.7h.01M460.9 172.2h.01M451.4 179.5h.01M461.3 172.3h.01M448.6 182.9h.01M448.6 171.9h.01M449.3 174.9h.01M457.7 156.4h.01M457.1 159.0h.01M461.1 181.4h.01M455.1 175.4h.01M458.7 142.5h.01M449.4 113.6h.01M450.7 111.8h.01M452.0 180.2h.01M459.3 102.1h.01M449.2 156.3h.01M459.9 145.3h.01M463.0 187.2h.01M460.2 167.4h.01M452.7 183.7h.01M460.0 107.4h.01M452.1 168.7h.01M451.8 166.1h.01M461.7 178.9h.01M450.3 162.6h.01M462.7 165.4h.01M451.9 174.0h.01M454.7 183.4h.01M462.3 171.3h.01M448.3 177.8h.01M454.9 179.1h.01M450.7 101.2h.01M452.8 176.4h.01M461.6 182.2h.01M452.9 71.6h.01M454.6 163.4h.01M452.2 185.0h.01M462.0 174.0h.01M457.7 161.9h.01M457.7 154.4h.01M450.3 175.1h.01M462.0 184.8h.01M453.2 179.1h.01M452.2 186.7h.01M449.5 152.7h.01M453.2 135.1h.01M453.8 168.0h.01M457.8 170.9h.01M460.2 162.0h.01M450.6 137.8h.01M459.6 159.8h.01M452.7 181.6h.01M449.1 184.1h.01M457.1 173.5h.01M460.8 185.8h.01M459.5 121.3h.01M450.5 163.5h.01M449.2 182.3h.01M451.7 99.4h.01M461.0 136.3h.01M459.6 97.2h.01M460.5 145.3h.01M458.8 186.6h.01M461.7 180.4h.01M458.8 145.3h.01M461.8 109.2h.01M451.1 126.9h.01M448.1 186.3h.01M448.3 186.4h.01M460.3 118.9h.01M459.4 161.8h.01M450.2 177.7h.01M450.4 107.7h.01M449.5 171.4h.01M460.0 186.8h.01M457.6 177.5h.01M456.6 186.7h.01M461.1 144.7h.01M449.6 186.7h.01M452.6 181.3h.01M458.8 152.7h.01M460.8 107.4h.01M459.5 89.8h.01M448.7 187.4h.01M461.9 108.3h.01M457.8 184.2h.01M456.8 145.1h.01M450.0 169.3h.01M452.2 173.0h.01M461.7 131.5h.01M452.6 98.5h.01M460.2 82.1h.01M460.1 179.7h.01M458.4 180.9h.01M461.8 172.0h.01M461.5 134.0h.01M456.4 186.3h.01M457.9 80.4h.01M453.9 137.6h.01M452.9 182.7h.01M449.2 161.3h.01M452.0 160.1h.01M462.4 170.2h.01M451.4 132.9h.01M449.6 172.9h.01M451.7 160.0h.01M456.0 175.7h.01M456.9 162.6h.01M462.2 180.9h.01M460.3 176.3h.01M462.0 122.7h.01M459.2 145.7h.01M452.6 156.1h.01M454.4 136.3h.01M458.4 186.4h.01M454.5 184.9h.01M454.1 169.3h.01M461.5 135.2h.01M460.3 121.3h.01M451.7 144.4h.01M454.2 103.8h.01M459.5 171.1h.01M461.8 157.3h.01M449.0 157.2h.01M449.8 177.4h.01M453.1 178.6h.01M456.9 171.3h.01M461.1 97.2h.01M456.7 170.1h.01M449.3 157.5h.01M448.6 171.1h.01M460.1 177.0h.01M463.0 179.7h.01M453.5 186.3h.01M448.2 178.6h.01M458.6 156.0h.01M459.6 185.6h.01M461.5 159.5h.01M462.1 132.4h.01M451.7 172.4h.01M454.5 145.0h.01M457.8 182.9h.01M452.5 147.7h.01M461.0 74.6h.01M449.7 186.2h.01M460.7 134.8h.01M448.4 179.0h.01M459.1 110.0h.01M458.6 175.5h.01M460.4 187.0h.01M461.7 177.1h.01M461.7 157.1h.01M458.7 146.7h.01M449.2 148.2h.01M458.8 169.6h.01M451.5 117.2h.01M452.8 171.6h.01M460.0 152.6h.01M450.4 172.4h.01M454.1 158.0h.01M452.6 177.1h.01M458.3 167.1h.01M451.1 136.9h.01M457.8 165.3h.01M453.0 135.8h.01M458.1 51.5h.01M460.0 85.9h.01M461.7 155.8h.01M460.0 184.3h.01M461.2 94.4h.01M450.1 154.1h.01M453.9 177.9h.01M455.5 171.3h.01M457.2 143.1h.01M454.6 187.4h.01M449.9 110.6h.01M459.8 170.6h.01M449.0 106.0h.01M450.7 120.0h.01M451.3 129.4h.01M449.4 160.7h.01M460.9 118.0h.01M459.4 158.8h.01M458.0 88.1h.01M461.9 144.2h.01M458.6 97.1h.01M459.1 46.5h.01M460.7 161.6h.01M451.6 112.7h.01M452.8 165.0h.01M449.8 183.1h.01M456.3 156.7h.01M458.9 150.6h.01M458.8 183.4h.01M462.2 135.9h.01M456.6 169.8h.01M453.8 167.8h.01M450.4 165.5h.01M459.8 168.3h.01M451.3 184.5h.01M448.7 167.6h.01M462.0 162.6h.01M452.0 148.8h.01M453.7 181.3h.01M452.8 185.4h.01M451.8 157.4h.01M454.7 136.6h.01M450.1 130.2h.01M459.3 146.0h.01M459.2 166.9h.01M461.4 87.2h.01M457.5 153.6h.01M453.5 168.2h.01M448.9 158.3h.01M456.3 171.8h.01M449.7 167.7h.01M452.5 136.5h.01M449.7 164.5h.01M462.2 138.2h.01M449.0 174.8h.01M449.4 164.1h.01M454.3 184.9h.01M458.8 148.8h.01M448.3 175.8h.01M458.7 177.0h.01M451.1 118.9h.01M452.1 121.3h.01M451.5 151.1h.01M448.0 187.2h.01M461.8 152.1h.01M448.9 146.2h.01M462.0 173.3h.01M450.6 99.8h.01M455.4 186.1h.01M452.9 164.4h.01M456.6 165.6h.01M448.5 160.9h.01M452.3 158.3h.01M449.4 156.7h.01M451.9 64.0h.01M459.2 169.5h.01M461.4 184.0h.01M451.6 183.9h.01M460.3 178.2h.01M454.6 163.2h.01M461.7 171.2h.01M451.6 169.7h.01M459.8 186.6h.01M450.2 78.4h.01M451.3 167.4h.01M452.6 129.5h.01M458.9 139.3h.01M460.2 164.4h.01M447.9 186.8h.01M459.7 120.8h.01M461.5 185.1h.01M452.8 173.2h.01M451.6 161.3h.01M451.2 94.7h.01M459.8 175.2h.01M460.3 135.1h.01M459.8 116.3h.01M453.8 179.5h.01M452.8 179.9h.01M458.6 110.4h.01M451.9 170.1h.01M450.0 123.9h.01M460.4 186.6h.01M459.4 163.7h.01M458.0 86.2h.01M450.3 147.9h.01M452.6 139.8h.01M450.4 130.6h.01M462.3 169.9h.01M462.7 162.9h.01M461.2 67.0h.01M458.3 141.7h.01M450.2 177.4h.01M458.0 182.0h.01M456.1 168.9h.01M459.6 103.9h.01M453.5 180.2h.01M452.8 173.6h.01M452.8 136.3h.01M461.4 179.8h.01M453.1 153.5h.01M451.0 152.1h.01M461.8 178.2h.01M462.2 154.6h.01M451.2 170.7h.01M458.8 152.6h.01M448.8 182.2h.01M452.7 184.9h.01M452.4 173.9h.01M453.2 180.6h.01M460.3 172.8h.01M448.1 184.1h.01M449.9 82.1h.01M461.6 185.1h.01M456.7 146.9h.01M457.3 80.3h.01M462.1 173.6h.01M455.4 171.3h.01M450.5 187.0h.01M459.6 178.2h.01M448.8 161.7h.01M449.7 140.0h.01M457.9 187.4h.01M452.0 172.5h.01M449.2 156.9h.01M449.5 145.0h.01M451.4 185.6h.01M460.3 180.8h.01M450.0 159.4h.01M457.0 171.5h.01M460.5 170.6h.01M449.3 186.7h.01M460.6 125.5h.01M460.2 181.7h.01M449.8 166.7h.01M460.7 167.6h.01M460.0 161.3h.01M451.1 151.4h.01M458.5 163.5h.01M459.1 166.4h.01M452.6 127.3h.01M448.8 156.3h.01M450.1 106.3h.01M459.2 152.2h.01M449.7 122.4h.01M450.4 171.7h.01M450.5 103.2h.01M451.6 49.7h.01M457.7 170.4h.01M461.4 123.4h.01M456.7 147.8h.01M453.4 146.0h.01M452.4 149.2h.01M450.6 162.1h.01M458.1 155.5h.01M459.6 177.1h.01M452.4 46.5h.01M460.5 173.6h.01M449.7 183.9h.01M451.7 184.1h.01M456.4 177.6h.01M460.4 178.3h.01M457.8 81.4h.01M461.6 147.4h.01M453.9 170.1h.01M449.5 163.3h.01M459.2 150.1h.01M456.1 176.0h.01M454.4 181.2h.01M461.0 186.2h.01M459.2 180.5h.01M454.7 166.9h.01M461.0 158.7h.01M456.3 182.9h.01M460.9 152.4h.01M457.3 181.9h.01M460.4 153.7h.01M449.3 118.5h.01M462.9 182.9h.01M461.3 83.6h.01M449.8 176.5h.01M455.9 185.3h.01M454.8 162.3h.01M451.0 76.9h.01M457.5 182.3h.01M451.9 142.2h.01M453.6 175.6h.01M459.3 163.1h.01M450.7 180.1h.01M450.9 166.3h.01M462.3 175.9h.01M463.0 180.7h.01M462.5 186.5h.01M454.1 165.0h.01M458.3 179.6h.01M451.4 113.3h.01M448.4 181.0h.01M461.2 120.6h.01M457.7 156.6h.01M457.1 184.0h.01M452.8 169.7h.01M451.3 164.5h.01M460.3 185.3h.01M457.4 75.3h.01M462.2 159.1h.01M460.7 149.6h.01M462.2 178.1h.01M460.2 177.8h.01M452.0 146.7h.01M457.6 182.0h.01M457.0 156.8h.01M450.6 143.3h.01M459.9 156.7h.01M458.3 166.7h.01M447.9 178.2h.01M458.4 134.2h.01M455.8 173.5h.01M460.7 48.1h.01M449.3 157.7h.01M451.1 151.1h.01M459.8 110.7h.01M454.9 175.4h.01M459.7 122.4h.01M458.7 134.5h.01M451.7 180.5h.01M456.7 165.4h.01M458.6 131.8h.01M461.8 153.8h.01M456.8 179.0h.01M457.2 129.4h.01M452.5 175.8h.01M451.2 83.4h.01M456.3 183.9h.01M459.2 96.3h.01M449.5 152.1h.01M452.7 166.4h.01M453.8 175.0h.01M459.6 102.5h.01M449.8 164.5h.01M458.6 115.7h.01M449.6 167.8h.01M454.1 140.6h.01M451.2 168.4h.01M462.6 182.7h.01M449.8 104.5h.01M461.7 126.3h.01M461.3 113.8h.01M462.1 168.5h.01M460.6 155.1h.01M462.0 177.4h.01M462.3 178.1h.01M450.2 182.6h.01M454.8 174.0h.01M451.8 156.6h.01M450.0 131.6h.01M458.7 132.3h.01M451.0 184.6h.01M452.6 185.3h.01M454.5 181.3h.01M452.2 54.5h.01M453.9 129.3h.01M461.7 165.9h.01M448.1 187.3h.01M458.9 153.5h.01M454.2 174.7h.01M458.2 154.8h.01M452.0 175.2h.01M461.3 164.3h.01M459.7 168.3h.01M462.4 177.9h.01M459.9 161.1h.01M461.5 81.6h.01M458.4 131.5h.01M452.5 168.8h.01M448.1 177.8h.01M457.4 116.7h.01M448.4 180.6h.01M461.8 173.9h.01M456.7 44.2h.01M457.8 44.2h.01M457.4 44.2h.01M454.8 44.2h.01M456.2 44.2h.01M460.6 44.2h.01M454.9 44.2h.01M461.0 44.2h.01M460.9 44.2h.01M458.0 44.2h.01M457.7 44.2h.01M451.9 44.2h.01M456.1 44.2h.01M456.9 44.2h.01M449.4 44.2h.01M457.3 44.2h.01M454.0 44.2h.01M459.5 44.2h.01M449.3 44.2h.01M452.5 44.2h.01M461.5 44.2h.01M449.0 44.2h.01M452.5 44.2h.01M451.5 44.2h.01M457.6 44.2h.01M456.9 44.2h.01M460.3 44.2h.01M457.0 44.2h.01M449.5 44.2h.01M451.7 44.2h.01" stroke="#c6c6c6" stroke-width="1.7" stroke-linecap="round" fill="none" opacity="1"/>
<path d="M445.9 179.0h.01M442.9 185.7h.01M445.4 173.7h.01M445.5 172.9h.01M446.9 187.5h.01M438.5 187.4h.01M440.4 183.0h.01M447.0 186.0h.01M447.2 183.5h.01M444.7 182.6h.01M445.8 187.5h.01M443.4 180.1h.01M443.9 185.7h.01M447.1 186.5h.01M442.1 183.8h.01M441.9 185.8h.01M445.2 173.9h.01M443.3 186.4h.01M445.3 187.2h.01M439.2 183.8h.01M441.7 186.5h.01M440.0 182.9h.01M445.0 182.2h.01M442.6 175.9h.01M438.3 187.1h.01M446.5 185.8h.01M442.5 175.4h.01M446.0 187.2h.01M446.9 184.3h.01M444.1 174.9h.01M446.3 184.3h.01M445.6 186.1h.01M442.6 186.3h.01M446.9 182.9h.01M437.0 184.7h.01M440.5 180.9h.01M443.0 186.5h.01M429.4 174.8h.01M443.3 182.8h.01M444.6 186.6h.01M445.3 186.8h.01M447.1 186.2h.01M446.7 185.5h.01M443.4 184.7h.01M439.8 180.3h.01M436.1 179.5h.01M441.1 186.7h.01M443.4 183.3h.01M436.2 187.3h.01M443.8 186.8h.01M443.6 187.2h.01M420.2 186.9h.01M435.9 185.3h.01M444.7 164.6h.01M443.7 186.7h.01M437.4 183.1h.01M446.2 186.1h.01M439.9 186.1h.01M447.1 186.4h.01M445.5 174.5h.01M446.6 187.5h.01M427.7 184.8h.01M429.2 185.5h.01M447.2 184.4h.01M447.1 187.1h.01M447.1 178.0h.01M430.9 185.8h.01M446.7 180.7h.01M443.7 182.8h.01M436.9 185.5h.01M441.9 182.8h.01M435.7 182.6h.01M442.6 185.2h.01M431.0 185.9h.01M445.9 178.8h.01M447.2 181.5h.01M444.0 186.5h.01M445.6 165.8h.01M442.9 184.6h.01M445.5 179.2h.01M438.3 183.7h.01M437.6 178.1h.01M446.6 185.4h.01M445.3 174.2h.01M444.9 175.4h.01M445.4 177.7h.01M443.4 180.2h.01M447.1 173.6h.01M446.1 179.2h.01M446.1 183.9h.01M446.1 159.8h.01M439.7 184.4h.01M445.6 185.7h.01M447.1 175.7h.01M447.0 122.0h.01M443.1 187.4h.01M444.6 164.5h.01M442.5 172.6h.01M445.2 151.5h.01M445.4 123.9h.01M441.7 130.2h.01M443.1 132.9h.01M445.5 187.4h.01M443.2 175.6h.01M446.9 167.1h.01M442.8 157.0h.01M444.2 146.1h.01M444.2 145.8h.01M445.6 128.6h.01M447.2 167.6h.01M446.4 171.0h.01M443.2 167.9h.01M434.3 182.1h.01M434.3 132.2h.01M445.4 177.6h.01M446.4 169.6h.01M443.1 161.2h.01M443.1 163.1h.01M446.2 129.9h.01M441.5 143.2h.01M444.3 176.8h.01M445.3 143.1h.01M445.6 182.4h.01M444.9 172.2h.01M447.0 187.5h.01M447.2 130.3h.01M444.7 125.2h.01M445.6 183.0h.01M444.7 186.2h.01M440.5 186.4h.01M436.9 187.1h.01M414.0 185.7h.01M420.4 186.9h.01M420.1 186.8h.01M431.7 186.5h.01M413.9 185.9h.01M417.9 186.4h.01M430.0 186.9h.01M436.2 187.1h.01M424.0 186.3h.01M429.5 186.6h.01M413.9 185.0h.01M422.9 186.6h.01M432.2 187.0h.01M417.4 185.9h.01M429.7 186.8h.01M435.0 187.2h.01M417.6 185.6h.01M413.4 185.6h.01M414.1 186.5h.01M421.8 186.8h.01M429.4 187.0h.01M446.8 44.2h.01M446.4 42.7h.01M447.2 58.2h.01M446.8 86.5h.01M435.6 138.2h.01M399.2 180.0h.01M444.7 117.0h.01M447.2 126.4h.01" stroke="#3d85c0" stroke-width="1.7" stroke-linecap="round" fill="none" opacity="1"/>
<path d="M468.2 186.4h.01M467.3 186.0h.01M465.7 186.3h.01M464.1 187.2h.01M464.6 183.8h.01M465.4 182.0h.01M466.0 181.9h.01M464.6 178.4h.01M470.8 183.3h.01M469.7 177.1h.01M487.7 186.0h.01M468.5 186.3h.01M464.9 182.6h.01M470.5 185.0h.01M465.2 184.6h.01M465.9 186.8h.01M470.3 186.4h.01M476.1 179.5h.01M464.6 185.3h.01M470.5 186.0h.01M472.3 181.7h.01M475.4 183.1h.01M470.1 179.6h.01M479.3 187.4h.01M464.0 181.7h.01M471.1 179.4h.01M468.0 185.8h.01M472.1 185.0h.01M464.0 184.8h.01M465.7 168.8h.01M467.4 184.6h.01M464.7 186.2h.01M465.9 184.7h.01M465.6 186.2h.01M464.3 186.2h.01M468.3 184.6h.01M481.5 185.3h.01M464.3 187.4h.01M464.7 187.4h.01M465.6 182.4h.01M467.7 183.2h.01M465.4 182.4h.01M489.3 183.6h.01M470.4 186.5h.01M464.9 177.4h.01M471.8 187.4h.01M463.9 187.0h.01M464.5 185.4h.01M466.6 186.0h.01M465.1 187.1h.01M466.1 173.5h.01M464.4 166.3h.01M467.5 187.1h.01M465.8 183.0h.01M464.9 159.7h.01M468.5 186.7h.01M476.4 176.1h.01M464.2 185.1h.01M464.4 178.6h.01M464.2 173.5h.01M464.4 187.5h.01M467.5 164.6h.01M465.0 165.8h.01M466.2 187.4h.01M466.5 175.9h.01M464.5 169.4h.01M463.8 160.2h.01M468.1 168.7h.01M465.6 162.7h.01M466.2 160.2h.01M463.9 163.2h.01M463.8 187.2h.01M482.0 186.5h.01M486.1 185.9h.01M489.4 185.8h.01M492.8 185.1h.01M496.1 184.7h.01M499.4 183.9h.01M503.5 182.9h.01M506.8 181.6h.01M511.0 180.3h.01M513.5 178.8h.01M516.8 176.8h.01M527.5 166.4h.01M477.9 181.9h.01M473.7 184.2h.01M464.2 44.2h.01M484.9 44.2h.01M465.4 140.5h.01M464.6 161.7h.01" stroke="#df2226" stroke-width="1.7" stroke-linecap="round" fill="none" opacity="1"/>
<path d="M381.7 45.9V187.5H529.2" stroke="#1a1a1a" stroke-width="1.3" fill="none"/>
<text x="376.5" y="191.9" font-size="12.4" text-anchor="end">0</text>
<text x="376.5" y="168.4" font-size="12.4" text-anchor="end">50</text>
<text x="376.5" y="144.9" font-size="12.4" text-anchor="end">100</text>
<text x="376.5" y="121.4" font-size="12.4" text-anchor="end">150</text>
<text x="376.5" y="97.9" font-size="12.4" text-anchor="end">200</text>
<text x="376.5" y="74.4" font-size="12.4" text-anchor="end">250</text>
<text x="376.5" y="50.9" font-size="12.4" text-anchor="end">300</text>
<text x="412.0" y="202.3" font-size="12.4" text-anchor="middle">-5</text>
<text x="455.5" y="202.3" font-size="12.4" text-anchor="middle">0</text>
<text x="496.9" y="202.3" font-size="12.4" text-anchor="middle">5</text>
<path d="M381.7 187.5h-3M381.7 164.0h-3M381.7 140.5h-3M381.7 117.0h-3M381.7 93.5h-3M381.7 70.0h-3M381.7 46.5h-3M414.1 187.5v3M455.5 187.5v3M496.9 187.5v3" stroke="#1a1a1a" stroke-width="1.2" fill="none"/>
<text x="455.2" y="36.1" font-size="14.8" text-anchor="middle">NC-vs-OV</text>
<text x="454.5" y="219.1" font-size="12.85" text-anchor="middle">log2(FoldChange)</text>
<text x="343.8" y="117.0" font-size="12.5" text-anchor="middle" transform="rotate(-90 343.8 117.0)">-log10(Singnificance)</text>
<text x="396.3" y="135.0" font-size="12.7">Down</text>
<text x="487.3" y="135.0" font-size="12.5">Up</text>
</g>
<text x="9.2" y="19.8" font-size="16" font-weight="bold">a</text>
<text x="10.0" y="242.0" font-size="16.3" font-weight="bold">b</text>
<rect x="56.3" y="279.6" width="23.0" height="19.2" fill="#fcd3d3"/>
<rect x="56.3" y="299.8" width="23.0" height="19.2" fill="#fddcdc"/>
<rect x="56.3" y="320.0" width="23.0" height="19.2" fill="#f5504f"/>
<text x="68.5" y="273.4" font-size="12.5" transform="rotate(-35.5 68.5 273.4)">MMP7</text>
<rect x="80.3" y="279.6" width="23.0" height="19.2" fill="#fcd3d3"/>
<rect x="80.3" y="299.8" width="23.0" height="19.2" fill="#fddcdc"/>
<rect x="80.3" y="320.0" width="23.0" height="19.2" fill="#f44747"/>
<text x="92.5" y="273.4" font-size="12.5" transform="rotate(-35.5 92.5 273.4)">MMP1</text>
<rect x="104.3" y="279.6" width="23.0" height="19.2" fill="#b4f3b4"/>
<rect x="104.3" y="299.8" width="23.0" height="19.2" fill="#d6f9d6"/>
<rect x="104.3" y="320.0" width="23.0" height="19.2" fill="#fa9c9c"/>
<text x="116.4" y="273.4" font-size="12.5" transform="rotate(-35.5 116.4 273.4)">MMP12</text>
<rect x="128.3" y="279.6" width="23.0" height="19.2" fill="#b4f3b4"/>
<rect x="128.3" y="299.8" width="23.0" height="19.2" fill="#aef0ae"/>
<rect x="128.3" y="320.0" width="23.0" height="19.2" fill="#fa9c9c"/>
<text x="140.4" y="273.4" font-size="12.5" transform="rotate(-35.5 140.4 273.4)">MMP23B</text>
<rect x="152.3" y="279.6" width="23.0" height="19.2" fill="#a9f0a9"/>
<rect x="152.3" y="299.8" width="23.0" height="19.2" fill="#aef0ae"/>
<rect x="152.3" y="320.0" width="23.0" height="19.2" fill="#fdcfcf"/>
<text x="164.4" y="273.4" font-size="12.5" transform="rotate(-35.5 164.4 273.4)">MMP2</text>
<rect x="176.3" y="279.6" width="23.0" height="19.2" fill="#cffacf"/>
<rect x="176.3" y="299.8" width="23.0" height="19.2" fill="#fdd5d5"/>
<rect x="176.3" y="320.0" width="23.0" height="19.2" fill="#fa9a9a"/>
<text x="188.3" y="273.4" font-size="12.5" transform="rotate(-35.5 188.3 273.4)">MMP11</text>
<rect x="200.3" y="279.6" width="23.0" height="19.2" fill="#fdd3d3"/>
<rect x="200.3" y="299.8" width="23.0" height="19.2" fill="#fdd5d5"/>
<rect x="200.3" y="320.0" width="23.0" height="19.2" fill="#f98f8f"/>
<text x="212.3" y="273.4" font-size="12.5" transform="rotate(-35.5 212.3 273.4)">MMP28</text>
<rect x="224.3" y="279.6" width="23.0" height="19.2" fill="#fdd3d3"/>
<rect x="224.3" y="299.8" width="23.0" height="19.2" fill="#fdd5d5"/>
<rect x="224.3" y="320.0" width="23.0" height="19.2" fill="#fa9c9c"/>
<text x="236.3" y="273.4" font-size="12.5" transform="rotate(-35.5 236.3 273.4)">MMP10</text>
<rect x="248.3" y="279.6" width="23.0" height="19.2" fill="#fdd3d3"/>
<rect x="248.3" y="299.8" width="23.0" height="19.2" fill="#fddada"/>
<rect x="248.3" y="320.0" width="23.0" height="19.2" fill="#f98d8d"/>
<text x="260.3" y="273.4" font-size="12.5" transform="rotate(-35.5 260.3 273.4)">MMP13</text>
<rect x="274.7" y="279.6" width="23.0" height="19.2" fill="#b4f3b4"/>
<rect x="274.7" y="299.8" width="23.0" height="19.2" fill="#d2f9d2"/>
<rect x="274.7" y="320.0" width="23.0" height="19.2" fill="#f88a8a"/>
<text x="284.2" y="273.4" font-size="12.5" transform="rotate(-35.5 284.2 273.4)">TGFB3</text>
<rect x="298.7" y="279.6" width="23.0" height="19.2" fill="#b0f2b0"/>
<rect x="298.7" y="299.8" width="23.0" height="19.2" fill="#a9f0a9"/>
<rect x="298.7" y="320.0" width="23.0" height="19.2" fill="#fdd8d8"/>
<text x="308.2" y="273.4" font-size="12.5" transform="rotate(-35.5 308.2 273.4)">TGFB1</text>
<rect x="322.7" y="279.6" width="23.0" height="19.2" fill="#b0f2b0"/>
<rect x="322.7" y="299.8" width="23.0" height="19.2" fill="#aef0ae"/>
<rect x="322.7" y="320.0" width="23.0" height="19.2" fill="#fdcfcf"/>
<text x="332.2" y="273.4" font-size="12.5" transform="rotate(-35.5 332.2 273.4)">LEFTY1</text>
<rect x="346.7" y="279.6" width="23.0" height="19.2" fill="#cffacf"/>
<rect x="346.7" y="299.8" width="23.0" height="19.2" fill="#b2f2b2"/>
<rect x="346.7" y="320.0" width="23.0" height="19.2" fill="#fdcfcf"/>
<text x="356.1" y="273.4" font-size="12.5" transform="rotate(-35.5 356.1 273.4)">GDF7</text>
<rect x="370.7" y="279.6" width="23.0" height="19.2" fill="#fdcaca"/>
<rect x="370.7" y="299.8" width="23.0" height="19.2" fill="#cffacf"/>
<rect x="370.7" y="320.0" width="23.0" height="19.2" fill="#fdd8d8"/>
<text x="380.1" y="273.4" font-size="12.5" transform="rotate(-35.5 380.1 273.4)">INHBA</text>
<rect x="394.7" y="279.6" width="23.0" height="19.2" fill="#b0f2b0"/>
<rect x="394.7" y="299.8" width="23.0" height="19.2" fill="#b2f2b2"/>
<rect x="394.7" y="320.0" width="23.0" height="19.2" fill="#fdcfcf"/>
<text x="404.1" y="273.4" font-size="12.5" transform="rotate(-35.5 404.1 273.4)">GDF6</text>
<rect x="418.7" y="279.6" width="23.0" height="19.2" fill="#b2f2b2"/>
<rect x="418.7" y="299.8" width="23.0" height="19.2" fill="#b2f2b2"/>
<rect x="418.7" y="320.0" width="23.0" height="19.2" fill="#fdcdcd"/>
<text x="428.0" y="273.4" font-size="12.5" transform="rotate(-35.5 428.0 273.4)">LEBP1</text>
<rect x="442.7" y="279.6" width="23.0" height="19.2" fill="#93ee93"/>
<rect x="442.7" y="299.8" width="23.0" height="19.2" fill="#9bef9b"/>
<rect x="442.7" y="320.0" width="23.0" height="19.2" fill="#fdcdcd"/>
<text x="452.0" y="273.4" font-size="12.5" transform="rotate(-35.5 452.0 273.4)">LEBP2</text>
<rect x="466.7" y="279.6" width="23.0" height="19.2" fill="#b4f4b4"/>
<rect x="466.7" y="299.8" width="23.0" height="19.2" fill="#b4f4b4"/>
<rect x="466.7" y="320.0" width="23.0" height="19.2" fill="#93ee93"/>
<text x="476.0" y="273.4" font-size="12.5" transform="rotate(-35.5 476.0 273.4)">LEBP3</text>
<text x="33.8" y="293.9" font-size="12.8">OV</text>
<text x="33.8" y="314.1" font-size="12.8">NC</text>
<text x="33.8" y="334.3" font-size="12.8">KD</text>
<path d="M31 289.7H28.4V309.9H31M28.4 301.3H25.9V329.1H30" stroke="#222" stroke-width="1" fill="none"/>
<path d="M66.9 344H264M285 344H478.5" stroke="#2a2a2a" stroke-width="1.25"/>
<text x="162.2" y="360.9" font-size="13.0" text-anchor="middle" textLength="187.5" lengthAdjust="spacingAndGlyphs">Matrix metallopeptidase (MMP)</text>
<text x="410.2" y="360.4" font-size="13.0" text-anchor="middle" textLength="95.0" lengthAdjust="spacingAndGlyphs">TGF-beta family</text>
<text x="12.3" y="379.5" font-size="16.3" font-weight="bold">c</text>
<rect x="56.3" y="424.0" width="23.0" height="19.2" fill="#fa8e8e"/>
<rect x="56.3" y="444.2" width="23.0" height="19.2" fill="#fdcbcb"/>
<rect x="56.3" y="464.5" width="23.0" height="19.2" fill="#00e900"/>
<text x="67.0" y="417.8" font-size="12.5" transform="rotate(-36 67.0 417.8)">CDK6</text>
<rect x="80.3" y="424.0" width="23.0" height="19.2" fill="#fa8e8e"/>
<rect x="80.3" y="444.2" width="23.0" height="19.2" fill="#fdcbcb"/>
<rect x="80.3" y="464.5" width="23.0" height="19.2" fill="#00e900"/>
<text x="91.2" y="417.8" font-size="12.5" transform="rotate(-36 91.2 417.8)">CCNH</text>
<rect x="104.3" y="424.0" width="23.0" height="19.2" fill="#fa8e8e"/>
<rect x="104.3" y="444.2" width="23.0" height="19.2" fill="#fa8e8e"/>
<rect x="104.3" y="464.5" width="23.0" height="19.2" fill="#98f798"/>
<text x="115.3" y="417.8" font-size="12.5" transform="rotate(-36 115.3 417.8)">CCNA2</text>
<rect x="128.3" y="424.0" width="23.0" height="19.2" fill="#fdcbcb"/>
<rect x="128.3" y="444.2" width="23.0" height="19.2" fill="#fdcbcb"/>
<rect x="128.3" y="464.5" width="23.0" height="19.2" fill="#00e900"/>
<text x="139.5" y="417.8" font-size="12.5" transform="rotate(-36 139.5 417.8)">CDK7</text>
<rect x="152.3" y="424.0" width="23.0" height="19.2" fill="#fdcbcb"/>
<rect x="152.3" y="444.2" width="23.0" height="19.2" fill="#fdcbcb"/>
<rect x="152.3" y="464.5" width="23.0" height="19.2" fill="#00e900"/>
<text x="163.7" y="417.8" font-size="12.5" transform="rotate(-36 163.7 417.8)">CCNC</text>
<rect x="176.3" y="424.0" width="23.0" height="19.2" fill="#f80000"/>
<rect x="176.3" y="444.2" width="23.0" height="19.2" fill="#fdcbcb"/>
<rect x="176.3" y="464.5" width="23.0" height="19.2" fill="#fdcbcb"/>
<text x="187.9" y="417.8" font-size="12.5" transform="rotate(-36 187.9 417.8)">CCNG1</text>
<rect x="200.3" y="424.0" width="23.0" height="19.2" fill="#fdcbcb"/>
<rect x="200.3" y="444.2" width="23.0" height="19.2" fill="#98f798"/>
<rect x="200.3" y="464.5" width="23.0" height="19.2" fill="#00e900"/>
<text x="212.0" y="417.8" font-size="12.5" transform="rotate(-36 212.0 417.8)">CCND1</text>
<rect x="224.3" y="424.0" width="23.0" height="19.2" fill="#fa8e8e"/>
<rect x="224.3" y="444.2" width="23.0" height="19.2" fill="#fdcbcb"/>
<rect x="224.3" y="464.5" width="23.0" height="19.2" fill="#98f798"/>
<text x="236.2" y="417.8" font-size="12.5" transform="rotate(-36 236.2 417.8)">CDK15</text>
<rect x="248.3" y="424.0" width="23.0" height="19.2" fill="#fa8e8e"/>
<rect x="248.3" y="444.2" width="23.0" height="19.2" fill="#fdcbcb"/>
<rect x="248.3" y="464.5" width="23.0" height="19.2" fill="#98f798"/>
<text x="260.4" y="417.8" font-size="12.5" transform="rotate(-36 260.4 417.8)">CCNB2</text>
<rect x="272.3" y="424.0" width="23.0" height="19.2" fill="#fa8e8e"/>
<rect x="272.3" y="444.2" width="23.0" height="19.2" fill="#fdcbcb"/>
<rect x="272.3" y="464.5" width="23.0" height="19.2" fill="#98f798"/>
<text x="284.5" y="417.8" font-size="12.5" transform="rotate(-36 284.5 417.8)">CDC6</text>
<rect x="296.3" y="424.0" width="23.0" height="19.2" fill="#fa8e8e"/>
<rect x="296.3" y="444.2" width="23.0" height="19.2" fill="#98f798"/>
<rect x="296.3" y="464.5" width="23.0" height="19.2" fill="#98f798"/>
<text x="308.7" y="417.8" font-size="12.5" transform="rotate(-36 308.7 417.8)">CCNB1</text>
<rect x="320.3" y="424.0" width="23.0" height="19.2" fill="#98f798"/>
<rect x="320.3" y="444.2" width="23.0" height="19.2" fill="#fa8e8e"/>
<rect x="320.3" y="464.5" width="23.0" height="19.2" fill="#fa8e8e"/>
<text x="332.9" y="417.8" font-size="12.5" transform="rotate(-36 332.9 417.8)">CDKN1C</text>
<rect x="344.3" y="424.0" width="23.0" height="19.2" fill="#00e900"/>
<rect x="344.3" y="444.2" width="23.0" height="19.2" fill="#98f798"/>
<rect x="344.3" y="464.5" width="23.0" height="19.2" fill="#fdcbcb"/>
<text x="357.0" y="417.8" font-size="12.5" transform="rotate(-36 357.0 417.8)">CDKN1A</text>
<rect x="371.1" y="424.0" width="23.0" height="19.2" fill="#f80000"/>
<rect x="371.1" y="444.2" width="23.0" height="19.2" fill="#fdcbcb"/>
<rect x="371.1" y="464.5" width="23.0" height="19.2" fill="#fdcbcb"/>
<text x="381.2" y="417.8" font-size="12.5" transform="rotate(-36 381.2 417.8)">CD24</text>
<rect x="395.1" y="424.0" width="23.0" height="19.2" fill="#f80000"/>
<rect x="395.1" y="444.2" width="23.0" height="19.2" fill="#fa8e8e"/>
<rect x="395.1" y="464.5" width="23.0" height="19.2" fill="#fdcbcb"/>
<text x="405.4" y="417.8" font-size="12.5" transform="rotate(-36 405.4 417.8)">CD44</text>
<rect x="419.1" y="424.0" width="23.0" height="19.2" fill="#fa8e8e"/>
<rect x="419.1" y="444.2" width="23.0" height="19.2" fill="#fdcbcb"/>
<rect x="419.1" y="464.5" width="23.0" height="19.2" fill="#fa8e8e"/>
<text x="429.6" y="417.8" font-size="12.5" transform="rotate(-36 429.6 417.8)">KIT</text>
<rect x="443.1" y="424.0" width="23.0" height="19.2" fill="#fa8e8e"/>
<rect x="443.1" y="444.2" width="23.0" height="19.2" fill="#fdcbcb"/>
<rect x="443.1" y="464.5" width="23.0" height="19.2" fill="#98f798"/>
<text x="453.7" y="417.8" font-size="12.5" transform="rotate(-36 453.7 417.8)">NANOG</text>
<rect x="467.1" y="424.0" width="23.0" height="19.2" fill="#fdcbcb"/>
<rect x="467.1" y="444.2" width="23.0" height="19.2" fill="#fa8e8e"/>
<rect x="467.1" y="464.5" width="23.0" height="19.2" fill="#fdcbcb"/>
<text x="477.9" y="417.8" font-size="12.5" transform="rotate(-36 477.9 417.8)">POU5F1</text>
<text x="33.8" y="438.3" font-size="12.8">OV</text>
<text x="33.8" y="458.6" font-size="12.8">NC</text>
<text x="33.8" y="478.8" font-size="12.8">KD</text>
<path d="M31 434.1H28.4V454.4H31M28.4 445.8H25.9V473.6H30" stroke="#222" stroke-width="1" fill="none"/>
<path d="M66 488H357.5M384 488H479.8" stroke="#2a2a2a" stroke-width="1.25"/>
<text x="211.3" y="503.6" font-size="12.7" text-anchor="middle" textLength="204.5" lengthAdjust="spacingAndGlyphs">Cell cycle, Cell division, Proliferation</text>
<text x="431.5" y="503.6" font-size="12.6" text-anchor="middle">Stemness</text>
<rect x="502.2" y="424.0" width="11.2" height="12.1" fill="#f80000"/>
<rect x="502.2" y="436.0" width="11.2" height="12.1" fill="#fa8e8e"/>
<rect x="502.2" y="448.0" width="11.2" height="12.1" fill="#fdcbcb"/>
<rect x="502.2" y="460.0" width="11.2" height="12.1" fill="#98f798"/>
<rect x="502.2" y="472.0" width="11.2" height="12.1" fill="#00e900"/>
<text x="508.2" y="420.2" font-size="8.2" text-anchor="middle">High</text>
<text x="508.2" y="491.0" font-size="8.2" text-anchor="middle">Low</text>
<text x="11.8" y="537.8" font-size="16.3" font-weight="bold">d</text>
<circle cx="113.95" cy="639" r="80.5" fill="#1e992d" fill-opacity="0.5"/>
<circle cx="219.5" cy="639" r="45.3" fill="#f00000" fill-opacity="0.5"/>
<path d="M184.4 556.5V642" stroke="#666" stroke-width="0.7" stroke-dasharray="1 1.2"/>
<text x="113.8" y="552.7" font-size="12.5" text-anchor="middle" textLength="81.1" lengthAdjust="spacingAndGlyphs">Transcriptome</text>
<text x="183.6" y="552.7" font-size="12.3" text-anchor="middle" font-weight="bold">83</text>
<text x="220.0" y="588.2" font-size="12.7" text-anchor="middle">Proteome</text>
<text x="114.0" y="644.4" font-size="12.9" text-anchor="middle">2066</text>
<text x="220.4" y="644.4" font-size="12.9" text-anchor="middle">664</text>
<text x="217.7" y="697.2" font-size="12.7" text-anchor="middle">Protein_FC: 1.5</text>
<text x="25.9" y="735.7" font-size="12.65">Gene_FC: 2; Gene_Sig&lt;0.001</text>
<path d="M437.8 531V721" stroke="#b4b4b4" stroke-width="1.3"/>
<path d="M334.6 626.3H542" stroke="#666" stroke-width="1"/>
<path d="M334.6 650.2L542.8 598.3" stroke="#8a8a8a" stroke-width="0.9" stroke-dasharray="1.6 1.4"/>
<path d="M412.1 621.5h.01M419.9 620.4h.01M421.5 619.9h.01M423.0 621.0h.01M424.7 620.6h.01M425.8 615.3h.01M426.3 620.1h.01M413.8 630.6h.01M413.2 634.5h.01M418.8 631.3h.01M420.4 631.7h.01M421.9 632.4h.01M423.0 630.6h.01M424.3 629.7h.01M425.4 630.2h.01M425.8 631.9h.01M424.7 633.0h.01M422.5 634.5h.01M421.5 636.1h.01M422.1 637.8h.01M423.6 637.8h.01M425.4 639.6h.01M421.0 633.5h.01M423.6 631.7h.01M453.5 609.5h.01M450.9 614.9h.01M453.1 614.5h.01M455.3 616.0h.01M450.3 617.5h.01M451.6 618.8h.01M450.3 620.4h.01M452.0 621.5h.01M454.2 621.9h.01M455.9 621.0h.01M456.8 618.8h.01M455.3 619.3h.01M460.3 613.2h.01M462.5 622.5h.01M467.7 619.3h.01M470.6 621.0h.01M472.7 618.6h.01M459.2 631.3h.01M449.4 618.8h.01M452.7 617.1h.01M451.1 620.6h.01" stroke="#0a0ae6" stroke-width="2.5" stroke-linecap="round" fill="none" opacity="1"/>
<rect x="334.6" y="530.8" width="207.3" height="190.1" fill="none" stroke="#1a1a1a" stroke-width="1.4"/>
<text x="359.9" y="735.2" font-size="10.5" text-anchor="middle">-4</text>
<text x="398.4" y="735.2" font-size="10.5" text-anchor="middle">-2</text>
<text x="437.0" y="735.2" font-size="10.5" text-anchor="middle">0</text>
<text x="475.6" y="735.2" font-size="10.5" text-anchor="middle">2</text>
<text x="514.1" y="735.2" font-size="10.5" text-anchor="middle">4</text>
<text x="327.0" y="696.8" font-size="10.6" text-anchor="middle" transform="rotate(-90 327.0 696.8)">-20</text>
<text x="327.0" y="661.8" font-size="10.6" text-anchor="middle" transform="rotate(-90 327.0 661.8)">-10</text>
<text x="327.0" y="626.8" font-size="10.6" text-anchor="middle" transform="rotate(-90 327.0 626.8)">0</text>
<text x="327.0" y="591.8" font-size="10.6" text-anchor="middle" transform="rotate(-90 327.0 591.8)">10</text>
<text x="327.0" y="556.8" font-size="10.6" text-anchor="middle" transform="rotate(-90 327.0 556.8)">20</text>
<path d="M360.7 721.1v3M399.2 721.1v3M437.8 721.1v3M476.4 721.1v3M514.9 721.1v3M334.6 696.3h-3M334.6 661.3h-3M334.6 626.3h-3M334.6 591.3h-3M334.6 556.3h-3" stroke="#444" stroke-width="0.8"/>
<text x="439.5" y="748.6" font-size="12.7" text-anchor="middle">Protein Log2 (Ratio)</text>
<text x="305.3" y="637.0" font-size="13.0" text-anchor="middle" transform="rotate(-90 305.3 637.0)">Gene Log2 (Ratio)</text>
<text x="341.6" y="546.2" font-size="12.85" font-style="italic">R(spearman) = 0.5360</text>
<circle cx="344" cy="557.6" r="1.3" fill="#0a0ae6"/>
<text x="348.4" y="562.2" font-size="12.8">DEPs_DEGs</text>
<text x="11.8" y="762.0" font-size="16.3" font-weight="bold">e</text>
<circle cx="135.9" cy="831.8" r="50.7" fill="#1e992d" fill-opacity="0.5"/>
<circle cx="177.3" cy="828.5" r="45.7" fill="#f00000" fill-opacity="0.5"/>
<path d="M165.82 872.73A45.7 45.7 0 0 1 158.95 786.64A50.7 50.7 0 0 1 165.82 872.73Z" fill="#d06464"/>
<text x="127.3" y="776.4" font-size="12.7" text-anchor="middle">OV&gt;KD</text>
<text x="187.3" y="776.4" font-size="12.7" text-anchor="middle">NC&gt;KD</text>
<text x="116.2" y="829.6" font-size="12.8" text-anchor="middle">17</text>
<text x="159.2" y="829.4" font-size="12.8" text-anchor="middle">15</text>
<text x="204.2" y="828.2" font-size="12.8" text-anchor="middle">14</text>
<text x="159.3" y="848.5" font-size="12.5" text-anchor="middle" style="fill:#fff">CD83</text>
<text x="161.5" y="861.3" font-size="12.5" text-anchor="middle" style="fill:#fff">KIT</text>
<circle cx="419.6" cy="832.5" r="51.0" fill="#1e992d" fill-opacity="0.5"/>
<circle cx="461.1" cy="828.8" r="45.9" fill="#f00000" fill-opacity="0.5"/>
<path d="M450.11 873.37A45.9 45.9 0 0 1 442.40 786.88A51.0 51.0 0 0 1 450.11 873.37Z" fill="#d06464"/>
<text x="410.2" y="776.5" font-size="12.7" text-anchor="middle">KD&gt;OV</text>
<text x="470.5" y="776.5" font-size="12.7" text-anchor="middle">KD&gt;NC</text>
<text x="399.1" y="827.5" font-size="12.5" text-anchor="middle">22</text>
<text x="442.3" y="826.5" font-size="12.5" text-anchor="middle">20</text>
<text x="486.5" y="825.9" font-size="12.5" text-anchor="middle">16</text>
<text x="444.9" y="842.9" font-size="12.5" text-anchor="middle" style="fill:#fff">MMP1</text>
<text x="444.9" y="856.5" font-size="12.5" text-anchor="middle" style="fill:#fff">MMP7</text>
<text x="15.2" y="892.3" font-size="16.3" font-weight="bold">f</text>
<rect x="129.1" y="958.6" width="19.7" height="38.8" fill="#f83c0c"/>
<path d="M129.8 997.4V921.6H148.1V997.4" fill="none" stroke="#0d0d0d" stroke-width="1.6"/>
<path d="M138.9 921.6V912.6M133.8 912.6h10.4M138.9 958.6V955.1M133.8 955.1h10.4" fill="none" stroke="#0d0d0d" stroke-width="1.6"/>
<rect x="157.4" y="986.2" width="19.0" height="11.2" fill="#f83c0c"/>
<path d="M158.1 997.4V970.7H175.7V997.4" fill="none" stroke="#0d0d0d" stroke-width="1.6"/>
<path d="M166.9 970.7V969.0M161.7 969.0h10.4M166.9 986.2V983.1M161.7 983.1h10.4" fill="none" stroke="#0d0d0d" stroke-width="1.6"/>
<rect x="185.1" y="983.8" width="19.7" height="13.6" fill="#f83c0c"/>
<path d="M185.8 997.4V969.0H204.1V997.4" fill="none" stroke="#0d0d0d" stroke-width="1.6"/>
<path d="M194.9 969.0V964.1M189.8 964.1h10.4M194.9 983.8V979.7M189.8 979.7h10.4" fill="none" stroke="#0d0d0d" stroke-width="1.6"/>
<path d="M124.7 905.0V997.4H209.3" stroke="#0d0d0d" stroke-width="1.7" fill="none"/>
<text x="117.8" y="1002.0" font-size="13.0" text-anchor="end">0</text>
<text x="117.8" y="979.1" font-size="13.0" text-anchor="end">500</text>
<text x="117.8" y="956.2" font-size="13.0" text-anchor="end">1000</text>
<text x="117.8" y="933.3" font-size="13.0" text-anchor="end">1500</text>
<text x="117.8" y="910.4" font-size="13.0" text-anchor="end">2000</text>
<path d="M124.7 997.4h-4.6M124.7 974.5h-4.6M124.7 951.6h-4.6M124.7 928.7h-4.6M124.7 905.8h-4.6M138.9 997.4v4M166.9 997.4v4M194.9 997.4v4" stroke="#0d0d0d" stroke-width="1.6"/>
<text x="145.8" y="1009.4" font-size="12.8" text-anchor="end" transform="rotate(-40 145.8 1009.4)">KD</text>
<text x="173.7" y="1009.4" font-size="12.8" text-anchor="end" transform="rotate(-40 173.7 1009.4)">NC</text>
<text x="201.8" y="1009.4" font-size="12.8" text-anchor="end" transform="rotate(-40 201.8 1009.4)">OV</text>
<path d="M139.2 905V891.7H194.6V940.6M139.2 901.6H167.8V946.8" fill="none" stroke="#111" stroke-width="1.2"/>
<text x="168.5" y="892.5" font-size="14" text-anchor="middle" font-weight="bold">**</text>
<text x="154.3" y="902.8" font-size="14" text-anchor="middle" font-weight="bold">**</text>
<text x="68.8" y="951.8" font-size="12.7" text-anchor="middle" transform="rotate(-90 68.8 951.8)">Content of MMP1</text>
<text x="83.8" y="949.6" font-size="13.0" text-anchor="middle" transform="rotate(-90 83.8 949.6)">(pg/ml)</text>
<rect x="427.9" y="956.2" width="19.7" height="41.1" fill="#f83c0c"/>
<path d="M428.6 997.3V917.0H446.9V997.3" fill="none" stroke="#0d0d0d" stroke-width="1.6"/>
<path d="M437.8 917.0V914.0M432.6 914.0h10.4M437.8 956.2V949.3M432.6 949.3h10.4" fill="none" stroke="#0d0d0d" stroke-width="1.6"/>
<rect x="456.2" y="988.3" width="19.0" height="9.0" fill="#f83c0c"/>
<path d="M456.9 997.3V973.4H474.5V997.3" fill="none" stroke="#0d0d0d" stroke-width="1.6"/>
<path d="M465.7 973.4V970.4M460.5 970.4h10.4M465.7 988.3V985.5M460.5 985.5h10.4" fill="none" stroke="#0d0d0d" stroke-width="1.6"/>
<rect x="484.2" y="985.5" width="19.0" height="11.8" fill="#f83c0c"/>
<path d="M484.9 997.3V969.6H502.5V997.3" fill="none" stroke="#0d0d0d" stroke-width="1.6"/>
<path d="M493.7 969.6V966.2M488.5 966.2h10.4M493.7 985.5V982.1M488.5 982.1h10.4" fill="none" stroke="#0d0d0d" stroke-width="1.6"/>
<path d="M422.4 905.1V997.3H509.0" stroke="#0d0d0d" stroke-width="1.7" fill="none"/>
<text x="415.5" y="1001.9" font-size="13.0" text-anchor="end">0</text>
<text x="415.5" y="979.0" font-size="13.0" text-anchor="end">250</text>
<text x="415.5" y="956.2" font-size="13.0" text-anchor="end">500</text>
<text x="415.5" y="933.4" font-size="13.0" text-anchor="end">750</text>
<text x="415.5" y="910.5" font-size="13.0" text-anchor="end">1000</text>
<path d="M422.4 997.3h-4.6M422.4 974.4h-4.6M422.4 951.6h-4.6M422.4 928.8h-4.6M422.4 905.9h-4.6M437.8 997.3v4M465.7 997.3v4M493.7 997.3v4" stroke="#0d0d0d" stroke-width="1.6"/>
<text x="444.6" y="1009.3" font-size="12.8" text-anchor="end" transform="rotate(-40 444.6 1009.3)">KD</text>
<text x="472.5" y="1009.3" font-size="12.8" text-anchor="end" transform="rotate(-40 472.5 1009.3)">NC</text>
<text x="500.5" y="1009.3" font-size="12.8" text-anchor="end" transform="rotate(-40 500.5 1009.3)">OV</text>
<path d="M437.2 906.5V893.3H493.8V942.0M437.2 903.7H465.9V948.3" fill="none" stroke="#111" stroke-width="1.2"/>
<text x="467.1" y="894.1" font-size="14" text-anchor="middle" font-weight="bold">**</text>
<text x="452.3" y="904.9" font-size="14" text-anchor="middle" font-weight="bold">**</text>
<text x="368.3" y="951.6" font-size="12.7" text-anchor="middle" transform="rotate(-90 368.3 951.6)">Content of MMP7</text>
<text x="381.6" y="949.4" font-size="13.0" text-anchor="middle" transform="rotate(-90 381.6 949.4)">(pg/ml)</text>
<rect x="240.3" y="898.8" width="9.4" height="9.4" fill="#fff" stroke="#111" stroke-width="1"/>
<rect x="239.8" y="913.8" width="10.3" height="9.6" fill="#f00"/>
<text x="252.6" y="907.5" font-size="12.7">Culture media</text>
<text x="252.6" y="922.3" font-size="12.7">Cell lysate</text>
</svg>
</body></html>
